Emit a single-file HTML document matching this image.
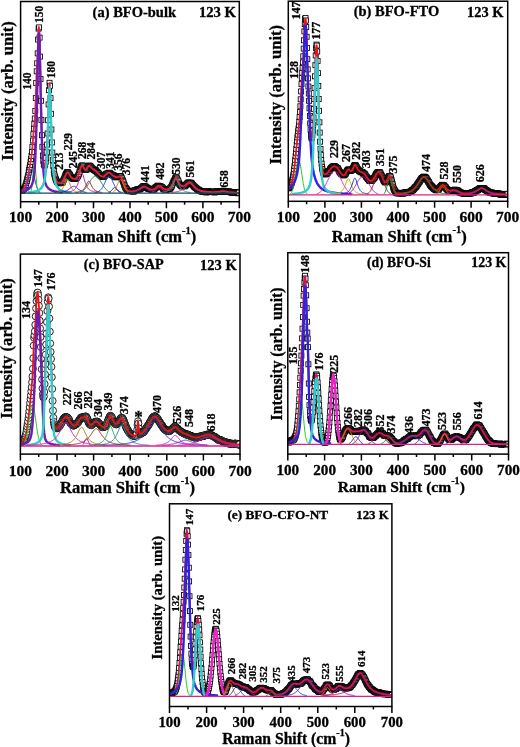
<!DOCTYPE html>
<html><head><meta charset="utf-8"><title>Raman spectra</title>
<style>html,body{margin:0;padding:0;background:#fff;overflow:hidden}svg{display:block}text{font-family:"Liberation Serif", "Times New Roman", serif;font-weight:bold;fill:#000;stroke:#000;stroke-width:0.3}path{fill:none}</style>
</head><body>
<svg width="520" height="747" viewBox="0 0 520 747">
<defs>
<marker id="ma" markerUnits="userSpaceOnUse" markerWidth="7" markerHeight="7" refX="3.5" refY="3.5" overflow="visible"><rect x="1" y="1" width="5" height="5" fill="#fff" stroke="#000" stroke-width="0.85"/></marker>
<marker id="mb" markerUnits="userSpaceOnUse" markerWidth="7" markerHeight="7" refX="3.5" refY="3.5" overflow="visible"><rect x="1" y="1" width="5" height="5" fill="#fff" stroke="#000" stroke-width="0.85"/></marker>
<marker id="mc" markerUnits="userSpaceOnUse" markerWidth="9.0" markerHeight="9.0" refX="4.5" refY="4.5" overflow="visible"><circle cx="4.5" cy="4.5" r="3.5" fill="#fff" stroke="#000" stroke-width="0.85"/></marker>
<marker id="md" markerUnits="userSpaceOnUse" markerWidth="7" markerHeight="7" refX="3.5" refY="3.5" overflow="visible"><rect x="1" y="1" width="5" height="5" fill="#fff" stroke="#000" stroke-width="0.85"/></marker>
<marker id="me" markerUnits="userSpaceOnUse" markerWidth="7" markerHeight="7" refX="3.5" refY="3.5" overflow="visible"><rect x="1" y="1" width="5" height="5" fill="#fff" stroke="#000" stroke-width="0.85"/></marker>
</defs>
<clipPath id="ca"><rect x="20.6" y="1.5" width="218.7" height="200.2"/></clipPath>
<g clip-path="url(#ca)">
<polyline points="20.6,190.5 21.1,190.3 21.5,190.8 22,190.7 22.5,190.5 23,189.9 23.4,189.5 23.9,188.9 24.4,188.3 24.9,187.6 25.3,186.3 25.8,184.8 26.3,182.8 26.8,181.1 27.2,179.3 27.7,177.4 28.2,175.3 28.7,172.5 29.1,170 29.6,167.4 30.1,165.1 30.6,162.1 31,159.1 31.5,155.9 32,152.1 32.4,146.8 32.9,140.5 33.4,134.2 33.9,128.6 34.3,123.7 34.8,118.5 35.3,110.9 35.8,98.1 36.2,83 36.7,71.3 37.2,63.3 37.7,53.4 38.1,39.6 38.6,28.6 39.1,27.4 39.6,37.6 40,56.6 40.5,78.9 41,100.8 41.4,119.9 41.9,135.2 42.4,146.8 42.9,155.5 43.3,161 43.8,164.2 44.3,165.4 44.8,165.3 45.2,164.3 45.7,161.7 46.2,158.1 46.7,152.3 47.1,144.6 47.6,133.5 48.1,120.2 48.6,104.4 49,90.2 49.5,82.8 50,85.8 50.5,98.1 50.9,113.8 51.4,129.5 51.9,142.4 52.3,152.6 52.8,160.1 53.3,165.9 53.8,170.2 54.2,173.7 54.7,175.6 55.2,177.5 55.7,178.8 56.1,180 56.6,180.9 57.1,181.9 57.6,182.3 58,182.9 58.5,182.9 59,183.2 59.5,183.2 59.9,183.2 60.4,183 60.9,182.7 61.4,182.6 61.8,182.9 62.3,182.6 62.8,181.9 63.2,180.7 63.7,179.8 64.2,178.6 64.7,177.5 65.1,176.2 65.6,175 66.1,174 66.6,173.2 67,172.4 67.5,171.9 68,172.2 68.5,173.1 68.9,173.8 69.4,174.2 69.9,175 70.4,175.9 70.8,177 71.3,177.5 71.8,177.8 72.2,178.1 72.7,178.5 73.2,178.8 73.7,178.7 74.1,178.9 74.6,178.8 75.1,178.7 75.6,178.3 76,178.3 76.5,177.9 77,177.5 77.5,176.6 77.9,176.1 78.4,175.1 78.9,173.9 79.4,172.2 79.8,170.3 80.3,168.7 80.8,167.4 81.3,166.5 81.7,165.9 82.2,165.4 82.7,165.6 83.1,166.4 83.6,167.5 84.1,168.6 84.6,169.3 85,169.7 85.5,169.8 86,169.8 86.5,169.7 86.9,168.9 87.4,167.8 87.9,166.7 88.4,166.2 88.8,165.7 89.3,165.7 89.8,165.8 90.3,166.2 90.7,166.7 91.2,167.3 91.7,167.8 92.2,168.5 92.6,168.8 93.1,169.3 93.6,169.3 94,169.8 94.5,170.1 95,170.5 95.5,170.5 95.9,171 96.4,171.4 96.9,172 97.4,172.6 97.8,172.7 98.3,173.1 98.8,173.7 99.3,174.4 99.7,175.1 100.2,175.2 100.7,175.7 101.2,176 101.6,176.4 102.1,176.8 102.6,176.8 103,177 103.5,177 104,176.8 104.5,176.1 104.9,175.4 105.4,174.6 105.9,174.2 106.4,173.9 106.8,173.7 107.3,173.7 107.8,173.5 108.3,173.4 108.7,172.9 109.2,172.7 109.7,172.9 110.2,173.3 110.6,174.1 111.1,174.4 111.6,174.7 112.1,174.8 112.5,175.3 113,175.3 113.5,175.4 113.9,175.6 114.4,176.2 114.9,176.8 115.4,177 115.8,177.2 116.3,177.2 116.8,177.2 117.3,176.9 117.7,176.6 118.2,176.5 118.7,176.4 119.2,176.5 119.6,176.5 120.1,176.3 120.6,176.6 121.1,176.6 121.5,177.7 122,178.5 122.5,179.8 123,180.9 123.4,182.2 123.9,183.7 124.4,185.1 124.8,186.3 125.3,187.5 125.8,188 126.3,188.8 126.7,189.1 127.2,190.3 127.7,190.7 128.2,191.2 128.6,191 129.1,191 129.6,191.1 130.1,191.1 130.5,191.3 131,190.9 131.5,190.8 132,190.8 132.4,191.3 132.9,191.3 133.4,191.5 133.9,191.4 134.3,190.9 134.8,190.4 135.3,190.1 135.7,190.3 136.2,190 136.7,189.8 137.2,189.5 137.6,189.4 138.1,189.3 138.6,189.1 139.1,189.4 139.5,189.3 140,189.2 140.5,188.7 141,188.3 141.4,188.1 141.9,187.8 142.4,187 142.9,186.5 143.3,186.3 143.8,186.4 144.3,186.5 144.7,186.4 145.2,186.7 145.7,186.6 146.2,187.2 146.6,187.4 147.1,187.9 147.6,188.2 148.1,188.4 148.5,188.9 149,188.6 149.5,189 150,188.9 150.4,189.3 150.9,189.3 151.4,189.8 151.9,189.9 152.3,190.1 152.8,189.7 153.3,189.6 153.8,189.2 154.2,189.1 154.7,188.5 155.2,187.9 155.6,187.4 156.1,187.3 156.6,187.2 157.1,186.5 157.5,185.8 158,185.8 158.5,185.8 159,186.2 159.4,186.2 159.9,186.5 160.4,186.5 160.9,186.8 161.3,186.7 161.8,187 162.3,187.4 162.8,188.2 163.2,188.8 163.7,188.8 164.2,189 164.7,189.4 165.1,189.8 165.6,189.7 166.1,189.6 166.5,189.4 167,189.3 167.5,189.1 168,189.3 168.4,189.2 168.9,189 169.4,188.9 169.9,188.5 170.3,188.3 170.8,187.4 171.3,187.1 171.8,185.7 172.2,184.8 172.7,183.4 173.2,182.5 173.7,181.5 174.1,180.8 174.6,179.9 175.1,178.6 175.5,177.6 176,177.3 176.5,177.6 177,178.5 177.4,179.5 177.9,180.4 178.4,181.3 178.9,182.7 179.3,184 179.8,184.7 180.3,184.9 180.8,185.5 181.2,185.7 181.7,186.4 182.2,186.3 182.7,186.1 183.1,185.5 183.6,185.9 184.1,185.9 184.6,186.4 185,185.8 185.5,185.6 186,184.9 186.4,184.4 186.9,184 187.4,183.2 187.9,182.9 188.3,182.5 188.8,182.7 189.3,182.8 189.8,182.9 190.2,182.7 190.7,182.8 191.2,182.9 191.7,183.5 192.1,184.1 192.6,184.9 193.1,185.3 193.6,185.8 194,186.5 194.5,186.7 195,187.3 195.5,187.5 195.9,188.1 196.4,188.2 196.9,189 197.3,189.2 197.8,189.8 198.3,189.7 198.8,189.8 199.2,190.2 199.7,190.6 200.2,191.1 200.7,191.1 201.1,191.3 201.6,191.2 202.1,191.6 202.6,191.6 203,191.8 203.5,191.6 204,191.6 204.5,191.7 204.9,191.8 205.4,191.8 205.9,192.2 206.3,192.3 206.8,192.3 207.3,191.7 207.8,191.4 208.2,191.3 208.7,191.5 209.2,192 209.7,192.1 210.1,192 210.6,191.7 211.1,191.9 211.6,192 212,192 212.5,191.6 213,191.6 213.5,191.8 213.9,192.2 214.4,192.3 214.9,192.3 215.4,192.1 215.8,191.8 216.3,191.5 216.8,191.4 217.2,191.6 217.7,191.7 218.2,191.9 218.7,191.7 219.1,191.5 219.6,191.4 220.1,191.6 220.6,191.8 221,191.8 221.5,191.7 222,191.7 222.5,191.4 222.9,190.9 223.4,190.8 223.9,190.8 224.4,191 224.8,191.1 225.3,191.4 225.8,191.7 226.3,191.6 226.7,191.9 227.2,192.1 227.7,192 228.1,191.6 228.6,191.3 229.1,191.7 229.6,191.6 230,191.9 230.5,192.1 231,192.3 231.5,192.6 231.9,192.3 232.4,192.5 232.9,192.2 233.4,192.3 233.8,192.4 234.3,192.4 234.8,192.5 235.3,192.5 235.7,192.5 236.2,192.6 236.7,192.7 237.1,193 237.6,193.2 238.1,193.2 238.6,192.8 239,192.6" fill="none" marker-start="url(#ma)" marker-mid="url(#ma)" marker-end="url(#ma)"/>
<path d="M20.6,190.9l.4,-.1 .3,-.2 .4,-.1 .4,-.2 .3,-.2 .4,-.2 .4,-.3 .3,-.3 .4,-.5 .3,-.5 .4,-.6 .4,-.7 .3,-.8 .4,-1 .4,-1.1 .3,-1.3 .4,-1.4 .4,-1.6 .3,-1.6 .4,-1.9 .4,-1.8 .3,-2 .4,-2 .3,-1.9 .4,-2 .4,-1.9 .3,-1.9 .4,-2.1 .4,-2.3 .3,-2.6 .4,-3.3 .4,-3.8 .3,-4.4 .4,-4.8 .4,-4.9 .3,-4.6 .4,-3.9 .4,-3.4 .3,-3.7 .4,-5.5 .3,-8.6 .4,-11.6 .4,-11.9 .3,-9.3 .4,-6.6 .4,-6.2 .3,-8.4 .4,-10.4 .4,-9.3 .3,-4.8 .4,2.1 .4,8.9 .3,14.1 .4,16.7 .3,17.3 .4,16.5 .4,14.7 .3,12.7 .4,10.4 .4,8.3 .3,6.4 .4,4.6 .4,3.3 .3,2.1 .4,1.1 .4,.3 .3,-.5 .4,-1.2 .4,-2.1 .3,-3 .4,-4.1 .3,-5.4 .4,-6.9 .4,-8.5 .3,-10.2 .4,-11.5 .4,-11.9 .3,-10.4 .4,-6.4 .4,-.4 .3,5.7 .4,10.3 .4,12.2 .3,12.1 .4,11 .3,9.4 .4,7.8 .4,6.3 .3,5 .4,4.1 .4,3.2 .3,2.5 .4,2 .4,1.7 .3,1.3 .4,1.1 .4,.8 .3,.8 .4,.6 .3,.5 .4,.4 .4,.3 .3,.2 .4,.2 .4,.2 .3,.1 .4,0 .4,0 .3,-.1 .4,-.1 .4,-.2 .3,-.2 .4,-.3 .4,-.4 .3,-.4 .4,-.5 .3,-.6 .4,-.7 .4,-.8 .3,-.8 .4,-.8 .4,-.9 .3,-.9 .4,-.9 .4,-.8 .3,-.6 .4,-.5 .4,-.3 .3,0 .4,.1 .3,.4 .4,.4 .4,.6 .3,.7 .4,.6 .4,.6 .3,.6 .4,.5 .4,.4 .3,.4 .4,.3 .4,.2 .3,.2 .4,.2 .4,.1 .3,.1 .4,0 .3,0 .4,0 .4,-.1 .3,-.1 .4,-.2 .4,-.2 .3,-.4 .4,-.4 .4,-.6 .3,-.7 .4,-.8 .4,-.9 .3,-1 .4,-1.2 .3,-1.2 .4,-1.2 .4,-1.2 .3,-1.1 .4,-.9 .4,-.7 .3,-.3 .4,0 .4,.3 .3,.5 .4,.6 .4,.7 .3,.7 .4,.6 .4,.4 .3,.3 .4,.1 .3,-.1 .4,-.3 .4,-.4 .3,-.5 .4,-.6 .4,-.6 .3,-.6 .4,-.5 .4,-.3 .3,-.1 .4,.1 .4,.2 .3,.3 .4,.3 .3,.4 .4,.4 .4,.4 .3,.4 .4,.3 .4,.3 .3,.2 .4,.3 .4,.2 .3,.2 .4,.3 .4,.2 .3,.3 .4,.2 .4,.3 .3,.3 .4,.4 .3,.3 .4,.4 .4,.4 .3,.4 .4,.4 .4,.4 .3,.4 .4,.4 .4,.3 .3,.4 .4,.3 .4,.2 .3,.2 .4,.2 .3,.1 .4,.1 .4,-0 .3,-.1 .4,-.1 .4,-.2 .3,-.3 .4,-.3 .4,-.3 .3,-.3 .4,-.4 .4,-.4 .3,-.4 .4,-.3 .4,-.3 .3,-.3 .4,-.2 .3,-.1 .4,0 .4,0 .3,.1 .4,.2 .4,.3 .3,.3 .4,.3 .4,.4 .3,.3 .4,.3 .4,.3 .3,.2 .4,.3 .3,.2 .4,.2 .4,.2 .3,.2 .4,.2 .4,.2 .3,.2 .4,.1 .4,.1 .3,.1 .4,-.1 .4,-.1 .3,-.1 .4,-.2 .4,-.2 .3,-.2 .4,-.1 .3,0 .4,0 .4,.2 .3,.3 .4,.5 .4,.6 .3,.7 .4,.8 .4,.9 .3,1 .4,1 .4,1 .3,.9 .4,1 .3,.9 .4,.8 .4,.8 .3,.6 .4,.6 .4,.5 .3,.4 .4,.4 .4,.3 .3,.2 .4,.2 .4,.1 .3,.1 .4,.1 .4,.1 .3,0 .4,0 .3,0 .4,0 .4,0 .3,0 .4,-.1 .4,0 .3,-.1 .4,-0 .4,-.1 .3,-0 .4,-.1 .4,-.1 .3,-.1 .4,-.1 .3,-.1 .4,-.1 .4,-.1 .3,-.2 .4,-.1 .4,-.2 .3,-.2 .4,-.2 .4,-.2 .3,-.2 .4,-.2 .4,-.2 .3,-.3 .4,-.2 .3,-.3 .4,-.2 .4,-.2 .3,-.3 .4,-.1 .4,-.2 .3,-.1 .4,-.1 .4,-0 .3,-0 .4,-0 .4,.2 .3,.1 .4,.2 .4,.2 .3,.2 .4,.2 .3,.2 .4,.3 .4,.2 .3,.2 .4,.2 .4,.2 .3,.1 .4,.2 .4,.1 .3,.1 .4,.1 .4,-0 .3,-0 .4,-0 .3,-0 .4,-.1 .4,-.1 .3,-.1 .4,-.2 .4,-.2 .3,-.3 .4,-.2 .4,-.3 .3,-.3 .4,-.3 .4,-.4 .3,-.3 .4,-.3 .4,-.3 .3,-.2 .4,-.2 .3,-.1 .4,-.1 .4,-0 .3,.1 .4,.2 .4,.2 .3,.3 .4,.2 .4,.4 .3,.3 .4,.3 .4,.3 .3,.3 .4,.3 .3,.2 .4,.2 .4,.2 .3,.1 .4,.2 .4,-0 .3,.1 .4,-0 .4,-0 .3,-.1 .4,-0 .4,-.2 .3,-.1 .4,-.2 .4,-.2 .3,-.2 .4,-.3 .3,-.3 .4,-.4 .4,-.4 .3,-.5 .4,-.5 .4,-.6 .3,-.7 .4,-.7 .4,-.9 .3,-.9 .4,-.9 .4,-.9 .3,-.9 .4,-.8 .3,-.7 .4,-.5 .4,-.1 .3,-0 .4,.4 .4,.5 .3,.8 .4,.8 .4,.8 .3,.8 .4,.8 .4,.7 .3,.6 .4,.5 .4,.5 .3,.4 .4,.3 .3,.2 .4,.2 .4,.2 .3,.1 .4,-0 .4,-0 .3,-.1 .4,-.1 .4,-.1 .3,-.2 .4,-.2 .4,-.3 .3,-.3 .4,-.3 .3,-.3 .4,-.3 .4,-.3 .3,-.4 .4,-.3 .4,-.2 .3,-.2 .4,-.2 .4,-.1 .3,-0 .4,.1 .4,.2 .3,.2 .4,.3 .4,.4 .3,.4 .4,.4 .3,.5 .4,.4 .4,.5 .3,.4 .4,.4 .4,.4 .3,.4 .4,.3 .4,.4 .3,.3 .4,.3 .4,.2 .3,.3 .4,.2 .3,.2 .4,.2 .4,.2 .3,.1 .4,.2 .4,.1 .3,.2 .4,.1 .4,.1 .3,.1 .4,.1 .4,.1 .3,.1 .4,.1 .4,.1 .3,0 .4,.1 .3,.1 .4,0 .4,.1 .3,0 .4,.1 .4,0 .3,0 .4,.1 .4,0 .3,0 .4,.1 .4,0 .3,0 .4,.1 .3,0 .4,0 .4,0 .3,0 .4,0 .4,.1 .3,0 .4,0 .4,0 .3,0 .4,0 .4,0 .3,0 .4,0 .3,0 .4,0 .4,-.1 .3,0 .4,0 .4,0 .3,0 .4,-.1 .4,0 .3,0 .4,-.1 .4,0 .3,-.1 .4,0 .4,-.1 .3,0 .4,-.1 .3,0 .4,-.1 .4,-.1 .3,0 .4,-.1 .4,-0 .3,-0 .4,-0 .4,-0 .3,-0 .4,-0 .4,-0 .3,.1 .4,.1 .3,0 .4,.1 .4,.1 .3,0 .4,.1 .4,.1 .3,.1 .4,0 .4,.1 .3,.1 .4,0 .4,.1 .3,0 .4,.1 .4,0 .3,0 .4,.1 .3,0 .4,0 .4,.1 .3,0 .4,0 .4,.1 .3,0 .4,0 .4,0 .3,0 .4,.1 .4,0 .3,0 .4,0 .3,0 .4,0 .4,0 .3,.1 .4,0 .4,0 .3,0 .4,0" stroke="#e8203c" stroke-width="1.8"/>
<path d="M22.8,192.4l.4,-.2 .3,-.2 .4,-.3 .3,-.4 .4,-.5 .4,-.6 .3,-.6 .4,-.9 .4,-.9 .3,-1.1 .4,-1.2 .4,-1.4 .3,-1.4 .4,-1.6 .4,-1.6 .3,-1.6 .4,-1.7 .3,-1.5 .4,-1.4 .4,-1.3 .3,-1.1 .4,-.7 .4,-.5 .3,-.2 .4,.2 .4,.5 .3,.7 .4,1.1 .4,1.3 .3,1.4 .4,1.5 .4,1.7 .3,1.6 .4,1.6 .3,1.6 .4,1.4 .4,1.4 .3,1.2 .4,1.1 .4,.9 .3,.9 .4,.6 .4,.6 .3,.5 .4,.4 .4,.3 .3,.2 .4,.2" stroke="#2233ee" stroke-width="1"/>
<path d="M30.1,192.8l.3,-.4 .4,-.7 .4,-1.2 .3,-1.7 .4,-2.6 .4,-3.3 .3,-4.1 .4,-4.4 .4,-4.5 .3,-3.7 .4,-2.6 .4,-.9 .3,.9 .4,2.6 .3,3.7 .4,4.5 .4,4.4 .3,4.1 .4,3.3 .4,2.6 .3,1.7 .4,1.2 .4,.7 .3,.4" stroke="#22cc22" stroke-width="1"/>
<path d="M20.6,191.8l.4,0 .3,-.1 .4,-0 .4,-.1 .3,-.1 .4,-0 .4,-.1 .3,-.1 .4,-.1 .3,-.1 .4,-.1 .4,-.1 .3,-.1 .4,-.2 .4,-.1 .3,-.2 .4,-.1 .4,-.2 .3,-.2 .4,-.2 .4,-.3 .3,-.3 .4,-.3 .3,-.3 .4,-.3 .4,-.5 .3,-.4 .4,-.5 .4,-.6 .3,-.7 .4,-.8 .4,-.9 .3,-1.1 .4,-1.3 .4,-1.7 .3,-2.1 .4,-2.8 .4,-3.6 .3,-4.7 .4,-6 .3,-7.8 .4,-9.6 .4,-11.8 .3,-13.9 .4,-15.9 .4,-17.1 .3,-17.5 .4,-16 .4,-12.2 .3,-6 .4,1.5 .4,8.8 .3,14 .4,16.8 .3,17.5 .4,16.8 .4,15.1 .3,13 .4,11 .4,8.8 .3,7.1 .4,5.5 .4,4.2 .3,3.2 .4,2.5 .4,1.9 .3,1.6 .4,1.2 .4,1 .3,.9 .4,.7 .3,.6 .4,.6 .4,.5 .3,.4 .4,.4 .4,.4 .3,.3 .4,.3 .4,.2 .3,.2 .4,.3 .4,.2 .3,.1 .4,.2 .3,.1 .4,.2 .4,.1 .3,.1 .4,.1 .4,.1 .3,.1 .4,.1 .4,.1 .3,.1 .4,.1 .4,0 .3,.1 .4,.1 .3,0 .4,.1 .4,0 .3,.1 .4,0 .4,.1 .3,0 .4,0 .4,.1 .3,0 .4,0 .4,.1 .3,0 .4,0 .4,.1 .3,0 .4,0" stroke="#6a1fb0" stroke-width="2.4"/>
<path d="M27.5,192.4l.4,0 .4,0 .3,-.1 .4,0 .3,0 .4,-.1 .4,-0 .3,-0 .4,-.1 .4,-0 .3,-.1 .4,-0 .4,-.1 .3,-0 .4,-.1 .4,-0 .3,-.1 .4,-.1 .4,-0 .3,-.1 .4,-.1 .3,-.1 .4,-.1 .4,-.1 .3,-.1 .4,-.2 .4,-.1 .3,-.1 .4,-.2 .4,-.2 .3,-.2 .4,-.2 .4,-.2 .3,-.3 .4,-.3 .3,-.3 .4,-.4 .4,-.4 .3,-.5 .4,-.5 .4,-.7 .3,-.7 .4,-.8 .4,-1 .3,-1.1 .4,-1.3 .4,-1.7 .3,-2 .4,-2.4 .4,-3.1 .3,-3.9 .4,-4.8 .3,-6 .4,-7.4 .4,-9 .3,-10.6 .4,-11.9 .4,-12.2 .3,-10.7 .4,-6.6 .4,-.7 .3,5.6 .4,10.1 .4,12.1 .3,12 .4,10.9 .3,9.3 .4,7.7 .4,6.3 .3,5.1 .4,4 .4,3.2 .3,2.6 .4,2.1 .4,1.7 .3,1.4 .4,1.1 .4,1 .3,.9 .4,.7 .3,.6 .4,.6 .4,.5 .3,.4 .4,.4 .4,.3 .3,.3 .4,.3 .4,.2 .3,.3 .4,.2 .4,.2 .3,.1 .4,.2 .4,.1 .3,.1 .4,.2 .3,.1 .4,.1 .4,.1 .3,.1 .4,0 .4,.1 .3,.1 .4,.1 .4,0 .3,.1 .4,0 .4,.1 .3,0 .4,.1 .3,0 .4,.1 .4,0 .3,0 .4,.1 .4,0 .3,0 .4,.1 .4,0 .3,0" stroke="#33cccc" stroke-width="2.4"/>
<path d="M54.1,192.4l.4,0 .4,-.1 .3,-.1 .4,-.2 .4,-.1 .3,-.1 .4,-.1 .3,-.1 .4,-.1 .4,-.1 .3,-.1 .4,-.1 .4,-.1 .3,-0 .4,-.1 .4,-0 .3,-.1 .4,-0 .4,-0 .3,-0 .4,-0 .4,.1 .3,-0 .4,.1 .3,-0 .4,.1 .4,.1 .3,.1 .4,.1 .4,.1 .3,.1 .4,.1 .4,.1 .3,.1 .4,.2 .4,.1 .3,.1 .4,0" stroke="#1122cc" stroke-width="1"/>
<path d="M56.7,192.4l.3,-.1 .4,0 .4,-.1 .3,-.1 .4,-.1 .4,-.1 .3,-.1 .4,-.2 .4,-.2 .3,-.2 .4,-.3 .4,-.3 .3,-.3 .4,-.5 .4,-.5 .3,-.5 .4,-.6 .3,-.7 .4,-.8 .4,-.8 .3,-.9 .4,-.9 .4,-.9 .3,-.9 .4,-.9 .4,-.7 .3,-.6 .4,-.4 .4,-.2 .3,.1 .4,.3 .3,.5 .4,.7 .4,.8 .3,.9 .4,.9 .4,1 .3,.8 .4,.9 .4,.8 .3,.7 .4,.6 .4,.6 .3,.5 .4,.5 .4,.4 .3,.3 .4,.3 .3,.2 .4,.2 .4,.2 .3,.2 .4,.1 .4,.1 .3,.1 .4,.1 .4,0 .3,.1 .4,0" stroke="#e08a00" stroke-width="1"/>
<path d="M60.7,192.4l.4,0 .3,-.1 .4,0 .4,-.1 .3,-0 .4,-.1 .3,-.1 .4,-.1 .4,-.1 .3,-.1 .4,-.1 .4,-.1 .3,-.2 .4,-.1 .4,-.2 .3,-.2 .4,-.2 .4,-.2 .3,-.2 .4,-.3 .3,-.2 .4,-.3 .4,-.3 .3,-.3 .4,-.3 .4,-.3 .3,-.3 .4,-.2 .4,-.3 .3,-.3 .4,-.2 .4,-.2 .3,-.2 .4,-.1 .4,-.1 .3,-0 .4,-0 .3,.1 .4,.2 .4,.2 .3,.2 .4,.3 .4,.2 .3,.3 .4,.3 .4,.3 .3,.3 .4,.3 .4,.3 .3,.3 .4,.2 .3,.3 .4,.2 .4,.2 .3,.2 .4,.2 .4,.2 .3,.1 .4,.2 .4,.1 .3,.2 .4,.1 .4,.1 .3,.1 .4,-0 .4,.1 .3,.1 .4,.1 .3,0 .4,.1 .4,0" stroke="#2222dd" stroke-width="1"/>
<path d="M65.1,192.4l.3,0 .4,-.1 .4,0 .3,-.1 .4,-0 .4,-0 .3,-.1 .4,-0 .3,-.1 .4,-.1 .4,-0 .3,-.1 .4,-.1 .4,-.1 .3,-.1 .4,-.1 .4,-.1 .3,-.1 .4,-.2 .4,-.1 .3,-.2 .4,-.2 .4,-.2 .3,-.3 .4,-.2 .3,-.3 .4,-.4 .4,-.4 .3,-.5 .4,-.5 .4,-.6 .3,-.7 .4,-.7 .4,-.8 .3,-1 .4,-1 .4,-1.1 .3,-1.2 .4,-1.3 .3,-1.3 .4,-1.3 .4,-1.2 .3,-1.1 .4,-.8 .4,-.5 .3,-.1 .4,.3 .4,.6 .3,.9 .4,1.1 .4,1.3 .3,1.3 .4,1.3 .4,1.2 .3,1.2 .4,1.1 .3,1 .4,.9 .4,.8 .3,.7 .4,.7 .4,.5 .3,.5 .4,.5 .4,.3 .3,.4 .4,.3 .4,.2 .3,.3 .4,.2 .3,.2 .4,.1 .4,.2 .3,.1 .4,.1 .4,.2 .3,.1 .4,.1 .4,-0 .3,.1 .4,.1 .4,.1 .3,-0 .4,.1 .4,-0 .3,.1 .4,-0 .3,.1 .4,-0 .4,-0 .3,.1 .4,-0" stroke="#cc2299" stroke-width="1"/>
<path d="M75.3,192.4l.3,0 .4,0 .4,-.1 .3,0 .4,-.1 .4,-.1 .3,-0 .4,-.1 .4,-.1 .3,-.1 .4,-0 .3,-.2 .4,-.1 .4,-.1 .3,-.1 .4,-.2 .4,-.2 .3,-.2 .4,-.2 .4,-.3 .3,-.3 .4,-.3 .4,-.4 .3,-.4 .4,-.4 .4,-.6 .3,-.6 .4,-.6 .3,-.7 .4,-.7 .4,-.8 .3,-.7 .4,-.8 .4,-.6 .3,-.6 .4,-.3 .4,-.1 .3,.1 .4,.3 .4,.6 .3,.6 .4,.8 .3,.7 .4,.8 .4,.7 .3,.7 .4,.6 .4,.6 .3,.6 .4,.4 .4,.4 .3,.4 .4,.3 .4,.3 .3,.3 .4,.2 .4,.2 .3,.2 .4,.2 .3,.1 .4,.1 .4,.1 .3,.2 .4,-0 .4,.1 .3,.1 .4,.1 .4,-0 .3,.1 .4,.1 .4,0 .3,.1 .4,0 .3,0" stroke="#aa1122" stroke-width="1"/>
<path d="M80,192.4l.4,-.1 .3,-.2 .4,-.1 .4,-.2 .3,-.2 .4,-.2 .4,-.2 .3,-.3 .4,-.3 .4,-.3 .3,-.3 .4,-.4 .4,-.4 .3,-.4 .4,-.4 .3,-.5 .4,-.5 .4,-.5 .3,-.5 .4,-.5 .4,-.6 .3,-.6 .4,-.6 .4,-.6 .3,-.6 .4,-.6 .4,-.6 .3,-.6 .4,-.6 .3,-.5 .4,-.6 .4,-.5 .3,-.5 .4,-.4 .4,-.4 .3,-.4 .4,-.3 .4,-.2 .3,-.2 .4,-.2 .4,-.1 .3,-0 .4,-0 .4,.1 .3,.2 .4,.2 .3,.2 .4,.3 .4,.4 .3,.4 .4,.4 .4,.5 .3,.5 .4,.6 .4,.5 .3,.6 .4,.6 .4,.6 .3,.6 .4,.6 .3,.6 .4,.6 .4,.6 .3,.6 .4,.5 .4,.5 .3,.5 .4,.5 .4,.5 .3,.4 .4,.4 .4,.4 .3,.4 .4,.3 .4,.3 .3,.3 .4,.3 .3,.2 .4,.2 .4,.2 .3,.2 .4,.1 .4,.2 .3,.1" stroke="#1a8a2a" stroke-width="1"/>
<path d="M95.3,192.4l.4,-.1 .4,0 .3,-.1 .4,-.1 .3,-.1 .4,-.1 .4,-.1 .3,-.2 .4,-.2 .4,-.2 .3,-.2 .4,-.3 .4,-.3 .3,-.3 .4,-.4 .4,-.4 .3,-.4 .4,-.6 .3,-.5 .4,-.6 .4,-.6 .3,-.7 .4,-.7 .4,-.8 .3,-.8 .4,-.8 .4,-.8 .3,-.8 .4,-.8 .4,-.8 .3,-.7 .4,-.7 .4,-.6 .3,-.5 .4,-.4 .3,-.3 .4,-.2 .4,-0 .3,.1 .4,.3 .4,.4 .3,.5 .4,.6 .4,.6 .3,.7 .4,.8 .4,.8 .3,.8 .4,.8 .3,.9 .4,.7 .4,.8 .3,.7 .4,.7 .4,.7 .3,.6 .4,.5 .4,.6 .3,.4 .4,.5 .4,.3 .3,.4 .4,.3 .4,.3 .3,.2 .4,.2 .3,.2 .4,.1 .4,.2 .3,.1 .4,.1 .4,.1 .3,.1 .4,0 .4,.1 .3,0" stroke="#2244dd" stroke-width="1"/>
<path d="M108.8,192.5l.4,-.1 .3,-.2 .4,-.2 .4,-.3 .3,-.3 .4,-.3 .4,-.4 .3,-.4 .4,-.4 .4,-.5 .3,-.5 .4,-.4 .3,-.4 .4,-.2 .4,-.2 .3,-.1 .4,.1 .4,.2 .3,.2 .4,.4 .4,.4 .3,.5 .4,.5 .4,.4 .3,.4 .4,.4 .4,.3 .3,.3 .4,.3 .3,.2 .4,.2 .4,.1" stroke="#111188" stroke-width="1"/>
<path d="M112.8,192.5l.4,-.3 .3,-.3 .4,-.3 .4,-.4 .3,-.5 .4,-.6 .4,-.6 .3,-.8 .4,-.8 .4,-.8 .3,-.9 .4,-1 .4,-.9 .3,-.9 .4,-.9 .4,-.8 .3,-.7 .4,-.6 .3,-.4 .4,-.3 .4,-.1 .3,.1 .4,.3 .4,.4 .3,.6 .4,.7 .4,.8 .3,.9 .4,.9 .4,.9 .3,1 .4,.9 .3,.8 .4,.8 .4,.8 .3,.6 .4,.6 .4,.5 .3,.4 .4,.3 .4,.3 .3,.3" stroke="#ee7700" stroke-width="1"/>
<path d="M131,192.4l.4,0 .4,-.1 .3,0 .4,-.1 .4,-0 .3,-.1 .4,-0 .4,-.1 .3,-.1 .4,-.1 .4,-.1 .3,-.1 .4,-.1 .3,-.1 .4,-.1 .4,-.1 .3,-.2 .4,-.1 .4,-.2 .3,-.2 .4,-.1 .4,-.3 .3,-.2 .4,-.2 .4,-.2 .3,-.3 .4,-.2 .3,-.3 .4,-.2 .4,-.2 .3,-.2 .4,-.2 .4,-.2 .3,-.1 .4,-.1 .4,-0 .3,-0 .4,.1 .4,.1 .3,.2 .4,.2 .4,.2 .3,.2 .4,.2 .3,.3 .4,.2 .4,.3 .3,.2 .4,.2 .4,.2 .3,.3 .4,.1 .4,.2 .3,.2 .4,.1 .4,.2 .3,.1 .4,.1 .3,.1 .4,.1 .4,.1 .3,.1 .4,.1 .4,.1 .3,.1 .4,-0 .4,.1 .3,-0 .4,.1 .4,0 .3,.1 .4,0" stroke="#7722aa" stroke-width="1"/>
<path d="M151.8,192.4l.4,-.1 .3,-.1 .4,-.2 .4,-.2 .3,-.2 .4,-.3 .4,-.2 .3,-.3 .4,-.3 .4,-.4 .3,-.3 .4,-.3 .4,-.4 .3,-.3 .4,-.4 .4,-.3 .3,-.2 .4,-.2 .3,-.1 .4,-.1 .4,0 .3,.1 .4,.2 .4,.2 .3,.3 .4,.3 .4,.4 .3,.3 .4,.4 .4,.3 .3,.4 .4,.3 .3,.3 .4,.2 .4,.3 .3,.2 .4,.2 .4,.2 .3,.1 .4,.2 .4,.1" stroke="#dd2277" stroke-width="1"/>
<path d="M160.9,192.4l.4,0 .4,0 .3,-.1 .4,0 .4,-.1 .3,-0 .4,-.1 .3,-0 .4,-.1 .4,-.1 .3,-.1 .4,-.1 .4,-0 .3,-.1 .4,-.2 .4,-.1 .3,-.1 .4,-.2 .4,-.1 .3,-.2 .4,-.2 .4,-.3 .3,-.2 .4,-.3 .3,-.3 .4,-.4 .4,-.4 .3,-.5 .4,-.5 .4,-.6 .3,-.7 .4,-.7 .4,-.8 .3,-.9 .4,-.9 .4,-.9 .3,-.8 .4,-.8 .3,-.7 .4,-.4 .4,-.1 .3,.1 .4,.4 .4,.7 .3,.8 .4,.8 .4,.9 .3,.9 .4,.9 .4,.8 .3,.7 .4,.7 .4,.6 .3,.5 .4,.5 .3,.4 .4,.4 .4,.3 .3,.3 .4,.2 .4,.3 .3,.2 .4,.2 .4,.1 .3,.2 .4,.1 .4,.1 .3,.2 .4,.1 .3,-0 .4,.1 .4,.1 .3,.1 .4,.1 .4,-0 .3,.1 .4,-0 .4,.1 .3,0 .4,.1 .4,0 .3,0" stroke="#2aa0a0" stroke-width="1"/>
<path d="M171.1,192.4l.4,0 .4,0 .3,-.1 .4,0 .4,0 .3,-.1 .4,-0 .4,-.1 .3,-0 .4,-0 .3,-.1 .4,-0 .4,-.1 .3,-.1 .4,-0 .4,-.1 .3,-.1 .4,-.1 .4,-0 .3,-.1 .4,-.1 .4,-.1 .3,-.2 .4,-.1 .4,-.1 .3,-.2 .4,-.1 .3,-.2 .4,-.2 .4,-.2 .3,-.2 .4,-.2 .4,-.3 .3,-.2 .4,-.3 .4,-.3 .3,-.4 .4,-.3 .4,-.4 .3,-.4 .4,-.4 .3,-.4 .4,-.5 .4,-.4 .3,-.4 .4,-.3 .4,-.4 .3,-.2 .4,-.2 .4,-.2 .3,-0 .4,-0 .4,.2 .3,.2 .4,.2 .4,.4 .3,.3 .4,.4 .3,.4 .4,.5 .4,.4 .3,.4 .4,.4 .4,.4 .3,.3 .4,.4 .4,.3 .3,.3 .4,.2 .4,.3 .3,.2 .4,.2 .3,.2 .4,.2 .4,.2 .3,.1 .4,.2 .4,.1 .3,.1 .4,.2 .4,.1 .3,.1 .4,.1 .4,-0 .3,.1 .4,.1 .4,.1 .3,-0 .4,.1 .3,.1 .4,-0 .4,.1 .3,-0 .4,-0 .4,.1 .3,-0 .4,.1 .4,0 .3,0 .4,.1 .4,0 .3,0" stroke="#dd2277" stroke-width="1"/>
<path d="M217.8,192.4l.4,-.1 .3,0 .4,-.1 .4,-0 .3,-.1 .4,-.1 .3,-0 .4,-.1 .4,-.1 .3,-0 .4,-.1 .4,-0 .3,-.1 .4,-0 .4,-0 .3,-0 .4,-0 .4,.1 .3,-0 .4,.1 .3,-0 .4,.1 .4,.1 .3,-0 .4,.1 .4,.1 .3,-0 .4,.1 .4,0 .3,.1" stroke="#884488" stroke-width="1"/>
<path d="M20.6,193.2H239.3" stroke="#0b4f5a" stroke-width="1.3"/>
</g>
<rect x="20.6" y="1.5" width="218.7" height="200.2" fill="none" stroke="#000" stroke-width="1.5"/>
<path d="M20.6,201.7v6.5M38.8,201.7v3M57.1,201.7v6.5M75.3,201.7v3M93.5,201.7v6.5M111.7,201.7v3M130,201.7v6.5M148.2,201.7v3M166.4,201.7v6.5M184.6,201.7v3M202.9,201.7v6.5M221.1,201.7v3M239.3,201.7v6.5" stroke="#000" stroke-width="1.5"/>
<text x="20.6" y="221.7" font-size="15.5" text-anchor="middle">100</text>
<text x="57.1" y="221.7" font-size="15.5" text-anchor="middle">200</text>
<text x="93.5" y="221.7" font-size="15.5" text-anchor="middle">300</text>
<text x="130" y="221.7" font-size="15.5" text-anchor="middle">400</text>
<text x="166.4" y="221.7" font-size="15.5" text-anchor="middle">500</text>
<text x="202.9" y="221.7" font-size="15.5" text-anchor="middle">600</text>
<text x="239.3" y="221.7" font-size="15.5" text-anchor="middle">700</text>
<text x="61.9" y="241.8" font-size="16.5">Raman Shift (cm<tspan font-size="10.6" dy="-8.2">-1</tspan><tspan dy="8.2">)</tspan></text>
<text transform="translate(12.8,160.8) rotate(-90)" font-size="16.6">Intensity (arb. unit)</text>
<text x="92.6" y="17" font-size="14.5">(a) BFO-bulk</text>
<text x="198.9" y="17" font-size="14.7">123 K</text>
<text transform="translate(31,81) rotate(-90)" font-size="11.5" text-anchor="middle">140</text>
<text transform="translate(42.7,14.4) rotate(-90)" font-size="11.5" text-anchor="middle">150</text>
<text transform="translate(54.6,69.6) rotate(-90)" font-size="11.5" text-anchor="middle">180</text>
<text transform="translate(63,161.2) rotate(-90)" font-size="11.5" text-anchor="middle">213</text>
<text transform="translate(72.3,141.6) rotate(-90)" font-size="11.5" text-anchor="middle">229</text>
<text transform="translate(76.8,159.7) rotate(-90)" font-size="11.5" text-anchor="middle">245</text>
<text transform="translate(86.1,150.4) rotate(-90)" font-size="11.5" text-anchor="middle">268</text>
<text transform="translate(95.3,150.8) rotate(-90)" font-size="11.5" text-anchor="middle">284</text>
<text transform="translate(105.3,160.4) rotate(-90)" font-size="11.5" text-anchor="middle">307</text>
<text transform="translate(113.8,160) rotate(-90)" font-size="11.5" text-anchor="middle">341</text>
<text transform="translate(121.5,162.2) rotate(-90)" font-size="11.5" text-anchor="middle">356</text>
<text transform="translate(130,166.5) rotate(-90)" font-size="11.5" text-anchor="middle">376</text>
<text transform="translate(149.2,173.9) rotate(-90)" font-size="11.5" text-anchor="middle">441</text>
<text transform="translate(164.2,171) rotate(-90)" font-size="11.5" text-anchor="middle">482</text>
<text transform="translate(180.3,166) rotate(-90)" font-size="11.5" text-anchor="middle">530</text>
<text transform="translate(194.2,168.9) rotate(-90)" font-size="11.5" text-anchor="middle">561</text>
<text transform="translate(227.7,178.8) rotate(-90)" font-size="11.5" text-anchor="middle">658</text>
<clipPath id="cb"><rect x="288.3" y="1.2" width="219.4" height="200.1"/></clipPath>
<g clip-path="url(#cb)">
<polyline points="288.3,188.3 288.7,188.2 289,187.7 289.4,187.4 289.8,187.1 290.1,186.8 290.5,186 290.9,184.9 291.2,184.1 291.6,183 292,181.9 292.3,180.2 292.7,178.6 293.1,176.8 293.4,174.7 293.8,172.4 294.2,169.2 294.5,166.1 294.9,162.8 295.2,159.8 295.6,156.3 296,152.7 296.3,149 296.7,144.9 297.1,141.3 297.4,137.4 297.8,134.6 298.2,131.2 298.5,128.5 298.9,125.2 299.3,121.6 299.6,117.1 300,112.1 300.4,106.3 300.7,99.3 301.1,91.4 301.5,84.1 301.8,78 302.2,72.7 302.6,67.9 302.9,62.3 303.3,56.3 303.7,48.6 304,40.3 304.4,31.4 304.8,24.1 305.1,19 305.5,17.9 305.9,20.5 306.2,27.1 306.6,36.8 306.9,47.9 307.3,59.2 307.7,69.4 308,78.4 308.4,86.5 308.8,93.5 309.1,100.8 309.5,108.3 309.9,115.9 310.2,123.4 310.6,129.6 311,134.7 311.3,137.3 311.7,138.3 312.1,137.2 312.4,134.9 312.8,130.8 313.2,125.1 313.5,117.6 313.9,108.9 314.3,99 314.6,88.1 315,76.3 315.4,65.2 315.7,55.4 316.1,48.2 316.5,44.6 316.8,45.6 317.2,51.5 317.6,61 317.9,73.1 318.3,85.9 318.7,99 319,110.8 319.4,122.3 319.7,132.6 320.1,141.7 320.5,149 320.8,154.9 321.2,159.9 321.6,163.7 321.9,166.8 322.3,169 322.7,170.6 323,171.9 323.4,173 323.8,173.9 324.1,174.2 324.5,174.3 324.9,174.2 325.2,174.1 325.6,174.2 326,173.8 326.3,173.7 326.7,173.4 327.1,173.4 327.4,173 327.8,172.6 328.2,171.7 328.5,171.2 328.9,171 329.3,170.9 329.6,170.7 330,169.8 330.4,169 330.7,168.4 331.1,168.1 331.4,167.9 331.8,167.4 332.2,166.9 332.5,166.7 332.9,166.7 333.3,166.7 333.6,166.4 334,166 334.4,166 334.7,166.2 335.1,166.7 335.5,166.9 335.8,167 336.2,167.2 336.6,167.8 336.9,167.9 337.3,168.1 337.7,168.3 338,168.8 338.4,169.5 338.8,170.2 339.1,171 339.5,171.7 339.9,172.1 340.2,172.6 340.6,173 341,173.5 341.3,173.8 341.7,174.2 342.1,174.2 342.4,174.3 342.8,174.6 343.1,175 343.5,175.4 343.9,175.2 344.2,174.8 344.6,174.6 345,174.3 345.3,174.1 345.7,173.4 346.1,172.8 346.4,172.1 346.8,171.2 347.2,170.8 347.5,170.2 347.9,169.9 348.3,169.6 348.6,169.4 349,169.8 349.4,169.9 349.7,170.6 350.1,170.8 350.5,171 350.8,170.6 351.2,170.4 351.6,170.1 351.9,170.1 352.3,169.4 352.7,169 353,168.2 353.4,167.8 353.8,166.9 354.1,165.9 354.5,165.2 354.9,165 355.2,165.2 355.6,165.4 355.9,166 356.3,166.8 356.7,167.2 357,168.1 357.4,168.8 357.8,169.6 358.1,169.6 358.5,170 358.9,170.5 359.2,171 359.6,171.2 360,171.3 360.3,171.5 360.7,171.8 361.1,172.2 361.4,172.3 361.8,172 362.2,171.9 362.5,172.2 362.9,172.9 363.3,173.6 363.6,173.5 364,173.7 364.4,173.7 364.7,174.2 365.1,174.6 365.5,175.2 365.8,176.1 366.2,176.7 366.6,177 366.9,177.3 367.3,177.9 367.6,178.4 368,179 368.4,179.1 368.7,179.7 369.1,180.2 369.5,180.6 369.8,181 370.2,180.7 370.6,180.4 370.9,180.2 371.3,180.7 371.7,180.7 372,180.6 372.4,179.8 372.8,179.3 373.1,178.5 373.5,178.4 373.9,178.3 374.2,178.1 374.6,177.4 375,176.8 375.3,175.8 375.7,175 376.1,174.3 376.4,173.9 376.8,173.4 377.2,172.7 377.5,172.6 377.9,172.4 378.3,172.5 378.6,172.2 379,172.4 379.4,172.5 379.7,172.3 380.1,172.6 380.4,173.2 380.8,174.3 381.2,174.9 381.5,175.7 381.9,176.3 382.3,177.2 382.6,177.9 383,178.8 383.4,179.8 383.7,180.4 384.1,181.1 384.5,181.5 384.8,182 385.2,182.3 385.6,182.3 385.9,182.2 386.3,181.6 386.7,181 387,180.5 387.4,179.9 387.8,178.9 388.1,177.7 388.5,177 388.9,176.4 389.2,176.1 389.6,175.9 390,176.1 390.3,176.3 390.7,177.3 391.1,178.7 391.4,179.9 391.8,181.3 392.1,182.6 392.5,184 392.9,185.5 393.2,187.2 393.6,188.4 394,189.3 394.3,189.8 394.7,190.6 395.1,191.4 395.4,191.7 395.8,192.5 396.2,192.8 396.5,193.2 396.9,193.1 397.3,193 397.6,192.9 398,193.2 398.4,193.4 398.7,193.3 399.1,193.1 399.5,193.1 399.8,193.2 400.2,193 400.6,192.8 400.9,193.1 401.3,193.4 401.7,193.4 402,193.1 402.4,193.2 402.8,193.4 403.1,193.6 403.5,193.2 403.9,193.2 404.2,192.7 404.6,192.8 404.9,192.5 405.3,192.5 405.7,192.3 406,192.3 406.4,192.6 406.8,192.5 407.1,192.8 407.5,192.6 407.9,192.6 408.2,192.5 408.6,192.2 409,192 409.3,192 409.7,191.9 410.1,192 410.4,191.4 410.8,191.5 411.2,191.2 411.5,191 411.9,190.3 412.3,190.2 412.6,190.1 413,190.2 413.4,189.4 413.7,189.1 414.1,188.6 414.5,188.2 414.8,187.6 415.2,187.3 415.6,187.2 415.9,186.9 416.3,186.3 416.6,185.9 417,185.3 417.4,184.7 417.7,184.1 418.1,183.6 418.5,183.1 418.8,182.3 419.2,181.9 419.6,181.6 419.9,180.9 420.3,180.1 420.7,179.6 421,179.3 421.4,178.6 421.8,178.1 422.1,177.9 422.5,177.9 422.9,177.3 423.2,177 423.6,176.8 424,176.9 424.3,176.7 424.7,176.9 425.1,177.2 425.4,177.5 425.8,177.7 426.2,178.1 426.5,178.5 426.9,179.4 427.3,179.8 427.6,180.4 428,181 428.4,181.7 428.7,182.2 429.1,182.5 429.4,183.4 429.8,184.2 430.2,184.9 430.5,185.1 430.9,185.8 431.3,186.2 431.6,186.5 432,186.5 432.4,187 432.7,187.6 433.1,187.9 433.5,188.2 433.8,188.6 434.2,189 434.6,189.3 434.9,189.2 435.3,189.4 435.7,189.8 436,190.2 436.4,190.3 436.8,190.1 437.1,189.8 437.5,190 437.9,190 438.2,190.1 438.6,189.3 439,188.7 439.3,188 439.7,187.6 440.1,187.3 440.4,186.8 440.8,186.5 441.1,185.9 441.5,185.7 441.9,185.2 442.2,184.8 442.6,184.9 443,185.1 443.3,185.4 443.7,185.2 444.1,185.7 444.4,186.2 444.8,186.8 445.2,186.7 445.5,187.2 445.9,187.7 446.3,188.5 446.6,188.9 447,189.2 447.4,189.6 447.7,189.9 448.1,190.1 448.5,190.3 448.8,190.3 449.2,190.4 449.6,190.7 449.9,190.7 450.3,190.8 450.7,190.4 451,190.2 451.4,189.9 451.8,190.1 452.1,190.2 452.5,190.3 452.9,190.3 453.2,190.3 453.6,190.3 453.9,190.3 454.3,189.9 454.7,189.9 455,189.6 455.4,190.2 455.8,190.3 456.1,190.8 456.5,190.7 456.9,190.6 457.2,190.3 457.6,190.4 458,190.8 458.3,191.3 458.7,191.5 459.1,191.6 459.4,192 459.8,192.3 460.2,192.8 460.5,192.5 460.9,192.8 461.3,192.7 461.6,193.1 462,193.2 462.4,193.2 462.7,192.9 463.1,193 463.5,193.6 463.8,194 464.2,193.8 464.6,193.5 464.9,193.5 465.3,193.6 465.6,193.3 466,193.4 466.4,193.5 466.7,193.8 467.1,193.5 467.5,193.4 467.8,193.4 468.2,193.8 468.6,193.6 468.9,193.5 469.3,193.2 469.7,193.3 470,193.1 470.4,193.4 470.8,193.4 471.1,193.3 471.5,192.7 471.9,192.4 472.2,192.4 472.6,192.7 473,192.7 473.3,192.6 473.7,192.5 474.1,192.3 474.4,192.1 474.8,191.4 475.2,191.3 475.5,190.9 475.9,191.1 476.3,190.8 476.6,190.3 477,190.1 477.3,190.2 477.7,190.2 478.1,189.8 478.4,189.4 478.8,189.3 479.2,189 479.5,188.5 479.9,188.3 480.3,188.3 480.6,188.5 481,188.8 481.4,188.8 481.7,188.4 482.1,188.4 482.5,188.3 482.8,188.4 483.2,188.2 483.6,188.1 483.9,188.4 484.3,188.5 484.7,189.1 485,189.6 485.4,189.8 485.8,189.9 486.1,190 486.5,190.7 486.9,190.7 487.2,190.8 487.6,190.9 488,191.5 488.3,191.7 488.7,192 489.1,192.1 489.4,192.2 489.8,192.4 490.1,192.7 490.5,192.7 490.9,192.9 491.2,192.7 491.6,192.6 492,192.8 492.3,192.8 492.7,193.3 493.1,192.9 493.4,193.4 493.8,193.2 494.2,193.6 494.5,193.5 494.9,193.6 495.3,193.3 495.6,193.3 496,193.5 496.4,193.7 496.7,194 497.1,193.9 497.5,193.7 497.8,193.4 498.2,193.4 498.6,193.8 498.9,194.1 499.3,193.8 499.7,193.7 500,194 500.4,194.6 500.8,194.8 501.1,194.4 501.5,194.2 501.8,194.1 502.2,194.3 502.6,194.1 502.9,194 503.3,194.2 503.7,194.3 504,194.2 504.4,194.4 504.8,194.6 505.1,194.5 505.5,194.1 505.9,193.8 506.2,194.4 506.6,194.7 507,194.8 507.3,194.3 507.7,194.2" fill="none" marker-start="url(#mb)" marker-mid="url(#mb)" marker-end="url(#mb)"/>
<path d="M288.3,188.4l.4,-.3 .3,-.4 .4,-.4 .4,-.4 .3,-.6 .4,-.6 .4,-.8 .3,-.8 .4,-1.1 .4,-1.2 .3,-1.4 .4,-1.7 .4,-1.9 .3,-2.2 .4,-2.5 .4,-2.7 .3,-3 .4,-3.2 .3,-3.4 .4,-3.6 .4,-3.7 .3,-3.7 .4,-3.7 .4,-3.5 .3,-3.5 .4,-3.3 .4,-3.2 .3,-3.2 .4,-3.3 .4,-3.7 .3,-4.3 .4,-5.3 .4,-6.1 .3,-6.9 .4,-7.1 .4,-6.9 .3,-6.3 .4,-5.6 .4,-5.1 .3,-5.5 .4,-6.3 .4,-7.5 .3,-8.4 .4,-8.5 .4,-7.4 .3,-4.9 .4,-1.3 .4,2.8 .3,6.6 .4,9.4 .3,11 .4,11.2 .4,10.3 .3,9 .4,7.9 .4,7.2 .3,7.4 .4,7.7 .4,8 .3,7.4 .4,6.2 .4,4.5 .3,2.7 .4,.8 .4,-.8 .3,-2.4 .4,-4 .4,-5.5 .3,-7.2 .4,-8.7 .4,-10.1 .3,-11.1 .4,-11.6 .4,-11.3 .3,-10 .4,-7.3 .4,-3.4 .3,1.1 .4,5.6 .4,9.3 .3,11.7 .4,12.9 .4,13.1 .3,12.5 .4,11.5 .3,10.2 .4,8.8 .4,7.5 .3,6.1 .4,4.9 .4,3.9 .3,3 .4,2.3 .4,1.7 .3,1.3 .4,.9 .4,.7 .3,.4 .4,.2 .4,.1 .3,-0 .4,-0 .4,-.2 .3,-.3 .4,-.3 .4,-.3 .3,-.4 .4,-.4 .4,-.5 .3,-.4 .4,-.5 .4,-.5 .3,-.5 .4,-.4 .4,-.5 .3,-.5 .4,-.4 .3,-.4 .4,-.3 .4,-.3 .3,-.3 .4,-.3 .4,-.1 .3,-.2 .4,-0 .4,-.1 .3,.1 .4,.1 .4,.1 .3,.2 .4,.3 .4,.3 .3,.3 .4,.4 .4,.5 .3,.4 .4,.5 .4,.6 .3,.5 .4,.5 .4,.6 .3,.5 .4,.6 .4,.5 .3,.4 .4,.5 .4,.4 .3,.3 .4,.2 .4,.2 .3,.1 .4,-.1 .3,-.1 .4,-.3 .4,-.3 .3,-.5 .4,-.6 .4,-.7 .3,-.7 .4,-.8 .4,-.7 .3,-.6 .4,-.5 .4,-.2 .3,-0 .4,.1 .4,.3 .3,.4 .4,.4 .4,.3 .3,.2 .4,.1 .4,-.2 .3,-.3 .4,-.6 .4,-.7 .3,-.9 .4,-.9 .4,-.9 .3,-.7 .4,-.6 .4,-.3 .3,-0 .4,.2 .3,.5 .4,.7 .4,.7 .3,.7 .4,.7 .4,.6 .3,.6 .4,.5 .4,.4 .3,.3 .4,.2 .4,.3 .3,.2 .4,.1 .4,.2 .3,.1 .4,.2 .4,.2 .3,.2 .4,.2 .4,.3 .3,.3 .4,.3 .4,.4 .3,.4 .4,.4 .4,.5 .3,.5 .4,.5 .4,.5 .3,.5 .4,.5 .3,.5 .4,.5 .4,.4 .3,.4 .4,.4 .4,.3 .3,.2 .4,.2 .4,.1 .3,0 .4,0 .4,-.2 .3,-.2 .4,-.3 .4,-.3 .3,-.5 .4,-.5 .4,-.5 .3,-.6 .4,-.7 .4,-.6 .3,-.7 .4,-.6 .4,-.6 .3,-.6 .4,-.5 .4,-.5 .3,-.4 .4,-.3 .4,-.1 .3,-.1 .4,-0 .4,.2 .3,.3 .4,.4 .3,.5 .4,.5 .4,.7 .3,.8 .4,.8 .4,.9 .3,.8 .4,.9 .4,.8 .3,.8 .4,.7 .4,.5 .3,.4 .4,.3 .4,-0 .3,-.2 .4,-.4 .4,-.6 .3,-.7 .4,-.9 .4,-.9 .3,-.9 .4,-.8 .4,-.6 .3,-.4 .4,-.1 .4,.2 .3,.5 .4,.8 .4,1.1 .3,1.3 .4,1.4 .3,1.5 .4,1.6 .4,1.5 .3,1.4 .4,1.2 .4,1.2 .3,.9 .4,.8 .4,.6 .3,.5 .4,.3 .4,.3 .3,.2 .4,.1 .4,.1 .3,.1 .4,-0 .4,-0 .3,-0 .4,-0 .4,-0 .3,-0 .4,-0 .4,-0 .3,-.1 .4,-0 .4,-0 .3,-0 .4,-.1 .4,-0 .3,-0 .4,-.1 .4,-0 .3,-.1 .4,-0 .3,-.1 .4,-0 .4,-.1 .3,-0 .4,-.1 .4,-.1 .3,-.1 .4,-.1 .4,-.1 .3,-.1 .4,-.1 .4,-.1 .3,-.1 .4,-.2 .4,-.2 .3,-.1 .4,-.2 .4,-.2 .3,-.2 .4,-.3 .4,-.2 .3,-.3 .4,-.3 .4,-.3 .3,-.3 .4,-.4 .4,-.4 .3,-.4 .4,-.4 .4,-.4 .3,-.5 .4,-.5 .3,-.5 .4,-.5 .4,-.5 .3,-.6 .4,-.5 .4,-.6 .3,-.6 .4,-.5 .4,-.6 .3,-.6 .4,-.5 .4,-.5 .3,-.5 .4,-.5 .4,-.4 .3,-.4 .4,-.3 .4,-.3 .3,-.1 .4,-.2 .4,-0 .3,-0 .4,.2 .4,.1 .3,.3 .4,.3 .4,.4 .3,.4 .4,.5 .4,.5 .3,.5 .4,.6 .4,.5 .3,.6 .4,.6 .3,.5 .4,.6 .4,.6 .3,.5 .4,.6 .4,.5 .3,.5 .4,.4 .4,.5 .3,.4 .4,.4 .4,.4 .3,.4 .4,.3 .4,.3 .3,.2 .4,.2 .4,.2 .3,.1 .4,.1 .4,-0 .3,-.1 .4,-.1 .4,-.2 .3,-.3 .4,-.3 .4,-.4 .3,-.4 .4,-.5 .4,-.5 .3,-.5 .4,-.4 .3,-.5 .4,-.3 .4,-.3 .3,-.3 .4,-.1 .4,-0 .3,.1 .4,.2 .4,.3 .3,.3 .4,.4 .4,.5 .3,.5 .4,.5 .4,.5 .3,.5 .4,.4 .4,.4 .3,.3 .4,.2 .4,.2 .3,.2 .4,.1 .4,-0 .3,-0 .4,-0 .4,-0 .3,-.1 .4,-.1 .4,-0 .3,-.1 .4,-.1 .3,-0 .4,-.1 .4,-0 .3,-0 .4,.1 .4,-0 .3,.1 .4,-0 .4,.1 .3,.2 .4,.1 .4,.1 .3,.2 .4,.2 .4,.1 .3,.2 .4,.2 .4,.2 .3,.1 .4,.2 .4,.1 .3,.2 .4,.1 .4,.2 .3,.1 .4,.1 .4,.1 .3,.1 .4,.1 .4,0 .3,.1 .4,0 .4,.1 .3,0 .4,0 .3,0 .4,0 .4,0 .3,0 .4,0 .4,0 .3,0 .4,-.1 .4,0 .3,0 .4,-.1 .4,0 .3,-.1 .4,-.1 .4,0 .3,-.1 .4,-.1 .4,-.1 .3,-.1 .4,-.1 .4,-.1 .3,-.1 .4,-.1 .4,-.2 .3,-.1 .4,-.2 .4,-.2 .3,-.2 .4,-.1 .4,-.3 .3,-.2 .4,-.2 .3,-.2 .4,-.3 .4,-.2 .3,-.3 .4,-.2 .4,-.3 .3,-.2 .4,-.2 .4,-.2 .3,-.2 .4,-.1 .4,-0 .3,-.1 .4,.1 .4,-0 .3,.2 .4,.1 .4,.2 .3,.2 .4,.2 .4,.3 .3,.2 .4,.3 .4,.3 .3,.2 .4,.3 .4,.2 .3,.2 .4,.2 .4,.2 .3,.2 .4,.2 .4,.2 .3,.1 .4,.2 .3,.1 .4,.1 .4,.2 .3,.1 .4,.1 .4,.1 .3,0 .4,.1 .4,.1 .3,.1 .4,0 .4,.1 .3,.1 .4,0 .4,.1 .3,0 .4,0 .4,.1 .3,0 .4,.1 .4,0 .3,0 .4,.1 .4,0 .3,0 .4,0 .4,.1 .3,0 .4,0 .4,0 .3,0 .4,.1 .3,0 .4,0 .4,0 .3,0 .4,0 .4,0 .3,.1 .4,0 .4,0 .3,0 .4,0 .4,0 .3,0 .4,0 .4,0 .3,.1 .4,0" stroke="#e8141c" stroke-width="1.8"/>
<path d="M290.1,194l.4,-.2 .4,-.4 .3,-.5 .4,-.6 .4,-.8 .3,-.9 .4,-1.2 .4,-1.3 .3,-1.6 .4,-1.7 .4,-2 .3,-2.2 .4,-2.4 .3,-2.4 .4,-2.6 .4,-2.5 .3,-2.4 .4,-2.3 .4,-2 .3,-1.7 .4,-1.3 .4,-.9 .3,-.4 .4,.1 .4,.6 .3,1.1 .4,1.4 .4,1.9 .3,2.1 .4,2.3 .4,2.5 .3,2.5 .4,2.6 .4,2.4 .3,2.3 .4,2.1 .4,1.9 .3,1.7 .4,1.5 .4,1.2 .3,1.1 .4,.8 .4,.7 .3,.6 .4,.4 .3,.4 .4,.2" stroke="#22cc22" stroke-width="1"/>
<path d="M288.3,189.2l.4,-.2 .3,-.2 .4,-.3 .4,-.3 .3,-.3 .4,-.3 .4,-.4 .3,-.4 .4,-.4 .4,-.4 .3,-.5 .4,-.5 .4,-.5 .3,-.6 .4,-.6 .4,-.8 .3,-.7 .4,-.9 .3,-.9 .4,-1 .4,-1.1 .3,-1.2 .4,-1.4 .4,-1.5 .3,-1.7 .4,-2 .4,-2.3 .3,-2.7 .4,-3.3 .4,-4.2 .3,-5.4 .4,-6.6 .4,-7.9 .3,-8.9 .4,-9.4 .4,-9.3 .3,-8.7 .4,-7.9 .4,-7.5 .3,-7.6 .4,-8.3 .4,-9.3 .3,-9.9 .4,-9.8 .4,-8.5 .3,-5.7 .4,-2 .4,2.4 .3,6.3 .4,9.3 .3,11 .4,11.3 .4,10.5 .3,9.4 .4,8.3 .4,7.8 .3,8 .4,8.6 .4,9 .3,8.8 .4,7.8 .4,6.6 .3,5.2 .4,4.2 .4,3.4 .3,2.8 .4,2.5 .4,2.1 .3,1.9 .4,1.7 .4,1.5 .3,1.4 .4,1.2 .4,1.1 .3,1 .4,.9 .4,.9 .3,.7 .4,.8 .4,.6 .3,.6 .4,.5 .4,.5 .3,.5 .4,.4 .3,.4 .4,.4 .4,.4 .3,.3 .4,.3 .4,.3 .3,.3 .4,.2 .4,.2 .3,.3 .4,.2 .4,.2 .3,.2 .4,.1 .4,.2 .3,.2 .4,.1 .4,.1 .3,.2 .4,.1 .4,.1 .3,.1 .4,.2 .4,.1 .3,.1 .4,.1 .4,0 .3,.1 .4,.1 .4,.1 .3,.1 .4,0 .3,.1 .4,.1 .4,.1 .3,0 .4,.1 .4,0 .3,.1 .4,0 .4,.1 .3,0 .4,.1 .4,0 .3,.1 .4,0 .4,.1 .3,0 .4,0 .4,.1 .3,0 .4,0 .4,.1 .3,0 .4,0 .4,.1 .3,0 .4,0 .4,.1 .3,0 .4,0 .4,0 .3,.1 .4,0 .4,0 .3,0 .4,.1 .3,0 .4,0 .4,0 .3,0 .4,.1 .4,0 .3,0 .4,0 .4,0 .3,0 .4,.1 .4,0 .3,0 .4,0 .4,0 .3,0 .4,.1 .4,0 .3,0 .4,0 .4,0" stroke="#3322dd" stroke-width="2.4"/>
<path d="M291.6,194l.4,0 .3,0 .4,0 .4,-.1 .3,0 .4,0 .4,-.1 .3,0 .4,0 .3,-.1 .4,-0 .4,-0 .3,-.1 .4,-0 .4,-.1 .3,-0 .4,-.1 .4,-0 .3,-.1 .4,-0 .4,-.1 .3,-.1 .4,-0 .4,-.1 .3,-.1 .4,-.1 .4,-.1 .3,-.1 .4,-.1 .4,-.1 .3,-.1 .4,-.2 .4,-.1 .3,-.2 .4,-.2 .4,-.1 .3,-.3 .4,-.2 .4,-.2 .3,-.3 .4,-.3 .3,-.3 .4,-.4 .4,-.4 .3,-.5 .4,-.5 .4,-.6 .3,-.8 .4,-.8 .4,-1.1 .3,-1.3 .4,-1.6 .4,-2.1 .3,-2.6 .4,-3.3 .4,-4.2 .3,-5.2 .4,-6.4 .4,-7.6 .3,-9.1 .4,-10.3 .4,-11.5 .3,-12.5 .4,-12.7 .4,-12.4 .3,-10.9 .4,-8.1 .4,-4.2 .3,.5 .4,5 .4,8.8 .3,11.3 .4,12.5 .4,12.8 .3,12.2 .4,11.4 .3,10 .4,8.8 .4,7.4 .3,6.1 .4,5 .4,4 .3,3.2 .4,2.5 .4,1.9 .3,1.6 .4,1.2 .4,1 .3,.9 .4,.7 .4,.6 .3,.5 .4,.5 .4,.4 .3,.3 .4,.4 .4,.3 .3,.2 .4,.3 .4,.2 .3,.2 .4,.2 .4,.2 .3,.1 .4,.2 .4,.1 .3,.1 .4,.1 .3,.1 .4,.1 .4,.1 .3,.1 .4,.1 .4,.1 .3,0 .4,.1 .4,.1 .3,0 .4,.1 .4,0 .3,.1 .4,0 .4,.1 .3,0 .4,.1 .4,0 .3,0 .4,.1 .4,0 .3,0 .4,.1 .4,0 .3,0 .4,.1 .4,0 .3,0" stroke="#33cccc" stroke-width="2.4"/>
<path d="M316.5,194l.3,-.1 .4,-.1 .4,-.1 .3,-.2 .4,-.2 .4,-.2 .3,-.2 .4,-.2 .3,-.3 .4,-.2 .4,-.4 .3,-.3 .4,-.3 .4,-.4 .3,-.4 .4,-.5 .4,-.5 .3,-.5 .4,-.5 .4,-.5 .3,-.6 .4,-.6 .4,-.7 .3,-.6 .4,-.7 .4,-.7 .3,-.7 .4,-.8 .4,-.7 .3,-.8 .4,-.7 .4,-.8 .3,-.7 .4,-.8 .4,-.7 .3,-.7 .4,-.7 .4,-.6 .3,-.6 .4,-.6 .3,-.5 .4,-.5 .4,-.5 .3,-.4 .4,-.3 .4,-.3 .3,-.2 .4,-.1 .4,-.1 .3,-0 .4,.1 .4,.1 .3,.2 .4,.2 .4,.3 .3,.4 .4,.4 .4,.5 .3,.5 .4,.5 .4,.6 .3,.7 .4,.6 .4,.7 .3,.7 .4,.8 .4,.7 .3,.8 .4,.7 .4,.8 .3,.7 .4,.8 .4,.7 .3,.7 .4,.7 .3,.7 .4,.6 .4,.6 .3,.6 .4,.6 .4,.5 .3,.6 .4,.4 .4,.5 .3,.4 .4,.4 .4,.4 .3,.3 .4,.3 .4,.3 .3,.3 .4,.2 .4,.3 .3,.2 .4,.1 .4,.2 .3,.1 .4,.2 .4,.1 .3,.1" stroke="#cc22cc" stroke-width="1"/>
<path d="M333.3,194l.3,0 .4,0 .4,-.1 .3,0 .4,-.1 .4,0 .3,-.1 .4,-.1 .4,-0 .3,-.1 .4,-.1 .4,-.1 .3,-.1 .4,-.1 .4,-.1 .3,-.1 .4,-.2 .4,-.1 .3,-.2 .4,-.2 .4,-.3 .3,-.3 .4,-.3 .4,-.3 .3,-.4 .4,-.5 .4,-.5 .3,-.6 .4,-.7 .3,-.7 .4,-.8 .4,-.9 .3,-1 .4,-1 .4,-1 .3,-1.1 .4,-1 .4,-.8 .3,-.7 .4,-.5 .4,-.2 .3,.1 .4,.4 .4,.7 .3,.9 .4,.9 .4,1.1 .3,1 .4,1 .4,1 .3,.9 .4,.8 .4,.8 .3,.7 .4,.6 .4,.5 .3,.5 .4,.4 .4,.4 .3,.3 .4,.3 .3,.2 .4,.2 .4,.2 .3,.2 .4,.2 .4,.1 .3,.1 .4,.1 .4,.1 .3,.1 .4,.1 .4,.1 .3,-0 .4,.1 .4,.1 .3,0 .4,.1 .4,0 .3,0 .4,.1 .4,0" stroke="#ccaa00" stroke-width="1"/>
<path d="M341,194l.3,0 .4,-.1 .4,0 .3,-.1 .4,0 .4,-.1 .3,-0 .4,-.1 .3,-.1 .4,-.1 .4,-.1 .3,-.1 .4,-.1 .4,-.1 .3,-.2 .4,-.2 .4,-.2 .3,-.2 .4,-.2 .4,-.3 .3,-.4 .4,-.4 .4,-.4 .3,-.5 .4,-.6 .4,-.7 .3,-.8 .4,-.8 .4,-.9 .3,-1.1 .4,-1.1 .4,-1.1 .3,-1.2 .4,-1.1 .4,-1 .3,-.8 .4,-.5 .4,-.1 .3,.2 .4,.6 .3,.8 .4,1 .4,1.2 .3,1.1 .4,1.2 .4,1 .3,1.1 .4,.9 .4,.8 .3,.7 .4,.7 .4,.6 .3,.5 .4,.4 .4,.4 .3,.3 .4,.3 .4,.3 .3,.2 .4,.2 .4,.1 .3,.2 .4,.1 .4,.1 .3,.1 .4,.1 .4,.1 .3,.1 .4,.1 .4,-0 .3,.1 .4,0 .3,.1 .4,0 .4,.1 .3,0" stroke="#2233cc" stroke-width="1"/>
<path d="M346.8,194.1l.4,-.1 .3,-.1 .4,-.2 .4,-.1 .3,-.2 .4,-.2 .4,-.2 .3,-.3 .4,-.2 .4,-.3 .3,-.3 .4,-.4 .4,-.3 .3,-.4 .4,-.5 .4,-.4 .3,-.5 .4,-.5 .4,-.6 .3,-.5 .4,-.6 .4,-.6 .3,-.6 .4,-.6 .3,-.7 .4,-.6 .4,-.7 .3,-.6 .4,-.6 .4,-.7 .3,-.6 .4,-.6 .4,-.5 .3,-.5 .4,-.5 .4,-.5 .3,-.4 .4,-.3 .4,-.3 .3,-.2 .4,-.2 .4,-.1 .3,-.1 .4,-0 .4,.1 .3,.1 .4,.2 .4,.3 .3,.3 .4,.3 .4,.4 .3,.5 .4,.5 .4,.5 .3,.6 .4,.6 .3,.6 .4,.6 .4,.6 .3,.7 .4,.6 .4,.7 .3,.6 .4,.6 .4,.6 .3,.6 .4,.6 .4,.6 .3,.5 .4,.5 .4,.5 .3,.4 .4,.4 .4,.4 .3,.4 .4,.3 .4,.3 .3,.3 .4,.3 .4,.2 .3,.2 .4,.2 .4,.2 .3,.2 .4,.1 .4,.1" stroke="#aa22aa" stroke-width="1"/>
<path d="M366.9,194.1l.4,-.2 .3,-.2 .4,-.2 .4,-.3 .3,-.3 .4,-.3 .4,-.4 .3,-.4 .4,-.5 .4,-.6 .3,-.6 .4,-.7 .4,-.7 .3,-.8 .4,-.8 .4,-.9 .3,-.9 .4,-.9 .4,-1 .3,-1 .4,-1 .4,-1 .3,-1 .4,-.9 .4,-.9 .3,-.8 .4,-.7 .4,-.7 .3,-.5 .4,-.4 .4,-.3 .3,-.2 .4,-.1 .4,.1 .3,.2 .4,.3 .3,.4 .4,.5 .4,.7 .3,.7 .4,.8 .4,.9 .3,.9 .4,1 .4,1 .3,1 .4,1 .4,1 .3,.9 .4,.9 .4,.9 .3,.8 .4,.8 .4,.7 .3,.7 .4,.6 .4,.6 .3,.5 .4,.4 .4,.4 .3,.3 .4,.3 .4,.3 .3,.2 .4,.2 .4,.2" stroke="#aa1133" stroke-width="1"/>
<path d="M383.7,194l.4,-.3 .4,-.4 .3,-.6 .4,-.7 .4,-.9 .3,-1 .4,-1.1 .4,-1.4 .3,-1.4 .4,-1.4 .4,-1.5 .3,-1.4 .4,-1.2 .4,-1 .3,-.8 .4,-.4 .4,-.1 .3,.3 .4,.6 .4,.9 .3,1.2 .4,1.3 .3,1.5 .4,1.5 .4,1.4 .3,1.3 .4,1.3 .4,1.1 .3,.9 .4,.7 .4,.7 .3,.4 .4,.4 .4,.3" stroke="#118833" stroke-width="1"/>
<path d="M398.7,194l.4,0 .4,0 .3,-.1 .4,0 .4,0 .3,0 .4,-.1 .4,0 .3,0 .4,-.1 .4,-0 .3,-0 .4,-.1 .4,-0 .3,-.1 .4,-0 .3,-.1 .4,-0 .4,-.1 .3,-.1 .4,-0 .4,-.1 .3,-.1 .4,-.1 .4,-.1 .3,-.1 .4,-.1 .4,-.2 .3,-.1 .4,-.1 .4,-.2 .3,-.2 .4,-.2 .4,-.2 .3,-.2 .4,-.2 .4,-.3 .3,-.3 .4,-.3 .4,-.3 .3,-.3 .4,-.4 .4,-.4 .3,-.3 .4,-.5 .4,-.4 .3,-.5 .4,-.5 .3,-.5 .4,-.5 .4,-.5 .3,-.5 .4,-.6 .4,-.6 .3,-.5 .4,-.6 .4,-.6 .3,-.6 .4,-.5 .4,-.5 .3,-.5 .4,-.5 .4,-.4 .3,-.4 .4,-.3 .4,-.3 .3,-.1 .4,-.2 .4,-0 .3,-0 .4,.2 .4,.1 .3,.3 .4,.3 .4,.4 .3,.4 .4,.5 .4,.5 .3,.5 .4,.5 .4,.6 .3,.6 .4,.6 .3,.5 .4,.6 .4,.6 .3,.5 .4,.5 .4,.5 .3,.5 .4,.5 .4,.5 .3,.4 .4,.5 .4,.3 .3,.4 .4,.4 .4,.3 .3,.3 .4,.3 .4,.3 .3,.3 .4,.2 .4,.2 .3,.2 .4,.2 .4,.2 .3,.2 .4,.1 .4,.1 .3,.2 .4,.1 .4,.1 .3,.1 .4,.1 .3,.1 .4,.1 .4,-0 .3,.1 .4,.1 .4,-0 .3,.1 .4,-0 .4,.1 .3,-0 .4,.1 .4,-0 .3,-0 .4,.1 .4,0 .3,0 .4,.1 .4,0 .3,0 .4,0 .4,.1 .3,0 .4,0" stroke="#1a7a3a" stroke-width="1"/>
<path d="M436.4,194l.4,-.2 .3,-.3 .4,-.3 .4,-.3 .3,-.5 .4,-.4 .4,-.5 .3,-.6 .4,-.6 .4,-.5 .3,-.6 .4,-.6 .3,-.5 .4,-.4 .4,-.4 .3,-.2 .4,-.2 .4,0 .3,.1 .4,.2 .4,.3 .3,.4 .4,.4 .4,.5 .3,.6 .4,.6 .4,.6 .3,.5 .4,.6 .4,.5 .3,.4 .4,.4 .4,.4 .3,.3 .4,.2 .4,.2" stroke="#ee7700" stroke-width="1"/>
<path d="M445.5,194.1l.4,-.1 .4,-.2 .3,-.1 .4,-.1 .4,-.2 .3,-.1 .4,-.2 .4,-.1 .3,-.2 .4,-.2 .4,-.2 .3,-.1 .4,-.2 .4,-.2 .3,-.1 .4,-.2 .4,-.1 .3,-.1 .4,-.1 .3,-.1 .4,-.1 .4,-0 .3,-0 .4,-0 .4,-0 .3,.1 .4,.1 .4,.1 .3,.1 .4,.1 .4,.2 .3,.1 .4,.2 .4,.2 .3,.1 .4,.2 .4,.2 .3,.2 .4,.1 .4,.2 .3,.1 .4,.2 .4,.1 .3,.1 .4,.2 .4,.1" stroke="#8822cc" stroke-width="1"/>
<path d="M466.7,194l.4,0 .4,-.1 .3,0 .4,-.1 .4,0 .3,-.1 .4,-0 .4,-.1 .3,-0 .4,-.1 .4,-.1 .3,-.1 .4,-0 .4,-.1 .3,-.1 .4,-.1 .4,-.2 .3,-.1 .4,-.1 .4,-.2 .3,-.1 .4,-.2 .4,-.2 .3,-.2 .4,-.2 .4,-.2 .3,-.2 .4,-.2 .3,-.3 .4,-.2 .4,-.3 .3,-.2 .4,-.3 .4,-.2 .3,-.2 .4,-.3 .4,-.1 .3,-.2 .4,-.1 .4,-.1 .3,-0 .4,-0 .4,.1 .3,.1 .4,.2 .4,.1 .3,.3 .4,.2 .4,.2 .3,.3 .4,.2 .4,.3 .3,.2 .4,.3 .4,.2 .3,.2 .4,.2 .4,.2 .3,.2 .4,.2 .4,.2 .3,.1 .4,.2 .3,.1 .4,.1 .4,.2 .3,.1 .4,.1 .4,.1 .3,-0 .4,.1 .4,.1 .3,.1 .4,-0 .4,.1 .3,-0 .4,.1 .4,0 .3,.1 .4,0 .4,.1 .3,0" stroke="#8822cc" stroke-width="1"/>
<path d="M288.3,194.8H507.7" stroke="#e0208a" stroke-width="1.3"/>
</g>
<rect x="288.3" y="1.2" width="219.4" height="200.1" fill="none" stroke="#000" stroke-width="1.5"/>
<path d="M288.3,201.3v6.5M306.6,201.3v3M324.9,201.3v6.5M343.1,201.3v3M361.4,201.3v6.5M379.7,201.3v3M398,201.3v6.5M416.3,201.3v3M434.6,201.3v6.5M452.9,201.3v3M471.1,201.3v6.5M489.4,201.3v3M507.7,201.3v6.5" stroke="#000" stroke-width="1.5"/>
<text x="288.3" y="221.9" font-size="15.5" text-anchor="middle">100</text>
<text x="324.9" y="221.9" font-size="15.5" text-anchor="middle">200</text>
<text x="361.4" y="221.9" font-size="15.5" text-anchor="middle">300</text>
<text x="398" y="221.9" font-size="15.5" text-anchor="middle">400</text>
<text x="434.6" y="221.9" font-size="15.5" text-anchor="middle">500</text>
<text x="471.1" y="221.9" font-size="15.5" text-anchor="middle">600</text>
<text x="507.7" y="221.9" font-size="15.5" text-anchor="middle">700</text>
<text x="331.7" y="241.6" font-size="16.6">Raman Shift (cm<tspan font-size="10.6" dy="-8.3">-1</tspan><tspan dy="8.3">)</tspan></text>
<text transform="translate(280.5,164.6) rotate(-90)" font-size="16.6">Intensity (arb. unit)</text>
<text x="353.7" y="15.6" font-size="14.5">(b) BFO-FTO</text>
<text x="467" y="16.5" font-size="14.4">123 K</text>
<text transform="translate(300.3,10.4) rotate(-90)" font-size="12" text-anchor="middle">147</text>
<text transform="translate(320.2,30.8) rotate(-90)" font-size="12" text-anchor="middle">177</text>
<text transform="translate(298.4,70) rotate(-90)" font-size="12" text-anchor="middle">128</text>
<text transform="translate(337.5,149) rotate(-90)" font-size="12" text-anchor="middle">229</text>
<text transform="translate(350.2,152.9) rotate(-90)" font-size="12" text-anchor="middle">267</text>
<text transform="translate(360.1,150.8) rotate(-90)" font-size="12" text-anchor="middle">282</text>
<text transform="translate(370.3,159.3) rotate(-90)" font-size="12" text-anchor="middle">303</text>
<text transform="translate(384,157.2) rotate(-90)" font-size="12" text-anchor="middle">351</text>
<text transform="translate(396.7,164.5) rotate(-90)" font-size="12" text-anchor="middle">375</text>
<text transform="translate(429.8,162.9) rotate(-90)" font-size="12" text-anchor="middle">474</text>
<text transform="translate(448.2,170.4) rotate(-90)" font-size="12" text-anchor="middle">528</text>
<text transform="translate(461,173.9) rotate(-90)" font-size="12" text-anchor="middle">550</text>
<text transform="translate(484,173.3) rotate(-90)" font-size="12" text-anchor="middle">626</text>
<clipPath id="cc"><rect x="20.4" y="254.1" width="219.6" height="200"/></clipPath>
<g clip-path="url(#cc)">
<polyline points="20.4,442.8 20.8,442.3 21.2,442.2 21.6,442 22,441.9 22.4,441.7 22.8,441.5 23.2,441.3 23.6,440.6 24,440.1 24.4,439.3 24.8,438.3 25.2,436.8 25.6,435.6 26,434 26.4,432 26.8,429.1 27.2,426.7 27.6,424 28,421.4 28.5,418 28.9,414.8 29.3,411 29.7,407 30.1,402.9 30.5,399 30.9,395.3 31.3,391.3 31.7,387.1 32.1,382.1 32.5,376.4 32.9,368.7 33.3,358.2 33.7,345.6 34.1,337.8 34.5,335.4 34.9,331.3 35.3,324.8 35.7,316.4 36.1,308.4 36.5,301 36.9,295.8 37.3,292.8 37.7,292.6 38.1,295.1 38.5,299.7 38.9,305.8 39.3,313 39.7,320.6 40.1,328.4 40.5,337.1 40.9,347.1 41.3,358.1 41.7,369.2 42.1,379.4 42.5,388.4 42.9,394.3 43.3,397.4 43.8,396.4 44.2,392 44.6,384 45,374.4 45.4,364.3 45.8,354.5 46.2,344.6 46.6,333.5 47,322 47.4,310.9 47.8,301.6 48.2,297.3 48.6,298.5 49,306.6 49.4,318.4 49.8,331.6 50.2,343.4 50.6,351.9 51,359 51.4,366.8 51.8,377.2 52.2,388.9 52.6,400.9 53,410.6 53.4,417.8 53.8,421.9 54.2,424.3 54.6,426 55,427.1 55.4,427.9 55.8,428.2 56.2,428.2 56.6,428.2 57,428.1 57.4,428.2 57.8,428 58.2,427.6 58.6,427.2 59,426.7 59.5,426.2 59.9,425.5 60.3,424.7 60.7,424.1 61.1,423.7 61.5,423 61.9,422.2 62.3,421 62.7,420.5 63.1,419.4 63.5,419.1 63.9,418.2 64.3,418.1 64.7,417.5 65.1,417.2 65.5,417 65.9,417.2 66.3,417.6 66.7,417.7 67.1,417.2 67.5,417.6 67.9,418.2 68.3,418.9 68.7,419.1 69.1,419.8 69.5,421 69.9,422 70.3,422.7 70.7,423.1 71.1,423.8 71.5,424.4 71.9,424.8 72.3,424.9 72.7,425.1 73.1,425.4 73.5,425.7 73.9,425.5 74.3,425.2 74.8,424.7 75.2,424.6 75.6,424.6 76,424.4 76.4,423.9 76.8,423.3 77.2,422.8 77.6,422.6 78,422.5 78.4,421.9 78.8,421.1 79.2,420.1 79.6,419.7 80,419.3 80.4,418.5 80.8,417.9 81.2,417.5 81.6,417.5 82,417.5 82.4,417.3 82.8,417 83.2,417.1 83.6,417.4 84,417.6 84.4,417.5 84.8,417 85.2,416.7 85.6,416.4 86,416.7 86.4,417 86.8,417.7 87.2,418.4 87.6,419.5 88,420.8 88.4,421.9 88.8,423 89.2,423.4 89.6,424.1 90,424.3 90.5,424.8 90.9,424.9 91.3,425.3 91.7,424.9 92.1,424.7 92.5,423.8 92.9,423.7 93.3,423.2 93.7,423 94.1,422.7 94.5,422.4 94.9,422 95.3,421.7 95.7,421.8 96.1,421.9 96.5,421.9 96.9,421.6 97.3,421.6 97.7,421.9 98.1,422.6 98.5,423 98.9,423.5 99.3,423.8 99.7,424.3 100.1,424.6 100.5,425 100.9,425.7 101.3,426.3 101.7,427 102.1,427 102.5,427.1 102.9,426.8 103.3,426.9 103.7,426.9 104.1,426.6 104.5,426.7 104.9,426.5 105.3,426.6 105.8,425.8 106.2,425 106.6,424.2 107,423.6 107.4,422.4 107.8,421.4 108.2,420.2 108.6,419.4 109,418.4 109.4,417.4 109.8,416.4 110.2,415.9 110.6,415.8 111,416.3 111.4,416.8 111.8,417.3 112.2,418.1 112.6,419 113,420.3 113.4,421.3 113.8,421.9 114.2,422.4 114.6,423 115,423.8 115.4,423.9 115.8,424.3 116.2,424.2 116.6,424.3 117,423.8 117.4,423.2 117.8,422.8 118.2,422.3 118.6,421.7 119,421.3 119.4,420.6 119.8,420 120.2,419 120.6,418.6 121,418 121.5,417.8 121.9,417.8 122.3,418 122.7,418.5 123.1,419.4 123.5,420.2 123.9,421.4 124.3,422.3 124.7,423.5 125.1,424.4 125.5,425.3 125.9,426.6 126.3,427.6 126.7,428.5 127.1,429.1 127.5,429.6 127.9,430.4 128.3,431.1 128.7,431.8 129.1,432.3 129.5,433 129.9,433.6 130.3,433.9 130.7,434.2 131.1,434.3 131.5,434.9 131.9,434.7 132.3,435.1 132.7,435.2 133.1,435.9 133.5,435.8 133.9,435.7 134.3,435.7 134.7,435.4 135.1,435.7 135.5,435.3 135.9,435.7 136.3,434.7 136.8,433.4 137.2,429.7 137.6,424.9 138,421.4 138.4,423.5 138.8,428.4 139.2,431.6 139.6,433.4 140,433.7 140.4,434 140.8,433.8 141.2,433.3 141.6,432.9 142,432.7 142.4,432.9 142.8,432.5 143.2,432 143.6,431.8 144,431.8 144.4,431.2 144.8,430.4 145.2,429.7 145.6,429.4 146,428.7 146.4,428 146.8,427.5 147.2,426.7 147.6,426.2 148,425.6 148.4,425.3 148.8,424.6 149.2,423.8 149.6,422.9 150,422.1 150.4,421.9 150.8,421.2 151.2,420.4 151.6,419.1 152.1,418.5 152.5,418.2 152.9,417.6 153.3,417.2 153.7,416.8 154.1,416.5 154.5,416.4 154.9,416.1 155.3,416.5 155.7,416.6 156.1,417.2 156.5,417.6 156.9,417.9 157.3,418.4 157.7,418.8 158.1,419.8 158.5,420.3 158.9,421 159.3,421.8 159.7,422.2 160.1,422.9 160.5,423.2 160.9,424.2 161.3,424.7 161.7,425.1 162.1,425.5 162.5,426.4 162.9,427.2 163.3,427.8 163.7,428.2 164.1,428.7 164.5,429.3 164.9,429.5 165.3,429.9 165.7,430.2 166.1,430.4 166.5,430.6 166.9,430.2 167.3,430.5 167.8,430.7 168.2,431.2 168.6,431.1 169,431.1 169.4,431.1 169.8,430.7 170.2,430.7 170.6,430 171,429.9 171.4,429.6 171.8,429.2 172.2,428.9 172.6,428.5 173,428.4 173.4,427.8 173.8,427.2 174.2,426.8 174.6,426.6 175,426.6 175.4,426.7 175.8,427.1 176.2,427.6 176.6,428 177,428.1 177.4,428.5 177.8,428.7 178.2,429.4 178.6,429.7 179,430.3 179.4,430.5 179.8,430.8 180.2,431 180.6,431.4 181,431.7 181.4,432 181.8,432.3 182.2,432.5 182.6,432.6 183.1,432.9 183.5,433.1 183.9,433.6 184.3,433.6 184.7,433.7 185.1,433.8 185.5,434.2 185.9,434.5 186.3,434.7 186.7,434.5 187.1,434.6 187.5,434.4 187.9,434.7 188.3,434.7 188.7,435.4 189.1,435.3 189.5,435.8 189.9,435.7 190.3,435.9 190.7,435.8 191.1,436.2 191.5,436.7 191.9,436.6 192.3,436.4 192.7,436.4 193.1,436.9 193.5,437.3 193.9,437.4 194.3,437.5 194.7,437.5 195.1,437.2 195.5,437.2 195.9,437 196.3,437.5 196.7,437.4 197.1,437.5 197.5,437.6 197.9,437.5 198.3,437.2 198.8,436.8 199.2,436.6 199.6,436.8 200,436.9 200.4,436.8 200.8,436.5 201.2,436.1 201.6,436.2 202,435.9 202.4,436 202.8,435.7 203.2,436.1 203.6,435.9 204,435.7 204.4,435.6 204.8,435.5 205.2,435.3 205.6,435.1 206,434.8 206.4,434.9 206.8,434.6 207.2,434.8 207.6,434.5 208,434.9 208.4,434.9 208.8,435 209.2,434.6 209.6,434.9 210,434.7 210.4,435.2 210.8,434.9 211.2,435.2 211.6,435.3 212,435.3 212.4,435.8 212.8,435.9 213.2,436.5 213.6,436.4 214.1,436.6 214.5,436.7 214.9,436.9 215.3,437.2 215.7,437.8 216.1,438.1 216.5,438.2 216.9,438.5 217.3,438.7 217.7,439.4 218.1,439.6 218.5,440.1 218.9,439.7 219.3,440.1 219.7,440.1 220.1,440.4 220.5,440.2 220.9,440.2 221.3,440.4 221.7,440.6 222.1,440.7 222.5,441.1 222.9,441.3 223.3,441.9 223.7,442 224.1,441.9 224.5,441.9 224.9,442.3 225.3,442.6 225.7,442.4 226.1,442.1 226.5,442.5 226.9,442.7 227.3,443.1 227.7,442.9 228.1,443.5 228.5,443.3 228.9,443.5 229.3,443.2 229.8,443.4 230.2,443.6 230.6,443.6 231,443.7 231.4,443.7 231.8,443.8 232.2,443.8 232.6,443.8 233,443.8 233.4,444 233.8,443.9 234.2,444 234.6,443.8 235,443.6 235.4,443.5 235.8,443.7 236.2,444 236.6,444.1 237,443.9 237.4,443.8 237.8,444 238.2,444.4 238.6,444.6 239,444.6 239.4,444.5 239.8,444.2" fill="none" marker-start="url(#mc)" marker-mid="url(#mc)" marker-end="url(#mc)"/>
<path d="M20.4,442.9l.4,-.2 .3,-.1 .4,-.2 .4,-.2 .3,-.2 .4,-.3 .4,-.4 .3,-.4 .4,-.5 .4,-.6 .3,-.8 .4,-.9 .4,-1 .3,-1.3 .4,-1.4 .4,-1.7 .3,-1.9 .4,-2.2 .4,-2.4 .3,-2.6 .4,-2.8 .4,-3 .3,-3.2 .4,-3.3 .4,-3.3 .3,-3.5 .4,-3.5 .3,-3.5 .4,-3.6 .4,-3.7 .3,-4 .4,-4.5 .4,-5.2 .3,-6.9 .4,-9.3 .4,-11.4 .3,-9.4 .4,-3.1 .4,-2.3 .3,-4.6 .4,-6.6 .4,-7.6 .3,-7.5 .4,-6.6 .4,-5.2 .3,-3 .4,-.6 .4,1.7 .3,3.7 .4,5.1 .4,5.9 .3,6.3 .4,6.8 .4,7.4 .3,8 .4,8.9 .4,9.6 .3,10 .4,9.8 .4,9 .3,7.2 .4,4.7 .4,1.7 .3,-1.8 .4,-4.9 .4,-7.4 .3,-8.8 .4,-9.2 .4,-9 .3,-8.9 .4,-9.4 .4,-10.2 .3,-10.8 .4,-10.2 .3,-7.8 .4,-3.4 .4,2.1 .3,7.3 .4,10.7 .4,11.8 .3,10.9 .4,8.8 .4,7 .3,6.5 .4,7.8 .4,9.8 .3,11.2 .4,10.9 .4,9.2 .3,6.7 .4,4.4 .4,2.6 .3,1.6 .4,1 .4,.6 .3,.4 .4,.3 .4,.2 .3,-0 .4,-0 .4,-.1 .3,-.2 .4,-.3 .4,-.3 .3,-.4 .4,-.4 .4,-.5 .3,-.5 .4,-.6 .4,-.6 .3,-.6 .4,-.7 .4,-.7 .3,-.7 .4,-.7 .4,-.7 .3,-.6 .4,-.6 .4,-.6 .3,-.4 .4,-.4 .4,-.3 .3,-.3 .4,-.1 .4,.1 .3,.1 .4,.2 .3,.3 .4,.4 .4,.4 .3,.5 .4,.6 .4,.6 .3,.5 .4,.6 .4,.6 .3,.6 .4,.5 .4,.5 .3,.4 .4,.5 .4,.3 .3,.3 .4,.3 .4,.1 .3,.2 .4,-0 .4,-0 .3,-.1 .4,-.1 .4,-.2 .3,-.3 .4,-.3 .4,-.4 .3,-.5 .4,-.5 .4,-.6 .3,-.6 .4,-.7 .4,-.6 .3,-.7 .4,-.6 .4,-.5 .3,-.5 .4,-.3 .4,-.3 .3,-.2 .4,0 .4,0 .3,0 .4,.1 .4,0 .3,-.1 .4,-.1 .3,-.2 .4,-.2 .4,-.3 .3,-.1 .4,0 .4,.3 .3,.4 .4,.7 .4,.8 .3,1 .4,1 .4,1.1 .3,.9 .4,.8 .4,.6 .3,.4 .4,.3 .4,.1 .3,0 .4,-.2 .4,-.2 .3,-.3 .4,-.3 .4,-.4 .3,-.3 .4,-.4 .4,-.3 .3,-.3 .4,-.3 .4,-.2 .3,-.1 .4,-.1 .4,0 .3,0 .4,.2 .4,.2 .3,.2 .4,.3 .4,.4 .3,.4 .4,.4 .4,.4 .3,.4 .4,.4 .4,.4 .3,.4 .4,.4 .4,.3 .3,.2 .4,.2 .4,.2 .3,.1 .4,0 .3,0 .4,-.2 .4,-.1 .3,-.3 .4,-.4 .4,-.4 .3,-.6 .4,-.6 .4,-.8 .3,-.8 .4,-.9 .4,-1 .3,-1 .4,-1 .4,-.9 .3,-.9 .4,-.6 .4,-.5 .3,-.2 .4,.1 .4,.4 .3,.5 .4,.7 .4,.8 .3,.9 .4,.9 .4,.8 .3,.7 .4,.7 .4,.5 .3,.4 .4,.4 .4,.1 .3,.1 .4,0 .4,-.2 .3,-.2 .4,-.3 .4,-.5 .3,-.5 .4,-.5 .4,-.6 .3,-.6 .4,-.6 .4,-.6 .3,-.4 .4,-.4 .3,-.3 .4,-.1 .4,0 .3,.3 .4,.4 .4,.5 .3,.7 .4,.8 .4,.9 .3,.9 .4,.9 .4,1 .3,1 .4,.9 .4,.9 .3,.8 .4,.8 .4,.7 .3,.7 .4,.6 .4,.6 .3,.5 .4,.5 .4,.4 .3,.4 .4,.4 .4,.3 .3,.3 .4,.3 .4,.2 .3,.2 .4,.1 .4,.2 .3,.1 .4,.1 .4,0 .3,.1 .4,0 .4,-.1 .3,-.1 .4,-.1 .4,-.3 .3,-.7 .4,-1.6 .4,-3.1 .3,-4.7 .4,-3.9 .4,1.1 .3,4.5 .4,3.9 .4,2.3 .3,.9 .4,.2 .3,.1 .4,-.1 .4,-.2 .3,-.1 .4,-.3 .4,-.2 .3,-.3 .4,-.3 .4,-.3 .3,-.4 .4,-.4 .4,-.4 .3,-.4 .4,-.5 .4,-.5 .3,-.5 .4,-.5 .4,-.6 .3,-.6 .4,-.6 .4,-.6 .3,-.6 .4,-.7 .4,-.7 .3,-.6 .4,-.7 .4,-.7 .3,-.7 .4,-.6 .4,-.7 .3,-.6 .4,-.6 .4,-.5 .3,-.5 .4,-.4 .4,-.4 .3,-.3 .4,-.2 .4,-.2 .3,0 .4,0 .4,.1 .3,.2 .4,.3 .4,.3 .3,.4 .4,.5 .3,.5 .4,.5 .4,.6 .3,.6 .4,.6 .4,.7 .3,.6 .4,.6 .4,.7 .3,.6 .4,.6 .4,.6 .3,.5 .4,.5 .4,.6 .3,.4 .4,.5 .4,.4 .3,.4 .4,.4 .4,.3 .3,.3 .4,.3 .4,.2 .3,.2 .4,.2 .4,.1 .3,.1 .4,.1 .4,0 .3,0 .4,-.1 .4,-.1 .3,-.1 .4,-.2 .4,-.2 .3,-.2 .4,-.3 .4,-.3 .3,-.3 .4,-.3 .4,-.4 .3,-.3 .4,-.3 .4,-.3 .3,-.3 .4,-.1 .4,-.1 .3,0 .4,0 .4,.2 .3,.2 .4,.3 .3,.3 .4,.4 .4,.4 .3,.4 .4,.4 .4,.4 .3,.3 .4,.4 .4,.3 .3,.3 .4,.3 .4,.2 .3,.2 .4,.3 .4,.1 .3,.2 .4,.2 .4,.1 .3,.1 .4,.2 .4,.1 .3,.1 .4,.2 .4,.1 .3,.2 .4,.1 .4,.2 .3,.1 .4,.2 .4,.2 .3,.1 .4,.2 .4,.2 .3,.2 .4,.1 .4,.2 .3,.2 .4,.1 .4,.2 .3,.1 .4,.2 .4,.1 .3,.1 .4,.1 .4,.1 .3,.1 .4,.1 .3,0 .4,.1 .4,0 .3,0 .4,.1 .4,0 .3,0 .4,-.1 .4,0 .3,0 .4,-.1 .4,0 .3,-.1 .4,-.1 .4,0 .3,-.1 .4,-.1 .4,-.1 .3,-.1 .4,-.2 .4,-.1 .3,-.1 .4,-.1 .4,-.1 .3,-.2 .4,-.1 .4,-.1 .3,-.2 .4,-.1 .4,-.1 .3,-.1 .4,-.1 .4,-.1 .3,-.1 .4,0 .4,-.1 .3,0 .4,0 .4,0 .3,0 .4,0 .4,0 .3,.1 .4,.1 .4,.1 .3,.1 .4,.1 .4,.2 .3,.1 .4,.2 .4,.2 .3,.2 .4,.2 .3,.2 .4,.2 .4,.2 .3,.2 .4,.2 .4,.3 .3,.2 .4,.2 .4,.2 .3,.3 .4,.2 .4,.2 .3,.2 .4,.2 .4,.2 .3,.2 .4,.2 .4,.2 .3,.2 .4,.1 .4,.2 .3,.2 .4,.1 .4,.2 .3,.2 .4,.1 .4,.1 .3,.2 .4,.1 .4,.1 .3,.2 .4,.1 .4,.1 .3,.1 .4,.1 .4,.1 .3,.1 .4,.1 .4,.1 .3,.1 .4,.1 .4,0 .3,.1 .4,.1 .4,.1 .3,0 .4,.1 .3,0 .4,.1 .4,.1 .3,0 .4,.1 .4,0 .3,.1 .4,0 .4,.1 .3,0 .4,0 .4,.1 .3,0 .4,0 .4,.1 .3,0 .4,0 .4,.1 .3,0 .4,0 .4,.1 .3,0 .4,0 .4,0 .3,.1 .4,0" stroke="#e8141c" stroke-width="1.8"/>
<path d="M22.6,445.4l.4,-.3 .3,-.3 .4,-.3 .4,-.5 .3,-.6 .4,-.7 .4,-.9 .3,-1.1 .4,-1.2 .4,-1.5 .3,-1.6 .4,-1.9 .4,-2.1 .3,-2.3 .4,-2.4 .4,-2.6 .3,-2.6 .4,-2.8 .4,-2.6 .3,-2.6 .4,-2.4 .3,-2.2 .4,-1.9 .4,-1.5 .3,-1.1 .4,-.7 .4,-.2 .3,.3 .4,.7 .4,1.2 .3,1.6 .4,2 .4,2.2 .3,2.5 .4,2.6 .4,2.7 .3,2.7 .4,2.6 .4,2.6 .3,2.4 .4,2.3 .4,2 .3,1.8 .4,1.6 .4,1.5 .3,1.2 .4,1 .4,.8 .3,.7 .4,.6 .4,.5 .3,.3 .4,.3 .4,.2" stroke="#22cc22" stroke-width="1"/>
<path d="M20.4,444.7l.4,-.1 .3,0 .4,-.1 .4,-.1 .3,0 .4,-.1 .4,-.1 .3,-.1 .4,-.1 .4,-.1 .3,-.1 .4,-.1 .4,-.2 .3,-.1 .4,-.2 .4,-.1 .3,-.2 .4,-.2 .4,-.3 .3,-.2 .4,-.3 .4,-.4 .3,-.4 .4,-.4 .4,-.6 .3,-.7 .4,-.9 .3,-1.2 .4,-1.4 .4,-1.9 .3,-2.5 .4,-3 .4,-3.9 .3,-4.7 .4,-5.7 .4,-6.9 .3,-7.9 .4,-9 .4,-9.9 .3,-10.6 .4,-11.1 .4,-11.1 .3,-10.6 .4,-9.4 .4,-7.7 .3,-5.3 .4,-2.7 .4,-.2 .3,2.1 .4,3.7 .4,4.9 .3,5.5 .4,6.2 .4,7 .3,7.9 .4,9 .4,9.9 .3,10.6 .4,10.8 .4,10.4 .3,9.4 .4,8.2 .4,6.6 .3,5.2 .4,3.8 .4,2.8 .3,1.9 .4,1.4 .4,1 .3,.6 .4,.6 .4,.4 .3,.3 .4,.3 .3,.2 .4,.3 .4,.2 .3,.1 .4,.2 .4,.2 .3,.1 .4,.1 .4,.1 .3,.2 .4,.1 .4,0 .3,.1 .4,.1 .4,.1 .3,.1 .4,-0 .4,.1 .3,.1 .4,-0 .4,.1 .3,-0 .4,.1 .4,-0 .3,-0 .4,.1 .4,-0 .3,-0 .4,.1 .4,-0 .3,-0 .4,.1 .4,-0 .3,-0" stroke="#6a1fb0" stroke-width="2.4"/>
<path d="M25.5,445.2l.4,0 .4,0 .3,-.1 .4,0 .4,0 .3,-.1 .4,0 .4,0 .3,-.1 .4,0 .4,-.1 .3,0 .4,-.1 .3,0 .4,-.1 .4,0 .3,-.1 .4,0 .4,-.1 .3,-.1 .4,-.1 .4,-.1 .3,-.1 .4,-.1 .4,-.1 .3,-.1 .4,-.1 .4,-.1 .3,-.2 .4,-.2 .4,-.1 .3,-.2 .4,-.3 .4,-.2 .3,-.3 .4,-.2 .4,-.4 .3,-.3 .4,-.4 .4,-.5 .3,-.5 .4,-.6 .4,-.8 .3,-.9 .4,-1.1 .4,-1.6 .3,-2.4 .4,-3.4 .4,-5 .3,-6.9 .4,-8.7 .4,-10.1 .3,-10.7 .4,-10.5 .4,-9.9 .3,-9.5 .4,-9.8 .4,-10.5 .3,-11 .4,-10.4 .3,-7.9 .4,-3.5 .4,2.1 .3,7.2 .4,10.7 .4,11.9 .3,10.9 .4,8.8 .4,7.1 .3,6.7 .4,7.9 .4,9.9 .3,11.3 .4,11.1 .4,9.4 .3,6.9 .4,4.6 .4,2.9 .3,1.9 .4,1.3 .4,.9 .3,.8 .4,.6 .4,.6 .3,.5 .4,.4 .4,.4 .3,.3 .4,.3 .4,.3 .3,.3 .4,.2 .4,.2 .3,.2 .4,.1 .4,.2 .3,.1 .4,.2 .4,.1 .3,.1 .4,.1 .4,.1 .3,.1 .4,.1 .4,.1 .3,0 .4,.1 .4,.1 .3,0 .4,.1 .4,0 .3,.1 .4,0 .3,.1 .4,0 .4,0 .3,.1 .4,0 .4,.1 .3,0 .4,0 .4,0 .3,.1 .4,0" stroke="#33cccc" stroke-width="2.4"/>
<path d="M26.6,445.2l.4,0 .4,0 .3,0 .4,-.1 .4,0 .3,0 .4,0 .4,0 .3,0 .4,-.1 .3,0 .4,0 .4,0 .3,0 .4,-.1 .4,0 .3,0 .4,0 .4,-.1 .3,0 .4,0 .4,0 .3,-.1 .4,0 .4,0 .3,-.1 .4,0 .4,0 .3,0 .4,-.1 .4,0 .3,-.1 .4,0 .4,0 .3,-.1 .4,0 .4,-.1 .3,0 .4,-.1 .4,0 .3,-.1 .4,0 .4,-.1 .3,-.1 .4,0 .4,-.1 .3,-.1 .4,0 .4,-.1 .3,-.1 .4,-.1 .4,0 .3,-.1 .4,-.1 .4,-.1 .3,-.1 .4,-.1 .3,-.2 .4,-.1 .4,-.1 .3,-.1 .4,-.2 .4,-.1 .3,-.2 .4,-.1 .4,-.2 .3,-.2 .4,-.2 .4,-.2 .3,-.2 .4,-.2 .4,-.3 .3,-.2 .4,-.3 .4,-.3 .3,-.3 .4,-.3 .4,-.4 .3,-.3 .4,-.4 .4,-.4 .3,-.5 .4,-.4 .4,-.5 .3,-.5 .4,-.6 .4,-.6 .3,-.6 .4,-.6 .4,-.6 .3,-.7 .4,-.7 .4,-.8 .3,-.7 .4,-.8 .4,-.7 .3,-.8 .4,-.7 .4,-.8 .3,-.6 .4,-.7 .4,-.5 .3,-.5 .4,-.4 .4,-.3 .3,-.1 .4,-.1 .4,.1 .3,.1 .4,.3 .3,.4 .4,.5 .4,.5 .3,.7 .4,.6 .4,.8 .3,.7 .4,.8 .4,.7 .3,.8 .4,.7 .4,.8 .3,.7 .4,.7 .4,.6 .3,.6 .4,.6 .4,.6 .3,.6 .4,.5 .4,.5 .3,.4 .4,.5 .4,.4 .3,.4 .4,.3 .4,.4 .3,.3 .4,.3 .4,.3 .3,.3 .4,.2 .4,.3 .3,.2 .4,.2 .4,.2 .3,.2 .4,.2 .4,.2 .3,.1 .4,.2 .4,.1 .3,.2 .4,.1 .4,.1 .3,.1 .4,.2 .3,.1 .4,.1 .4,.1 .3,.1 .4,.1 .4,0 .3,.1 .4,.1 .4,.1 .3,0 .4,.1 .4,.1 .3,0 .4,.1 .4,.1 .3,0 .4,.1 .4,0 .3,.1 .4,0 .4,.1 .3,0 .4,.1 .4,0 .3,0 .4,.1 .4,0 .3,.1 .4,0 .4,0 .3,0 .4,.1 .4,0 .3,0 .4,.1 .4,0 .3,0 .4,0 .4,.1 .3,0 .4,0 .4,0 .3,.1 .4,0 .4,0 .3,0 .4,0 .4,.1 .3,0 .4,0 .4,0 .3,0 .4,0 .3,.1 .4,0 .4,0 .3,0" stroke="#cc22cc" stroke-width="1"/>
<path d="M55.5,445.2l.4,0 .4,0 .3,-.1 .4,0 .4,0 .3,0 .4,-.1 .4,0 .3,0 .4,-.1 .4,0 .3,0 .4,-.1 .4,0 .3,-.1 .4,0 .4,0 .3,-.1 .4,0 .4,-.1 .3,0 .4,-.1 .4,-.1 .3,0 .4,-.1 .4,-.1 .3,0 .4,-.1 .4,-.1 .3,-.1 .4,-.1 .3,-.1 .4,-.1 .4,-.1 .3,-.2 .4,-.1 .4,-.1 .3,-.2 .4,-.2 .4,-.1 .3,-.2 .4,-.2 .4,-.3 .3,-.2 .4,-.3 .4,-.3 .3,-.3 .4,-.3 .4,-.3 .3,-.4 .4,-.4 .4,-.5 .3,-.5 .4,-.5 .4,-.5 .3,-.7 .4,-.6 .4,-.7 .3,-.7 .4,-.8 .4,-.7 .3,-.9 .4,-.8 .4,-.8 .3,-.7 .4,-.7 .4,-.7 .3,-.5 .4,-.4 .4,-.2 .3,-.1 .4,.1 .4,.2 .3,.4 .4,.5 .4,.7 .3,.7 .4,.7 .3,.8 .4,.8 .4,.9 .3,.7 .4,.8 .4,.7 .3,.7 .4,.6 .4,.7 .3,.5 .4,.5 .4,.5 .3,.5 .4,.4 .4,.4 .3,.3 .4,.3 .4,.3 .3,.3 .4,.3 .4,.2 .3,.3 .4,.2 .4,.2 .3,.1 .4,.2 .4,.2 .3,.1 .4,.1 .4,.2 .3,.1 .4,.1 .4,.1 .3,.1 .4,.1 .4,.1 .3,.1 .4,0 .4,.1 .3,.1 .4,0 .4,.1 .3,.1 .4,0 .4,.1 .3,0 .4,.1 .4,0 .3,0 .4,.1 .4,0 .3,.1 .4,0 .3,0 .4,.1 .4,0 .3,0 .4,.1 .4,0 .3,0 .4,0 .4,.1 .3,0 .4,0" stroke="#aa8800" stroke-width="1"/>
<path d="M82.3,445.4l.3,-.3 .4,-.4 .4,-.6 .3,-.7 .4,-.8 .3,-.8 .4,-.9 .4,-.9 .3,-.7 .4,-.6 .4,-.3 .3,0 .4,.3 .4,.6 .3,.7 .4,.9 .4,.9 .3,.8 .4,.8 .4,.7 .3,.6 .4,.4 .4,.3" stroke="#aa22aa" stroke-width="1"/>
<path d="M62.9,445.2l.3,0 .4,0 .4,0 .3,-.1 .4,0 .4,0 .3,0 .4,0 .4,-.1 .3,0 .4,0 .3,0 .4,-.1 .4,0 .3,0 .4,0 .4,-.1 .3,0 .4,0 .4,-.1 .3,0 .4,0 .4,-.1 .3,0 .4,0 .4,-.1 .3,0 .4,-.1 .4,0 .3,-.1 .4,0 .4,-.1 .3,0 .4,-.1 .4,0 .3,-.1 .4,-.1 .4,0 .3,-.1 .4,-.1 .4,-.1 .3,-.1 .4,0 .4,-.1 .3,-.1 .4,-.1 .4,-.1 .3,-.2 .4,-.1 .4,-.1 .3,-.1 .4,-.2 .4,-.1 .3,-.2 .4,-.2 .4,-.1 .3,-.2 .4,-.2 .3,-.2 .4,-.3 .4,-.2 .3,-.2 .4,-.3 .4,-.3 .3,-.3 .4,-.3 .4,-.3 .3,-.4 .4,-.4 .4,-.4 .3,-.4 .4,-.4 .4,-.5 .3,-.5 .4,-.5 .4,-.5 .3,-.5 .4,-.6 .4,-.5 .3,-.6 .4,-.6 .4,-.5 .3,-.5 .4,-.5 .4,-.5 .3,-.4 .4,-.3 .4,-.3 .3,-.2 .4,-.2 .4,0 .3,0 .4,.2 .4,.2 .3,.3 .4,.3 .4,.4 .3,.5 .4,.5 .4,.5 .3,.5 .4,.6 .4,.6 .3,.5 .4,.6 .4,.5 .3,.5 .4,.5 .4,.5 .3,.5 .4,.4 .3,.4 .4,.4 .4,.4 .3,.4 .4,.3 .4,.3 .3,.3 .4,.3 .4,.3 .3,.2 .4,.2 .4,.3 .3,.2 .4,.2 .4,.2 .3,.1 .4,.2 .4,.2 .3,.1 .4,.2 .4,.1 .3,.1 .4,.1 .4,.2 .3,.1 .4,.1 .4,.1 .3,.1 .4,0 .4,.1 .3,.1 .4,.1 .4,.1 .3,0 .4,.1 .4,.1 .3,0 .4,.1 .4,0 .3,.1 .4,0 .4,.1 .3,0 .4,.1 .4,0 .3,.1 .4,0 .3,0 .4,.1 .4,0 .3,0 .4,.1 .4,0 .3,0 .4,.1 .4,0 .3,0 .4,0 .4,.1 .3,0 .4,0 .4,0 .3,.1 .4,0 .4,0 .3,0 .4,0 .4,.1 .3,0 .4,0 .4,0" stroke="#993322" stroke-width="1"/>
<path d="M89.6,445.2l.3,0 .4,0 .4,-.1 .3,0 .4,0 .4,-.1 .3,0 .4,0 .4,-.1 .3,0 .4,-.1 .4,0 .3,-.1 .4,0 .4,-.1 .3,-.1 .4,0 .4,-.1 .3,-.1 .4,-.1 .4,-.1 .3,0 .4,-.2 .4,-.1 .3,-.1 .4,-.1 .4,-.2 .3,-.1 .4,-.2 .4,-.2 .3,-.2 .4,-.2 .4,-.2 .3,-.3 .4,-.3 .4,-.3 .3,-.4 .4,-.3 .3,-.5 .4,-.5 .4,-.5 .3,-.6 .4,-.6 .4,-.7 .3,-.8 .4,-.9 .4,-.9 .3,-1 .4,-1.1 .4,-1 .3,-1.1 .4,-1.1 .4,-1 .3,-.9 .4,-.6 .4,-.5 .3,-.1 .4,.1 .4,.5 .3,.6 .4,.9 .4,1 .3,1.1 .4,1.1 .4,1 .3,1.1 .4,1 .4,.9 .3,.9 .4,.8 .4,.7 .3,.6 .4,.6 .4,.5 .3,.5 .4,.5 .4,.3 .3,.4 .4,.3 .4,.3 .3,.3 .4,.2 .4,.2 .3,.2 .4,.2 .3,.2 .4,.1 .4,.2 .3,.1 .4,.1 .4,.1 .3,.2 .4,0 .4,.1 .3,.1 .4,.1 .4,.1 .3,0 .4,.1 .4,.1 .3,0 .4,.1 .4,0 .3,.1 .4,0 .4,.1 .3,0 .4,0 .4,.1 .3,0 .4,0 .4,.1 .3,0 .4,0" stroke="#22aa44" stroke-width="1"/>
<path d="M94,445.2l.3,0 .4,0 .4,-.1 .3,0 .4,0 .4,0 .3,0 .4,-.1 .4,0 .3,0 .4,-.1 .4,0 .3,0 .4,-.1 .4,0 .3,0 .4,-.1 .4,0 .3,-.1 .4,0 .4,-.1 .3,0 .4,-.1 .4,0 .3,-.1 .4,0 .3,-.1 .4,-.1 .4,0 .3,-.1 .4,-.1 .4,-.1 .3,-.1 .4,-.1 .4,-.1 .3,-.1 .4,-.1 .4,-.1 .3,-.2 .4,-.1 .4,-.2 .3,-.1 .4,-.2 .4,-.2 .3,-.2 .4,-.2 .4,-.2 .3,-.3 .4,-.3 .4,-.2 .3,-.4 .4,-.3 .4,-.4 .3,-.4 .4,-.4 .4,-.5 .3,-.5 .4,-.5 .4,-.6 .3,-.6 .4,-.7 .4,-.7 .3,-.8 .4,-.8 .4,-.9 .3,-.8 .4,-.9 .4,-.9 .3,-.9 .4,-.9 .4,-.8 .3,-.7 .4,-.6 .3,-.4 .4,-.3 .4,-.1 .3,.1 .4,.3 .4,.4 .3,.6 .4,.7 .4,.8 .3,.9 .4,.9 .4,.9 .3,.9 .4,.8 .4,.9 .3,.8 .4,.8 .4,.7 .3,.7 .4,.6 .4,.6 .3,.5 .4,.5 .4,.5 .3,.4 .4,.4 .4,.4 .3,.3 .4,.4 .4,.2 .3,.3 .4,.3 .4,.2 .3,.2 .4,.2 .4,.2 .3,.2 .4,.1 .4,.2 .3,.1 .4,.2 .4,.1 .3,.1 .4,.1 .4,.1 .3,.1 .4,.1 .4,.1 .3,.1 .4,.1 .4,0 .3,.1 .4,.1 .3,0 .4,.1 .4,0 .3,.1 .4,0 .4,.1 .3,0 .4,.1 .4,0 .3,.1 .4,0 .4,0 .3,.1 .4,0 .4,0 .3,.1 .4,0 .4,0 .3,.1 .4,0 .4,0 .3,0 .4,0 .4,.1 .3,0 .4,0" stroke="#2288aa" stroke-width="1"/>
<path d="M102.4,445.2l.4,0 .3,0 .4,0 .3,0 .4,0 .4,-.1 .3,0 .4,0 .4,0 .3,0 .4,0 .4,0 .3,-.1 .4,0 .4,0 .3,0 .4,0 .4,0 .3,0 .4,-.1 .4,0 .3,0 .4,0 .4,0 .3,0 .4,-.1 .4,0 .3,0 .4,0 .4,0 .3,-.1 .4,0 .4,0 .3,0 .4,-.1 .4,0 .3,0 .4,0 .4,-.1 .3,0 .4,0 .4,0 .3,-.1 .4,0 .4,0 .3,-.1 .4,0 .4,0 .3,-.1 .4,0 .3,0 .4,-.1 .4,0 .3,-.1 .4,0 .4,0 .3,-.1 .4,0 .4,-.1 .3,0 .4,-.1 .4,0 .3,-.1 .4,0 .4,-.1 .3,0 .4,-.1 .4,-.1 .3,0 .4,-.1 .4,-.1 .3,0 .4,-.1 .4,-.1 .3,-.1 .4,-.1 .4,-.1 .3,0 .4,-.1 .4,-.1 .3,-.1 .4,-.1 .4,-.1 .3,-.2 .4,-.1 .4,-.1 .3,-.1 .4,-.2 .4,-.1 .3,-.2 .4,-.1 .4,-.2 .3,-.1 .4,-.2 .4,-.2 .3,-.2 .4,-.2 .4,-.2 .3,-.2 .4,-.2 .4,-.3 .3,-.2 .4,-.3 .3,-.3 .4,-.3 .4,-.3 .3,-.3 .4,-.3 .4,-.4 .3,-.3 .4,-.4 .4,-.4 .3,-.4 .4,-.5 .4,-.4 .3,-.5 .4,-.5 .4,-.6 .3,-.5 .4,-.6 .4,-.5 .3,-.7 .4,-.6 .4,-.6 .3,-.7 .4,-.7 .4,-.6 .3,-.7 .4,-.7 .4,-.7 .3,-.7 .4,-.7 .4,-.6 .3,-.6 .4,-.6 .4,-.6 .3,-.4 .4,-.5 .4,-.3 .3,-.3 .4,-.2 .4,-.2 .3,0 .4,0 .4,.2 .3,.2 .4,.3 .4,.3 .3,.5 .4,.4 .3,.6 .4,.6 .4,.6 .3,.6 .4,.7 .4,.7 .3,.7 .4,.7 .4,.7 .3,.6 .4,.7 .4,.7 .3,.6 .4,.6 .4,.7 .3,.5 .4,.6 .4,.5 .3,.6 .4,.5 .4,.5 .3,.4 .4,.5 .4,.4 .3,.4 .4,.4 .4,.3 .3,.4 .4,.3 .4,.3 .3,.3 .4,.3 .4,.3 .3,.3 .4,.2 .4,.3 .3,.2 .4,.2 .4,.2 .3,.2 .4,.2 .4,.2 .3,.2 .4,.1 .4,.2 .3,.1 .4,.2 .4,.1 .3,.2 .4,.1 .4,.1 .3,.1 .4,.2 .3,.1 .4,.1 .4,.1 .3,.1 .4,.1 .4,0 .3,.1 .4,.1 .4,.1 .3,.1 .4,.1 .4,0 .3,.1 .4,.1 .4,0 .3,.1 .4,.1 .4,0 .3,.1 .4,0 .4,.1 .3,0 .4,.1 .4,0 .3,.1 .4,0 .4,.1 .3,0 .4,0 .4,.1 .3,0 .4,.1 .4,0 .3,0 .4,.1 .4,0 .3,0 .4,.1 .4,0 .3,0 .4,.1 .4,0 .3,0 .4,0 .4,.1 .3,0 .4,0 .3,0 .4,.1 .4,0 .3,0 .4,0 .4,.1 .3,0 .4,0 .4,0 .3,0 .4,.1 .4,0 .3,0 .4,0 .4,0 .3,0 .4,.1 .4,0 .3,0 .4,0 .4,0 .3,0 .4,0 .4,.1 .3,0 .4,0 .4,0 .3,0 .4,0 .4,0 .3,.1 .4,0 .4,0 .3,0 .4,0 .4,0" stroke="#2233cc" stroke-width="1"/>
<path d="M155.8,445.2l.4,0 .4,0 .3,-.1 .4,0 .3,0 .4,-.1 .4,0 .3,-.1 .4,0 .4,0 .3,-.1 .4,-.1 .4,0 .3,-.1 .4,0 .4,-.1 .3,-.1 .4,0 .4,-.1 .3,-.1 .4,-.1 .4,-.1 .3,-.1 .4,-.1 .4,-.2 .3,-.1 .4,-.1 .4,-.2 .3,-.2 .4,-.2 .4,-.2 .3,-.2 .4,-.2 .4,-.3 .3,-.2 .4,-.3 .4,-.4 .3,-.3 .4,-.4 .4,-.4 .3,-.4 .4,-.4 .4,-.4 .3,-.5 .4,-.5 .4,-.4 .3,-.4 .4,-.4 .4,-.4 .3,-.3 .4,-.2 .4,-.2 .3,0 .4,0 .4,.2 .3,.2 .4,.3 .3,.4 .4,.4 .4,.4 .3,.4 .4,.5 .4,.5 .3,.4 .4,.4 .4,.4 .3,.4 .4,.4 .4,.3 .3,.4 .4,.3 .4,.2 .3,.3 .4,.2 .4,.2 .3,.2 .4,.2 .4,.2 .3,.2 .4,.1 .4,.1 .3,.2 .4,.1 .4,.1 .3,.1 .4,.1 .4,.1 .3,.1 .4,0 .4,.1 .3,.1 .4,0 .4,.1 .3,0 .4,.1 .4,.1 .3,0 .4,0 .4,.1 .3,0 .4,.1 .4,0 .3,0 .4,.1 .3,0 .4,0" stroke="#cc22cc" stroke-width="1"/>
<path d="M162.4,445.2l.4,0 .3,0 .4,-.1 .4,0 .3,0 .4,0 .4,-.1 .3,0 .4,0 .4,-.1 .3,0 .4,0 .4,-.1 .3,0 .4,0 .4,-.1 .3,0 .4,-.1 .4,0 .3,-.1 .4,0 .4,-.1 .3,0 .4,-.1 .4,-.1 .3,0 .4,-.1 .4,-.1 .3,0 .4,-.1 .4,-.1 .3,-.1 .4,-.1 .4,-.1 .3,-.1 .4,-.1 .4,-.1 .3,-.1 .4,-.1 .3,-.1 .4,-.2 .4,-.1 .3,-.1 .4,-.2 .4,-.1 .3,-.2 .4,-.1 .4,-.2 .3,-.1 .4,-.2 .4,-.1 .3,-.2 .4,-.1 .4,-.1 .3,-.2 .4,-.1 .4,-.1 .3,-.1 .4,-.1 .4,0 .3,-.1 .4,0 .4,0 .3,0 .4,0 .4,.1 .3,0 .4,.1 .4,.1 .3,.1 .4,.1 .4,.2 .3,.1 .4,.1 .4,.2 .3,.1 .4,.2 .4,.1 .3,.2 .4,.1 .4,.2 .3,.1 .4,.2 .4,.1 .3,.1 .4,.2 .3,.1 .4,.1 .4,.1 .3,.1 .4,.1 .4,.1 .3,.1 .4,.1 .4,.1 .3,.1 .4,.1 .4,0 .3,.1 .4,.1 .4,0 .3,.1 .4,.1 .4,0 .3,.1 .4,0 .4,.1 .3,0 .4,.1 .4,0 .3,.1 .4,0 .4,0 .3,.1 .4,0 .4,0 .3,.1 .4,0 .4,0 .3,.1 .4,0 .4,0 .3,0 .4,.1 .4,0 .3,0" stroke="#8822cc" stroke-width="1"/>
<path d="M178.1,445.2l.4,0 .4,0 .3,0 .4,-.1 .4,0 .3,0 .4,0 .4,-.1 .3,0 .4,0 .4,0 .3,-.1 .4,0 .4,0 .3,-.1 .4,0 .4,0 .3,-.1 .4,0 .4,0 .3,-.1 .4,0 .4,-.1 .3,0 .4,-.1 .4,0 .3,-.1 .4,0 .4,-.1 .3,-.1 .4,0 .4,-.1 .3,-.1 .4,-.1 .4,0 .3,-.1 .4,-.1 .4,-.1 .3,-.1 .4,-.1 .4,-.1 .3,-.1 .4,-.1 .3,-.2 .4,-.1 .4,-.1 .3,-.1 .4,-.2 .4,-.1 .3,-.2 .4,-.1 .4,-.2 .3,-.1 .4,-.2 .4,-.2 .3,-.1 .4,-.2 .4,-.2 .3,-.2 .4,-.2 .4,-.2 .3,-.2 .4,-.2 .4,-.2 .3,-.2 .4,-.2 .4,-.2 .3,-.2 .4,-.2 .4,-.1 .3,-.2 .4,-.2 .4,-.2 .3,-.1 .4,-.2 .4,-.1 .3,-.2 .4,-.1 .4,-.1 .3,-.1 .4,0 .4,-.1 .3,0 .4,0 .4,0 .3,0 .4,.1 .4,0 .3,.1 .4,.1 .4,.1 .3,.2 .4,.1 .4,.2 .3,.1 .4,.2 .3,.2 .4,.2 .4,.1 .3,.2 .4,.2 .4,.2 .3,.2 .4,.2 .4,.2 .3,.2 .4,.2 .4,.2 .3,.2 .4,.2 .4,.2 .3,.2 .4,.1 .4,.2 .3,.2 .4,.1 .4,.2 .3,.1 .4,.2 .4,.1 .3,.2 .4,.1 .4,.1 .3,.1 .4,.2 .4,.1 .3,.1 .4,.1 .4,.1 .3,.1 .4,.1 .4,.1 .3,.1 .4,0 .4,.1 .3,.1 .4,.1 .4,0 .3,.1 .4,.1 .4,0 .3,.1 .4,0 .3,.1 .4,0 .4,.1 .3,0 .4,.1 .4,0 .3,0 .4,.1 .4,0 .3,0 .4,.1 .4,0 .3,0 .4,.1 .4,0 .3,0 .4,0 .4,.1 .3,0 .4,0 .4,0 .3,.1 .4,0 .4,0 .3,0" stroke="#cc22cc" stroke-width="1"/>
<path d="M20.4,446H240" stroke="#e0208a" stroke-width="1.3"/>
</g>
<rect x="20.4" y="254.1" width="219.6" height="200" fill="none" stroke="#000" stroke-width="1.5"/>
<path d="M20.4,454.1v6.5M38.7,454.1v3M57,454.1v6.5M75.3,454.1v3M93.6,454.1v6.5M111.9,454.1v3M130.2,454.1v6.5M148.5,454.1v3M166.8,454.1v6.5M185.1,454.1v3M203.4,454.1v6.5M221.7,454.1v3M240,454.1v6.5" stroke="#000" stroke-width="1.5"/>
<text x="20.4" y="475.6" font-size="15.5" text-anchor="middle">100</text>
<text x="57" y="475.6" font-size="15.5" text-anchor="middle">200</text>
<text x="93.6" y="475.6" font-size="15.5" text-anchor="middle">300</text>
<text x="130.2" y="475.6" font-size="15.5" text-anchor="middle">400</text>
<text x="166.8" y="475.6" font-size="15.5" text-anchor="middle">500</text>
<text x="203.4" y="475.6" font-size="15.5" text-anchor="middle">600</text>
<text x="240" y="475.6" font-size="15.5" text-anchor="middle">700</text>
<text x="60" y="492.7" font-size="16.6">Raman Shift (cm<tspan font-size="10.6" dy="-8.3">-1</tspan><tspan dy="8.3">)</tspan></text>
<text transform="translate(12.3,418.7) rotate(-90)" font-size="16.7">Intensity (arb. unit)</text>
<text x="83.7" y="269" font-size="14.2">(c) BFO-SAP</text>
<text x="200" y="270" font-size="14.5">123 K</text>
<text transform="translate(30.3,310) rotate(-90)" font-size="12" text-anchor="middle">134</text>
<text transform="translate(42,278.3) rotate(-90)" font-size="12" text-anchor="middle">147</text>
<text transform="translate(54.7,281.5) rotate(-90)" font-size="12" text-anchor="middle">176</text>
<text transform="translate(70.5,396.3) rotate(-90)" font-size="12" text-anchor="middle">227</text>
<text transform="translate(81.5,400.5) rotate(-90)" font-size="12" text-anchor="middle">266</text>
<text transform="translate(91.7,399.5) rotate(-90)" font-size="12" text-anchor="middle">282</text>
<text transform="translate(101.8,407.9) rotate(-90)" font-size="12" text-anchor="middle">304</text>
<text transform="translate(112.4,401.5) rotate(-90)" font-size="12" text-anchor="middle">349</text>
<text transform="translate(127.7,405.3) rotate(-90)" font-size="12" text-anchor="middle">374</text>
<text x="138.5" y="422.2" font-size="17" text-anchor="middle">*</text>
<text transform="translate(161,404) rotate(-90)" font-size="12" text-anchor="middle">470</text>
<text transform="translate(180.5,414.8) rotate(-90)" font-size="12" text-anchor="middle">526</text>
<text transform="translate(193.2,417.9) rotate(-90)" font-size="12" text-anchor="middle">548</text>
<text transform="translate(214.5,422.5) rotate(-90)" font-size="12" text-anchor="middle">618</text>
<clipPath id="cd"><rect x="287.8" y="252.7" width="220.7" height="201.4"/></clipPath>
<g clip-path="url(#cd)">
<polyline points="287.8,442.2 288.2,442.1 288.5,442.1 288.9,442.5 289.3,442.3 289.6,441.8 290,441.5 290.4,441.3 290.7,441.4 291.1,440.5 291.5,440.5 291.8,440.3 292.2,440.3 292.6,440.2 292.9,439.8 293.3,439.7 293.7,439.4 294.1,438.9 294.4,438.2 294.8,437.5 295.2,436.4 295.5,435.7 295.9,434.5 296.3,433 296.6,430.8 297,427.8 297.4,424.6 297.7,420.6 298.1,416.2 298.5,411.3 298.8,405.8 299.2,399.4 299.6,392.4 299.9,385 300.3,377.7 300.7,370.7 301,363.3 301.4,355.6 301.8,347.3 302.1,338.4 302.5,328.7 302.9,317.1 303.2,305 303.6,295.6 304,288.9 304.4,282.5 304.7,277.7 305.1,275.8 305.5,278.6 305.8,285.2 306.2,295.3 306.6,308.2 306.9,321.7 307.3,332.6 307.7,338.6 308,347.1 308.4,364.3 308.8,383.5 309.1,396.9 309.5,405.2 309.9,411.4 310.2,416 310.6,418.8 311,420.2 311.3,420.7 311.7,420 312.1,418.4 312.4,415.8 312.8,412.2 313.2,407.5 313.5,402.2 313.9,396.7 314.3,391.2 314.7,386.2 315,382 315.4,378.5 315.8,376.1 316.1,374.6 316.5,374.6 316.9,375.8 317.2,378.3 317.6,382.5 318,387.3 318.3,393.1 318.7,398.6 319.1,404.7 319.4,410.7 319.8,416.2 320.2,421.4 320.5,425.6 320.9,429.6 321.3,432.8 321.6,435.4 322,437 322.4,438.3 322.7,439.5 323.1,440.4 323.5,441.2 323.8,441.6 324.2,442.3 324.6,442.4 325,442.4 325.3,442.3 325.7,442.4 326.1,442.1 326.4,441.3 326.8,440.3 327.2,439.3 327.5,438 327.9,436 328.3,433.1 328.6,429.9 329,426.4 329.4,422.3 329.7,417.6 330.1,411.6 330.5,406.1 330.8,400.2 331.2,394.7 331.6,389.1 331.9,384.2 332.3,380.1 332.7,377.1 333,375.3 333.4,374.8 333.8,375.8 334.1,377.9 334.5,381.3 334.9,385.5 335.3,390.6 335.6,396.1 336,401.7 336.4,407.5 336.7,413 337.1,418.2 337.5,422.9 337.8,426.9 338.2,430.3 338.6,433.3 338.9,435.3 339.3,437.1 339.7,438.5 340,439.3 340.4,439.7 340.8,439.1 341.1,439.2 341.5,438.7 341.9,438.2 342.2,437.6 342.6,437 343,436.4 343.3,435.2 343.7,434.1 344.1,433 344.4,432.3 344.8,431.6 345.2,430.9 345.5,430.2 345.9,429.8 346.3,429.3 346.7,429 347,428.6 347.4,428.5 347.8,428.3 348.1,428 348.5,428 348.9,428.2 349.2,428.6 349.6,429 350,429.3 350.3,429.4 350.7,429.6 351.1,430 351.4,430.6 351.8,431 352.2,431.3 352.5,431.6 352.9,431.6 353.3,431.7 353.6,431.4 354,431.3 354.4,431.2 354.7,431.4 355.1,431.7 355.5,431.6 355.8,431.3 356.2,431.2 356.6,431.5 357,431.5 357.3,431.2 357.7,430.8 358.1,430.9 358.4,430.7 358.8,431.1 359.2,431.2 359.5,431.5 359.9,431.9 360.3,431.5 360.6,431 361,430.5 361.4,430.3 361.7,430.6 362.1,430.1 362.5,430.1 362.8,429.4 363.2,429.9 363.6,429.8 363.9,430 364.3,429.7 364.7,430.3 365,430.6 365.4,430.9 365.8,431.2 366.1,431.9 366.5,432.6 366.9,433.1 367.3,433.2 367.6,433.3 368,433.5 368.4,434.1 368.7,435.1 369.1,436 369.5,436.7 369.8,436.9 370.2,437 370.6,437.1 370.9,437.4 371.3,437.7 371.7,437.7 372,437.5 372.4,437.7 372.8,437.9 373.1,438 373.5,437.6 373.9,437.1 374.2,436.9 374.6,436.4 375,436.2 375.3,435.7 375.7,435.6 376.1,435.3 376.4,434.9 376.8,434.5 377.2,434 377.6,433.6 377.9,433.5 378.3,433.5 378.7,433.2 379,433 379.4,432.6 379.8,432.7 380.1,432.3 380.5,432.6 380.9,433.1 381.2,433.7 381.6,433.7 382,433.4 382.3,433.2 382.7,433.6 383.1,433.9 383.4,434.6 383.8,435 384.2,435.6 384.5,435.5 384.9,435.3 385.3,435.2 385.6,435.3 386,435.7 386.4,435.8 386.7,435.9 387.1,435.6 387.5,435.5 387.9,435.5 388.2,435.7 388.6,435.8 389,436.2 389.3,436.3 389.7,436.7 390.1,436.9 390.4,437.6 390.8,437.9 391.2,438.3 391.5,438.7 391.9,439 392.3,439.5 392.6,440.3 393,440.8 393.4,441.1 393.7,441 394.1,441.5 394.5,441.9 394.8,442.2 395.2,442.9 395.6,443 395.9,443.2 396.3,443.2 396.7,443.5 397,443.6 397.4,443.4 397.8,443.3 398.1,443 398.5,442.9 398.9,442.7 399.3,443.2 399.6,443.3 400,443.3 400.4,443 400.7,442.7 401.1,442.7 401.5,442.6 401.8,442.5 402.2,442.2 402.6,441.9 402.9,441.7 403.3,441.3 403.7,440.9 404,440.5 404.4,440.3 404.8,440.1 405.1,440.1 405.5,439.6 405.9,439.3 406.2,438.8 406.6,438.9 407,438.9 407.3,438.9 407.7,438.6 408.1,438.3 408.4,437.7 408.8,437.5 409.2,437.1 409.6,436.8 409.9,436.6 410.3,436.4 410.7,436.1 411,435.8 411.4,435.6 411.8,436 412.1,435.8 412.5,435.6 412.9,435.9 413.2,436.1 413.6,436.2 414,435.7 414.3,436 414.7,436 415.1,435.9 415.4,435.5 415.8,435.6 416.2,435.9 416.5,436.1 416.9,435.8 417.3,436.2 417.6,435.8 418,435.8 418.4,434.9 418.7,435 419.1,434.8 419.5,434.9 419.9,434.3 420.2,433.8 420.6,432.9 421,432.4 421.3,432.4 421.7,432.3 422.1,431.9 422.4,431 422.8,430.6 423.2,430.4 423.5,430.3 423.9,430 424.3,429.9 424.6,429.7 425,430.1 425.4,429.9 425.7,429.9 426.1,429.9 426.5,430.6 426.8,431.3 427.2,431.8 427.6,432.3 427.9,432.7 428.3,433.6 428.7,434.4 429,435.3 429.4,435.7 429.8,436.4 430.2,436.9 430.5,437.6 430.9,438.3 431.3,439.3 431.6,440.3 432,440.6 432.4,440.7 432.7,440.9 433.1,441.6 433.5,442.1 433.8,442.7 434.2,442.7 434.6,443 434.9,442.9 435.3,443 435.7,443.3 436,443.6 436.4,443.8 436.8,443.5 437.1,443.4 437.5,443.6 437.9,443.7 438.2,443.3 438.6,443 439,442.4 439.3,441.8 439.7,441.2 440.1,440.9 440.5,440.2 440.8,439.7 441.2,438.7 441.6,438.1 441.9,437.3 442.3,436.6 442.7,435.8 443,434.9 443.4,434.8 443.8,434.8 444.1,434.1 444.5,433.7 444.9,433.5 445.2,434.2 445.6,434.4 446,435.1 446.3,435.5 446.7,435.9 447.1,436.4 447.4,437.2 447.8,437.9 448.2,438.5 448.5,438.9 448.9,439.3 449.3,439.7 449.6,439.8 450,439.5 450.4,439.4 450.8,439.3 451.1,439.7 451.5,439.6 451.9,439.2 452.2,438.9 452.6,438.4 453,438.2 453.3,437.9 453.7,437.5 454.1,437.3 454.4,436.8 454.8,436.9 455.2,436.8 455.5,437 455.9,436.8 456.3,436.7 456.6,436.4 457,436.4 457.4,436.7 457.7,436.8 458.1,437.3 458.5,437.2 458.8,437.3 459.2,437.1 459.6,437.5 459.9,437.6 460.3,438.1 460.7,438.2 461,438.4 461.4,438.4 461.8,438.5 462.2,439.1 462.5,439.4 462.9,440 463.3,439.8 463.6,440.2 464,439.9 464.4,439.8 464.7,439.6 465.1,439.9 465.5,440.1 465.8,440.2 466.2,439.8 466.6,439.2 466.9,438.5 467.3,437.9 467.7,437.7 468,437.5 468.4,437 468.8,436.2 469.1,435.7 469.5,435.4 469.9,434.6 470.2,434 470.6,433.4 471,433 471.3,432.3 471.7,431.4 472.1,430.8 472.5,430.4 472.8,429.5 473.2,428.9 473.6,428.4 473.9,428.1 474.3,428 474.7,427.2 475,426.9 475.4,426 475.8,425.6 476.1,425.2 476.5,424.7 476.9,424.7 477.2,424.5 477.6,424.9 478,425.1 478.3,425.4 478.7,425.5 479.1,425.6 479.4,425.6 479.8,426.2 480.2,426.9 480.5,427.7 480.9,428.2 481.3,428.6 481.6,429.5 482,430.2 482.4,430.8 482.8,431.1 483.1,431.8 483.5,432.5 483.9,433 484.2,433.5 484.6,434.1 485,434.9 485.3,435.8 485.7,436.3 486.1,436.8 486.4,437.4 486.8,437.8 487.2,438.5 487.5,439.1 487.9,439.9 488.3,439.9 488.6,440.1 489,440.7 489.4,441.2 489.7,441.5 490.1,441.5 490.5,442.2 490.8,442.6 491.2,442.9 491.6,442.8 491.9,443 492.3,443.2 492.7,443.7 493.1,443.6 493.4,443.6 493.8,443.3 494.2,443.6 494.5,443.5 494.9,443.8 495.3,443.8 495.6,444 496,444 496.4,444 496.7,444.1 497.1,444 497.5,444.2 497.8,443.9 498.2,444 498.6,443.9 498.9,444 499.3,443.8 499.7,443.7 500,443.6 500.4,443.9 500.8,444.3 501.1,444.5 501.5,444.6 501.9,444.4 502.2,444 502.6,444.1 503,444 503.4,444.3 503.7,443.9 504.1,444.1 504.5,444.2 504.8,444.3 505.2,444.3 505.6,444 505.9,444 506.3,443.8 506.7,443.8 507,443.8 507.4,444 507.8,444 508.1,444.1 508.5,444.2" fill="none" marker-start="url(#md)" marker-mid="url(#md)" marker-end="url(#md)"/>
<path d="M287.8,442.3l.4,-.1 .3,-.1 .4,-.1 .4,-.1 .3,-.2 .4,-.1 .4,-.1 .3,-.2 .4,-.1 .4,-.2 .3,-.2 .4,-.2 .4,-.3 .3,-.2 .4,-.3 .4,-.4 .4,-.4 .3,-.6 .4,-.6 .4,-.9 .3,-1 .4,-1.4 .4,-1.7 .3,-2.1 .4,-2.7 .4,-3.2 .3,-3.9 .4,-4.5 .4,-5.1 .3,-5.8 .4,-6.3 .4,-6.8 .3,-7.1 .4,-7.4 .4,-7.5 .3,-7.6 .4,-7.8 .4,-7.9 .3,-8.5 .4,-9.8 .4,-11.7 .3,-12.1 .4,-9.4 .4,-6.8 .4,-6.3 .3,-5 .4,-1.8 .4,2.5 .3,6.8 .4,10.4 .4,13 .3,13.5 .4,10.7 .4,6.4 .3,8.7 .4,17.1 .4,19 .3,13.3 .4,8.5 .4,5.9 .3,4.4 .4,2.9 .4,1.6 .3,.4 .4,-.8 .4,-1.8 .3,-2.8 .4,-3.7 .4,-4.3 .3,-5 .4,-5.2 .4,-5.3 .4,-5.1 .3,-4.6 .4,-3.7 .4,-2.7 .3,-1.4 .4,0 .4,1.4 .3,2.7 .4,3.9 .4,4.9 .3,5.5 .4,5.9 .4,6.1 .3,5.9 .4,5.5 .4,5.1 .3,4.4 .4,3.8 .4,3.2 .3,2.5 .4,2 .4,1.6 .3,1.2 .4,.8 .4,.6 .3,.5 .4,.2 .4,.2 .4,0 .3,-.1 .4,-.2 .4,-.4 .3,-.6 .4,-.8 .4,-1.1 .3,-1.5 .4,-2 .4,-2.5 .3,-3 .4,-3.7 .4,-4.2 .3,-4.9 .4,-5.3 .4,-5.7 .3,-5.8 .4,-5.8 .4,-5.5 .3,-5 .4,-4.1 .4,-3.1 .3,-1.8 .4,-.6 .4,.9 .3,2.1 .4,3.3 .4,4.3 .4,5.1 .3,5.6 .4,5.8 .4,5.8 .3,5.6 .4,5.1 .4,4.7 .3,4 .4,3.4 .4,2.7 .3,2.2 .4,1.6 .4,1.1 .3,.7 .4,.4 .4,.1 .3,-.2 .4,-.3 .4,-.5 .3,-.6 .4,-.7 .4,-.7 .3,-.8 .4,-.8 .4,-.9 .3,-.8 .4,-.8 .4,-.8 .3,-.7 .4,-.6 .4,-.6 .4,-.4 .3,-.4 .4,-.2 .4,-.2 .3,0 .4,.1 .4,.1 .3,.2 .4,.3 .4,.4 .3,.3 .4,.4 .4,.3 .3,.3 .4,.3 .4,.3 .3,.2 .4,.1 .4,.1 .3,0 .4,0 .4,0 .3,0 .4,-.1 .4,0 .3,-.1 .4,0 .4,0 .4,0 .3,0 .4,0 .4,0 .3,0 .4,0 .4,-.1 .3,0 .4,-.1 .4,-.1 .3,-.1 .4,-.2 .4,-.1 .3,-.2 .4,-.1 .4,-.1 .3,-.1 .4,-.1 .4,0 .3,.1 .4,.1 .4,.2 .3,.2 .4,.3 .4,.3 .3,.4 .4,.5 .4,.5 .4,.5 .3,.5 .4,.6 .4,.5 .3,.5 .4,.5 .4,.5 .3,.4 .4,.4 .4,.3 .3,.2 .4,.2 .4,.1 .3,.1 .4,0 .4,-.1 .3,-.1 .4,-.2 .4,-.3 .3,-.3 .4,-.3 .4,-.3 .3,-.4 .4,-.4 .4,-.4 .3,-.4 .4,-.3 .4,-.4 .4,-.3 .3,-.2 .4,-.2 .4,-.2 .3,-.1 .4,-.1 .4,0 .3,.1 .4,.1 .4,.1 .3,.2 .4,.2 .4,.2 .3,.3 .4,.2 .4,.2 .3,.3 .4,.2 .4,.2 .3,.1 .4,.2 .4,.1 .3,0 .4,.1 .4,0 .3,.1 .4,0 .4,.1 .4,0 .3,.1 .4,.2 .4,.1 .3,.3 .4,.3 .4,.3 .3,.4 .4,.4 .4,.4 .3,.5 .4,.4 .4,.5 .3,.4 .4,.4 .4,.4 .3,.4 .4,.3 .4,.4 .3,.2 .4,.3 .4,.2 .3,.1 .4,.2 .4,.1 .3,0 .4,.1 .4,0 .4,0 .3,0 .4,-.1 .4,0 .3,-.1 .4,-.1 .4,-.1 .3,-.2 .4,-.1 .4,-.2 .3,-.2 .4,-.1 .4,-.2 .3,-.3 .4,-.2 .4,-.2 .3,-.3 .4,-.2 .4,-.3 .3,-.3 .4,-.3 .4,-.2 .3,-.3 .4,-.3 .4,-.3 .3,-.3 .4,-.3 .4,-.2 .3,-.3 .4,-.2 .4,-.3 .4,-.2 .3,-.2 .4,-.1 .4,-.2 .3,-.1 .4,-.2 .4,0 .3,-.1 .4,-.1 .4,0 .3,0 .4,0 .4,0 .3,0 .4,0 .4,.1 .3,0 .4,0 .4,0 .3,-.1 .4,0 .4,-.1 .3,-.1 .4,-.2 .4,-.2 .3,-.2 .4,-.3 .4,-.3 .4,-.3 .3,-.4 .4,-.4 .4,-.4 .3,-.4 .4,-.5 .4,-.4 .3,-.4 .4,-.4 .4,-.3 .3,-.3 .4,-.2 .4,-.1 .3,-.1 .4,0 .4,.1 .3,.1 .4,.3 .4,.3 .3,.4 .4,.5 .4,.5 .3,.6 .4,.7 .4,.7 .3,.7 .4,.7 .4,.7 .4,.7 .3,.7 .4,.6 .4,.7 .3,.6 .4,.6 .4,.5 .3,.5 .4,.4 .4,.4 .3,.3 .4,.3 .4,.3 .3,.2 .4,.2 .4,.1 .3,.1 .4,.1 .4,0 .3,0 .4,0 .4,-.2 .3,-.2 .4,-.2 .4,-.3 .3,-.4 .4,-.5 .4,-.6 .4,-.6 .3,-.8 .4,-.7 .4,-.8 .3,-.8 .4,-.8 .4,-.8 .3,-.6 .4,-.6 .4,-.4 .3,-.3 .4,-.2 .4,0 .3,.2 .4,.3 .4,.5 .3,.5 .4,.6 .4,.6 .3,.7 .4,.6 .4,.5 .3,.5 .4,.4 .4,.3 .3,.2 .4,.2 .4,0 .4,-.1 .3,-.1 .4,-.2 .4,-.2 .3,-.3 .4,-.3 .4,-.3 .3,-.3 .4,-.3 .4,-.3 .3,-.2 .4,-.3 .4,-.2 .3,-.1 .4,-.1 .4,-.1 .3,-.1 .4,.1 .4,0 .3,.1 .4,.1 .4,.2 .3,.2 .4,.2 .4,.3 .3,.2 .4,.3 .4,.3 .3,.2 .4,.3 .4,.2 .4,.3 .3,.1 .4,.2 .4,.1 .3,.1 .4,.1 .4,0 .3,0 .4,-.1 .4,-.2 .3,-.1 .4,-.3 .4,-.3 .3,-.3 .4,-.3 .4,-.5 .3,-.4 .4,-.5 .4,-.5 .3,-.6 .4,-.6 .4,-.6 .3,-.6 .4,-.7 .4,-.6 .3,-.7 .4,-.6 .4,-.7 .4,-.7 .3,-.6 .4,-.6 .4,-.6 .3,-.5 .4,-.6 .4,-.4 .3,-.5 .4,-.3 .4,-.3 .3,-.3 .4,-.2 .4,-.1 .3,0 .4,0 .4,.1 .3,.1 .4,.3 .4,.3 .3,.3 .4,.4 .4,.5 .3,.5 .4,.5 .4,.6 .3,.6 .4,.6 .4,.7 .4,.6 .3,.7 .4,.7 .4,.7 .3,.6 .4,.7 .4,.6 .3,.7 .4,.6 .4,.6 .3,.6 .4,.5 .4,.5 .3,.5 .4,.5 .4,.4 .3,.4 .4,.4 .4,.3 .3,.4 .4,.2 .4,.3 .3,.3 .4,.2 .4,.2 .3,.2 .4,.1 .4,.2 .4,.1 .3,.1 .4,.1 .4,.1 .3,.1 .4,0 .4,.1 .3,.1 .4,0 .4,0 .3,.1 .4,0 .4,0 .3,0 .4,.1 .4,0 .3,0 .4,0 .4,0 .3,0 .4,0 .4,0 .3,.1 .4,0 .4,0 .3,0 .4,0 .4,0 .4,0 .3,0 .4,0 .4,0 .3,0 .4,0 .4,0 .3,0 .4,0 .4,0 .3,0 .4,0 .4,0 .3,0 .4,0" stroke="#d4145a" stroke-width="1.8"/>
<path d="M292.6,443.5l.3,-.1 .4,-.1 .4,-.1 .4,-.2 .3,-.3 .4,-.4 .4,-.5 .3,-.7 .4,-.9 .4,-1.3 .3,-1.6 .4,-2.1 .4,-2.5 .3,-3.1 .4,-3.4 .4,-3.9 .3,-4.2 .4,-4.3 .4,-4.2 .3,-3.9 .4,-3.2 .4,-2.3 .3,-1.1 .4,.1 .4,1.4 .3,2.5 .4,3.4 .4,3.9 .3,4.2 .4,4.3 .4,4.2 .4,3.8 .3,3.4 .4,2.9 .4,2.5 .3,1.9 .4,1.6 .4,1.2 .3,.9 .4,.7 .4,.4 .3,.4 .4,.2 .4,.2 .3,.2 .4,.1 .4,0" stroke="#22cc22" stroke-width="1"/>
<path d="M287.8,442.6l.4,-.1 .3,-.1 .4,0 .4,-.1 .3,-.1 .4,-.1 .4,-.1 .3,-.2 .4,-.1 .4,-.1 .3,-.2 .4,-.1 .4,-.2 .3,-.2 .4,-.2 .4,-.2 .4,-.2 .3,-.3 .4,-.3 .4,-.3 .3,-.4 .4,-.3 .4,-.5 .3,-.5 .4,-.6 .4,-.7 .3,-.8 .4,-1 .4,-1.3 .3,-1.6 .4,-2 .4,-2.6 .3,-3.3 .4,-4.1 .4,-5.3 .3,-6.4 .4,-7.9 .4,-9.3 .3,-11 .4,-13.1 .4,-15.7 .3,-16.4 .4,-13.6 .4,-11 .4,-10.1 .3,-8.4 .4,-4.7 .4,0 .3,4.8 .4,8.9 .4,11.8 .3,12.6 .4,10.1 .4,6 .3,8.4 .4,17.1 .4,18.9 .3,13.6 .4,8.8 .4,6.6 .3,5.3 .4,4.1 .4,3.3 .3,2.6 .4,2 .4,1.6 .3,1.3 .4,1 .4,.8 .3,.7 .4,.6 .4,.5 .4,.5 .3,.3 .4,.4 .4,.3 .3,.3 .4,.3 .4,.2 .3,.2 .4,.2 .4,.2 .3,.2 .4,.1 .4,.2 .3,.1 .4,.1 .4,.2 .3,.1 .4,.1 .4,.1 .3,.1 .4,-0 .4,.1 .3,.1 .4,.1 .4,-0 .3,.1 .4,-0 .4,.1 .4,-0 .3,.1 .4,-0 .4,.1 .3,-0 .4,.1 .4,-0 .3,-0 .4,.1 .4,-0 .3,-0 .4,.1 .4,-0 .3,-0 .4,-0 .4,.1 .3,-0 .4,-0" stroke="#3322dd" stroke-width="2.4"/>
<path d="M308.8,443.7l.3,-.3 .4,-.5 .4,-.7 .3,-1 .4,-1.3 .4,-1.7 .3,-2.3 .4,-2.8 .4,-3.4 .3,-4.1 .4,-4.7 .4,-5.2 .3,-5.7 .4,-5.9 .4,-5.8 .4,-5.6 .3,-4.9 .4,-4.2 .4,-3 .3,-1.6 .4,-.3 .4,1.1 .3,2.5 .4,3.7 .4,4.7 .3,5.3 .4,5.8 .4,5.9 .3,5.7 .4,5.5 .4,4.9 .3,4.3 .4,3.7 .4,3.1 .3,2.4 .4,2 .4,1.4 .3,1.1 .4,.8 .4,.6 .3,.4" stroke="#33cccc" stroke-width="2.4"/>
<path d="M325.3,443.7l.4,-.3 .4,-.4 .3,-.7 .4,-.8 .4,-1.2 .3,-1.6 .4,-2 .4,-2.5 .3,-3.1 .4,-3.7 .4,-4.2 .3,-4.9 .4,-5.3 .4,-5.7 .3,-5.9 .4,-5.8 .4,-5.6 .3,-4.9 .4,-4.2 .4,-3.1 .3,-1.8 .4,-.6 .4,.8 .3,2.2 .4,3.3 .4,4.3 .4,5.1 .3,5.6 .4,5.9 .4,5.8 .3,5.7 .4,5.2 .4,4.8 .3,4.1 .4,3.6 .4,3 .3,2.4 .4,1.9 .4,1.4 .3,1.1 .4,.9 .4,.6 .3,.4 .4,.3" stroke="#ee22cc" stroke-width="2.4"/>
<path d="M337.8,443.5l.4,-.1 .4,-.3 .3,-.2 .4,-.3 .4,-.4 .3,-.4 .4,-.5 .4,-.5 .3,-.6 .4,-.6 .4,-.7 .3,-.7 .4,-.8 .4,-.8 .3,-.8 .4,-.9 .4,-.9 .3,-.8 .4,-.8 .4,-.8 .3,-.7 .4,-.6 .4,-.5 .4,-.4 .3,-.3 .4,-.2 .4,-.1 .3,.1 .4,.2 .4,.3 .3,.4 .4,.5 .4,.6 .3,.7 .4,.8 .4,.8 .3,.8 .4,.9 .4,.9 .3,.8 .4,.8 .4,.8 .3,.7 .4,.7 .4,.6 .3,.6 .4,.5 .4,.5 .3,.4 .4,.4 .4,.3 .4,.2 .3,.3 .4,.1" stroke="#cc8800" stroke-width="1"/>
<path d="M348.9,443.7l.3,-.2 .4,-.3 .4,-.2 .3,-.3 .4,-.4 .4,-.4 .3,-.4 .4,-.5 .4,-.5 .3,-.5 .4,-.6 .4,-.5 .3,-.5 .4,-.4 .4,-.4 .3,-.4 .4,-.2 .4,-.1 .3,-.1 .4,.1 .4,.1 .4,.2 .3,.4 .4,.4 .4,.4 .3,.5 .4,.5 .4,.6 .3,.5 .4,.5 .4,.5 .3,.4 .4,.4 .4,.4 .3,.3 .4,.2 .4,.3 .3,.2" stroke="#2233cc" stroke-width="1"/>
<path d="M352.5,443.6l.4,-.2 .4,-.1 .3,-.2 .4,-.3 .4,-.2 .3,-.3 .4,-.4 .4,-.3 .3,-.4 .4,-.5 .4,-.4 .4,-.6 .3,-.5 .4,-.6 .4,-.6 .3,-.6 .4,-.7 .4,-.6 .3,-.7 .4,-.6 .4,-.6 .3,-.6 .4,-.6 .4,-.5 .3,-.5 .4,-.4 .4,-.4 .3,-.2 .4,-.2 .4,-.2 .3,0 .4,.1 .4,.1 .3,.2 .4,.3 .4,.4 .3,.4 .4,.5 .4,.5 .4,.6 .3,.6 .4,.6 .4,.7 .3,.6 .4,.7 .4,.6 .3,.6 .4,.6 .4,.6 .3,.5 .4,.6 .4,.4 .3,.5 .4,.4 .4,.3 .3,.3 .4,.3 .4,.3 .3,.2 .4,.2 .4,.2 .3,.1" stroke="#7722aa" stroke-width="1"/>
<path d="M368.4,443.6l.3,-.1 .4,-.2 .4,-.2 .3,-.2 .4,-.2 .4,-.2 .3,-.3 .4,-.4 .4,-.3 .3,-.4 .4,-.4 .4,-.4 .3,-.5 .4,-.5 .4,-.5 .3,-.5 .4,-.5 .4,-.5 .3,-.5 .4,-.5 .4,-.5 .3,-.4 .4,-.5 .4,-.4 .4,-.3 .3,-.3 .4,-.2 .4,-.2 .3,-.1 .4,-0 .4,-0 .3,.1 .4,.2 .4,.2 .3,.3 .4,.3 .4,.4 .3,.5 .4,.4 .4,.5 .3,.5 .4,.5 .4,.5 .3,.5 .4,.5 .4,.5 .3,.5 .4,.5 .4,.4 .3,.4 .4,.4 .4,.3 .4,.4 .3,.3 .4,.2 .4,.2 .3,.2 .4,.2 .4,.2 .3,.1" stroke="#aa1133" stroke-width="1"/>
<path d="M381.2,443.6l.4,-.1 .4,-.2 .3,-.2 .4,-.2 .4,-.2 .3,-.3 .4,-.3 .4,-.4 .3,-.3 .4,-.4 .4,-.4 .3,-.4 .4,-.4 .4,-.4 .3,-.3 .4,-.4 .4,-.3 .4,-.2 .3,-.2 .4,-.2 .4,-0 .3,-0 .4,.1 .4,.2 .3,.3 .4,.2 .4,.4 .3,.3 .4,.4 .4,.4 .3,.4 .4,.4 .4,.4 .3,.4 .4,.3 .4,.3 .3,.3 .4,.3 .4,.2 .3,.2 .4,.1 .4,.2" stroke="#228833" stroke-width="1"/>
<path d="M398.9,443.6l.4,-.1 .3,-.2 .4,-.1 .4,-.1 .3,-.2 .4,-.1 .4,-.2 .3,-.2 .4,-.2 .4,-.2 .3,-.2 .4,-.2 .4,-.3 .3,-.2 .4,-.3 .4,-.3 .3,-.2 .4,-.3 .4,-.3 .3,-.3 .4,-.3 .4,-.3 .3,-.3 .4,-.2 .4,-.3 .3,-.3 .4,-.2 .4,-.2 .4,-.2 .3,-.2 .4,-.2 .4,-.2 .3,-.1 .4,-.1 .4,0 .3,-.1 .4,0 .4,0 .3,.1 .4,0 .4,.1 .3,.1 .4,.2 .4,.2 .3,.2 .4,.2 .4,.2 .3,.2 .4,.3 .4,.3 .3,.2 .4,.3 .4,.3 .3,.3 .4,.3 .4,.3 .4,.3 .3,.2 .4,.3 .4,.3 .3,.2 .4,.3 .4,.2 .3,.2 .4,.2 .4,.2 .3,.2 .4,.2 .4,.1 .3,.2 .4,.1 .4,.1 .3,.2 .4,.1" stroke="#2244cc" stroke-width="1"/>
<path d="M414.7,443.6l.4,-.1 .3,-.2 .4,-.2 .4,-.2 .3,-.3 .4,-.3 .4,-.4 .3,-.4 .4,-.4 .4,-.5 .3,-.5 .4,-.6 .4,-.6 .4,-.6 .3,-.7 .4,-.6 .4,-.7 .3,-.7 .4,-.7 .4,-.6 .3,-.6 .4,-.6 .4,-.5 .3,-.5 .4,-.4 .4,-.3 .3,-.2 .4,-.2 .4,0 .3,.1 .4,.1 .4,.3 .3,.3 .4,.4 .4,.5 .3,.5 .4,.6 .4,.6 .3,.7 .4,.7 .4,.6 .4,.7 .3,.7 .4,.6 .4,.7 .3,.5 .4,.6 .4,.5 .3,.5 .4,.4 .4,.4 .3,.3 .4,.3 .4,.3 .3,.2 .4,.2 .4,.2" stroke="#6622aa" stroke-width="1"/>
<path d="M437.9,443.6l.3,-.2 .4,-.3 .4,-.4 .3,-.4 .4,-.5 .4,-.6 .4,-.6 .3,-.7 .4,-.8 .4,-.8 .3,-.8 .4,-.7 .4,-.8 .3,-.6 .4,-.6 .4,-.4 .3,-.2 .4,-.1 .4,.1 .3,.2 .4,.4 .4,.6 .3,.6 .4,.8 .4,.7 .3,.8 .4,.8 .4,.8 .3,.7 .4,.6 .4,.6 .3,.5 .4,.4 .4,.4 .4,.3 .3,.2" stroke="#ee7700" stroke-width="1"/>
<path d="M446.3,443.6l.4,-.1 .4,-.2 .3,-.1 .4,-.2 .4,-.2 .3,-.3 .4,-.2 .4,-.3 .3,-.3 .4,-.3 .4,-.3 .4,-.3 .3,-.4 .4,-.3 .4,-.4 .3,-.4 .4,-.3 .4,-.4 .3,-.3 .4,-.4 .4,-.2 .3,-.3 .4,-.3 .4,-.1 .3,-.2 .4,-.1 .4,-.1 .3,0 .4,0 .4,.1 .3,.1 .4,.2 .4,.2 .3,.2 .4,.3 .4,.3 .3,.3 .4,.4 .4,.3 .3,.4 .4,.4 .4,.3 .4,.4 .3,.3 .4,.4 .4,.3 .3,.3 .4,.3 .4,.2 .3,.3 .4,.2 .4,.2 .3,.2 .4,.2 .4,.1 .3,.1" stroke="#8822cc" stroke-width="1"/>
<path d="M460.7,443.6l.3,-.1 .4,-.1 .4,-.2 .4,-.1 .3,-.2 .4,-.1 .4,-.2 .3,-.2 .4,-.3 .4,-.2 .3,-.3 .4,-.3 .4,-.4 .3,-.3 .4,-.4 .4,-.4 .3,-.5 .4,-.5 .4,-.5 .3,-.5 .4,-.6 .4,-.5 .3,-.6 .4,-.7 .4,-.6 .3,-.7 .4,-.6 .4,-.7 .3,-.7 .4,-.7 .4,-.7 .4,-.6 .3,-.7 .4,-.6 .4,-.6 .3,-.5 .4,-.5 .4,-.5 .3,-.4 .4,-.4 .4,-.3 .3,-.3 .4,-.1 .4,-.2 .3,0 .4,0 .4,.1 .3,.2 .4,.2 .4,.3 .3,.3 .4,.4 .4,.5 .3,.5 .4,.5 .4,.6 .3,.6 .4,.6 .4,.7 .4,.6 .3,.7 .4,.7 .4,.7 .3,.7 .4,.6 .4,.7 .3,.6 .4,.6 .4,.6 .3,.6 .4,.5 .4,.5 .3,.5 .4,.5 .4,.4 .3,.4 .4,.4 .4,.4 .3,.3 .4,.3 .4,.2 .3,.3 .4,.2 .4,.2 .3,.2 .4,.1 .4,.2 .4,.1 .3,.1 .4,.1" stroke="#cc1155" stroke-width="1"/>
<path d="M287.8,444.3H508.5" stroke="#e0208a" stroke-width="1.3"/>
</g>
<rect x="287.8" y="252.7" width="220.7" height="201.4" fill="none" stroke="#000" stroke-width="1.5"/>
<path d="M287.8,454.1v6.5M306.2,454.1v3M324.6,454.1v6.5M343,454.1v3M361.4,454.1v6.5M379.8,454.1v3M398.1,454.1v6.5M416.5,454.1v3M434.9,454.1v6.5M453.3,454.1v3M471.7,454.1v6.5M490.1,454.1v3M508.5,454.1v6.5" stroke="#000" stroke-width="1.5"/>
<text x="287.8" y="475.2" font-size="15.2" text-anchor="middle">100</text>
<text x="324.6" y="475.2" font-size="15.2" text-anchor="middle">200</text>
<text x="361.4" y="475.2" font-size="15.2" text-anchor="middle">300</text>
<text x="398.1" y="475.2" font-size="15.2" text-anchor="middle">400</text>
<text x="434.9" y="475.2" font-size="15.2" text-anchor="middle">500</text>
<text x="471.7" y="475.2" font-size="15.2" text-anchor="middle">600</text>
<text x="508.5" y="475.2" font-size="15.2" text-anchor="middle">700</text>
<text x="337.8" y="491.8" font-size="15.6">Raman Shift (cm<tspan font-size="10.0" dy="-7.8">-1</tspan><tspan dy="7.8">)</tspan></text>
<text transform="translate(281.5,420.4) rotate(-90)" font-size="15.8">Intensity (arb. unit)</text>
<text x="366.9" y="267" font-size="13.6">(d) BFO-Si</text>
<text x="471.3" y="267" font-size="13.9">123 K</text>
<text transform="translate(297.3,355.5) rotate(-90)" font-size="12" text-anchor="middle">135</text>
<text transform="translate(309.3,264) rotate(-90)" font-size="12" text-anchor="middle">148</text>
<text transform="translate(322.7,361.5) rotate(-90)" font-size="12" text-anchor="middle">176</text>
<text transform="translate(338.1,363.8) rotate(-90)" font-size="12" text-anchor="middle">225</text>
<text transform="translate(352.3,416.1) rotate(-90)" font-size="12" text-anchor="middle">266</text>
<text transform="translate(361.8,418) rotate(-90)" font-size="12" text-anchor="middle">282</text>
<text transform="translate(372.4,418) rotate(-90)" font-size="12" text-anchor="middle">306</text>
<text transform="translate(384,423.5) rotate(-90)" font-size="12" text-anchor="middle">352</text>
<text transform="translate(394.6,424.6) rotate(-90)" font-size="12" text-anchor="middle">374</text>
<text transform="translate(412.5,425) rotate(-90)" font-size="12" text-anchor="middle">436</text>
<text transform="translate(429.8,417.5) rotate(-90)" font-size="12" text-anchor="middle">473</text>
<text transform="translate(446,421) rotate(-90)" font-size="12" text-anchor="middle">523</text>
<text transform="translate(461,421.2) rotate(-90)" font-size="12" text-anchor="middle">556</text>
<text transform="translate(481.7,410.6) rotate(-90)" font-size="12" text-anchor="middle">614</text>
<clipPath id="ce"><rect x="169.5" y="503.8" width="222.4" height="202.7"/></clipPath>
<g clip-path="url(#ce)">
<polyline points="169.5,693.6 169.9,693.5 170.2,693.6 170.6,693.6 171,693.5 171.4,693.4 171.7,693.4 172.1,693.1 172.5,692.8 172.8,692.5 173.2,692.5 173.6,692.2 173.9,691.9 174.3,691.6 174.7,691.5 175.1,690.9 175.4,690.2 175.8,689.2 176.2,688.6 176.5,687.1 176.9,685.6 177.3,683.5 177.7,681.2 178,678.4 178.4,675.3 178.8,671.9 179.1,668.1 179.5,662.9 179.9,657.9 180.2,652.3 180.6,646.8 181,641.5 181.4,635.7 181.7,630.8 182.1,625.3 182.5,620.2 182.8,614.2 183.2,608.1 183.6,601.7 184,594.9 184.3,587.5 184.7,578.7 185.1,569.4 185.4,559.7 185.8,550.1 186.2,541 186.6,533.7 186.9,530.2 187.3,531.3 187.7,536.3 188,544.6 188.4,555.1 188.8,567.7 189.1,581.4 189.5,596.2 189.9,611.1 190.3,624.8 190.6,636.6 191,645.9 191.4,653.6 191.7,659.5 192.1,663.8 192.5,665.9 192.9,666.9 193.2,666.9 193.6,666 194,663.6 194.3,659.8 194.7,655.2 195.1,649.4 195.4,643.6 195.8,637.4 196.2,631.6 196.6,626.1 196.9,622 197.3,619.3 197.7,618.2 198,618.6 198.4,621 198.8,624.7 199.2,629.6 199.5,635.3 199.9,642.3 200.3,649.5 200.6,656.6 201,663.1 201.4,668.9 201.7,673.9 202.1,678.3 202.5,682.1 202.9,685.3 203.2,687.7 203.6,689.6 204,691.1 204.3,692 204.7,692.3 205.1,692.4 205.5,692.7 205.8,693.2 206.2,693.5 206.6,693.2 206.9,692.7 207.3,692.3 207.7,691.6 208,690.9 208.4,689.3 208.8,687.9 209.2,685.8 209.5,684.1 209.9,681.7 210.3,679 210.6,675.5 211,671.7 211.4,668 211.8,663.9 212.1,659.5 212.5,654.7 212.9,650.3 213.2,645.5 213.6,641.3 214,637.5 214.4,634.5 214.7,631.8 215.1,629.9 215.5,628.9 215.8,628.8 216.2,629.6 216.6,631.2 216.9,633.7 217.3,637 217.7,641 218.1,645.3 218.4,649.6 218.8,654.4 219.2,659.3 219.5,663.9 219.9,668.3 220.3,672.4 220.7,676.1 221,679.3 221.4,681.9 221.8,684.5 222.1,686.7 222.5,688.7 222.9,690.1 223.2,691 223.6,691.6 224,692 224.4,692.3 224.7,692.1 225.1,692 225.5,691.3 225.8,690.5 226.2,689.2 226.6,687.9 227,687.3 227.3,686.3 227.7,685.3 228.1,683.9 228.4,683.2 228.8,682.5 229.2,681.6 229.5,681.1 229.9,680.7 230.3,680.6 230.7,680.5 231,680.5 231.4,681.1 231.8,681.5 232.1,682.1 232.5,682.3 232.9,682.5 233.3,682.6 233.6,683.1 234,683.4 234.4,683.6 234.7,683.5 235.1,683.8 235.5,683.9 235.8,684.1 236.2,683.8 236.6,683.9 237,683.6 237.3,683.7 237.7,684.2 238.1,684.7 238.4,684.8 238.8,684.7 239.2,684.5 239.6,684.9 239.9,685.2 240.3,685.4 240.7,685.8 241,686.3 241.4,686.3 241.8,686.7 242.2,686.4 242.5,686.7 242.9,686.4 243.3,686.9 243.6,687 244,687.3 244.4,687.3 244.7,687.7 245.1,687.4 245.5,687.2 245.9,687.2 246.2,687.6 246.6,687.8 247,688.4 247.3,688.6 247.7,688.8 248.1,688.9 248.5,689.1 248.8,689.6 249.2,690 249.6,690.4 249.9,690.6 250.3,690.8 250.7,691 251,691 251.4,691.4 251.8,691.6 252.2,692.3 252.5,692.4 252.9,692.3 253.3,692.3 253.6,692.3 254,692.3 254.4,692.1 254.8,692.1 255.1,691.9 255.5,691.6 255.9,691.3 256.2,691 256.6,690.5 257,690.3 257.3,690.3 257.7,690.1 258.1,689.8 258.5,689.7 258.8,689.2 259.2,688.9 259.6,688.2 259.9,688.4 260.3,688 260.7,688 261.1,687.7 261.4,688.1 261.8,688 262.2,688 262.5,687.9 262.9,687.9 263.3,688 263.6,688 264,688.4 264.4,688.8 264.8,689.2 265.1,689.2 265.5,689.1 265.9,689.2 266.2,689.8 266.6,690.1 267,690.2 267.4,689.9 267.7,690.2 268.1,690.4 268.5,690.5 268.8,690.3 269.2,690.3 269.6,689.9 270,690 270.3,690.1 270.7,690.3 271.1,690.4 271.4,690.6 271.8,691 272.2,691.8 272.5,691.9 272.9,692.3 273.3,692.6 273.7,693.4 274,693.7 274.4,693.6 274.8,693.6 275.1,693.8 275.5,694.3 275.9,694.7 276.3,694.8 276.6,694.6 277,694.5 277.4,694.4 277.7,694.7 278.1,694.8 278.5,694.8 278.8,694.3 279.2,694.2 279.6,694 280,694.4 280.3,694.2 280.7,694.5 281.1,694.5 281.4,694.4 281.8,694.1 282.2,693.8 282.6,693.7 282.9,693.5 283.3,693.5 283.7,693.5 284,693.7 284.4,693.4 284.8,692.7 285.1,692.3 285.5,691.9 285.9,691.9 286.3,691.2 286.6,690.8 287,690.4 287.4,690.4 287.7,689.8 288.1,689.2 288.5,688.9 288.9,688.8 289.2,688.2 289.6,687.6 290,687.2 290.3,686.6 290.7,686 291.1,685.3 291.4,685.1 291.8,684.8 292.2,684.6 292.6,684.5 292.9,684.2 293.3,684.2 293.7,683.8 294,684.1 294.4,683.8 294.8,683.9 295.2,683.5 295.5,683.7 295.9,684 296.3,684.5 296.6,684.6 297,684.5 297.4,684.4 297.8,684.1 298.1,683.7 298.5,683.8 298.9,683.4 299.2,683.3 299.6,683 300,683.7 300.3,683.8 300.7,683.5 301.1,683.3 301.5,683 301.8,682.7 302.2,682.1 302.6,681.7 302.9,681.2 303.3,680.8 303.7,680.6 304.1,680.5 304.4,680.3 304.8,680.1 305.2,679.7 305.5,679.5 305.9,679.8 306.3,679.8 306.6,679.9 307,679.6 307.4,679.5 307.8,679.5 308.1,679.9 308.5,680.8 308.9,680.9 309.2,681.1 309.6,681.2 310,681.6 310.4,682.1 310.7,682.7 311.1,683.5 311.5,684.5 311.8,685.3 312.2,685.6 312.6,685.6 312.9,685.8 313.3,686.3 313.7,686.7 314.1,687.1 314.4,687.7 314.8,688.2 315.2,689 315.5,689.1 315.9,689.4 316.3,689.4 316.7,689.6 317,689.8 317.4,690.1 317.8,690.5 318.1,691.2 318.5,691.3 318.9,691.6 319.2,691.8 319.6,691.7 320,691.9 320.4,691.6 320.7,691.8 321.1,691.5 321.5,691.2 321.8,691.1 322.2,691.3 322.6,691.2 323,690.5 323.3,689.8 323.7,689.3 324.1,688.8 324.4,688.5 324.8,687.9 325.2,687.5 325.6,686.4 325.9,685.8 326.3,685.3 326.7,685 327,684.9 327.4,684.6 327.8,684.7 328.1,684.7 328.5,685.1 328.9,685.2 329.3,685.7 329.6,686 330,686.6 330.4,687.3 330.7,687.8 331.1,688.3 331.5,688.5 331.9,689 332.2,689.4 332.6,689.5 333,689.2 333.3,689.3 333.7,689.3 334.1,689.7 334.4,689.2 334.8,689 335.2,688.5 335.6,688.8 335.9,688.7 336.3,688.7 336.7,687.9 337,687.6 337.4,687.2 337.8,686.7 338.2,686 338.5,686.1 338.9,686.1 339.3,686.3 339.6,685.8 340,685.9 340.4,686.2 340.7,686.5 341.1,686.5 341.5,686.3 341.9,686.4 342.2,686.9 342.6,687.3 343,687.6 343.3,687.5 343.7,687.7 344.1,687.9 344.5,688.1 344.8,688.4 345.2,688.3 345.6,688.1 345.9,688.2 346.3,688.2 346.7,688.5 347,688.1 347.4,687.9 347.8,687.7 348.2,687.6 348.5,687.6 348.9,687.5 349.3,687.6 349.6,687.3 350,686.9 350.4,686.5 350.8,686.3 351.1,685.7 351.5,685.2 351.9,684.8 352.2,684.7 352.6,684.3 353,683.5 353.4,682.7 353.7,682.5 354.1,682 354.5,681.1 354.8,680.6 355.2,679.8 355.6,679.5 355.9,678.6 356.3,677.9 356.7,677.3 357.1,676.5 357.4,675.7 357.8,674.8 358.2,674.5 358.5,674.5 358.9,674.3 359.3,674.2 359.7,673.4 360,673.1 360.4,673 360.8,673.6 361.1,674 361.5,674.2 361.9,674.6 362.2,674.7 362.6,675.3 363,675.9 363.4,676.8 363.7,677.1 364.1,677.5 364.5,678.4 364.8,679.3 365.2,680.2 365.6,680.8 366,681.5 366.3,682.4 366.7,683.3 367.1,684 367.4,684.6 367.8,684.8 368.2,685.3 368.5,685.8 368.9,686.6 369.3,687.1 369.7,687.4 370,687.6 370.4,688.2 370.8,688.8 371.1,689.3 371.5,689.4 371.9,689.4 372.3,689.7 372.6,689.9 373,690.1 373.4,690.6 373.7,690.8 374.1,691.2 374.5,691.5 374.8,691.6 375.2,691.6 375.6,691.9 376,692.3 376.3,692.5 376.7,692.2 377.1,692.2 377.4,692.5 377.8,693 378.2,692.6 378.6,692.6 378.9,692.3 379.3,692.7 379.7,692.8 380,692.9 380.4,693.2 380.8,693.3 381.2,693.5 381.5,693.3 381.9,693.6 382.3,693.8 382.6,693.9 383,693.7 383.4,693.6 383.7,693.9 384.1,694.2 384.5,694.4 384.9,694 385.2,693.9 385.6,693.6 386,694 386.3,694.2 386.7,694.3 387.1,694.1 387.5,694 387.8,694.2 388.2,694.4 388.6,694.6 388.9,694.5 389.3,694.8 389.7,694.9 390,695 390.4,694.9 390.8,694.4 391.2,694.6 391.5,694.7 391.9,695" fill="none" marker-start="url(#me)" marker-mid="url(#me)" marker-end="url(#me)"/>
<path d="M169.5,693.9l.4,-.1 .3,-.2 .4,-.1 .4,-.1 .4,-.1 .3,-.2 .4,-.1 .4,-.2 .3,-.2 .4,-.2 .4,-.2 .3,-.3 .4,-.3 .4,-.4 .4,-.5 .3,-.6 .4,-.7 .4,-1 .3,-1.2 .4,-1.5 .4,-1.9 .4,-2.3 .3,-2.8 .4,-3.3 .4,-3.8 .3,-4.2 .4,-4.7 .4,-5.1 .3,-5.3 .4,-5.5 .4,-5.6 .4,-5.5 .3,-5.4 .4,-5.4 .4,-5.3 .3,-5.5 .4,-5.7 .4,-6.2 .4,-6.9 .3,-7.8 .4,-8.6 .4,-9.5 .3,-10.1 .4,-9.9 .4,-8.9 .4,-6.6 .3,-3.2 .4,.9 .4,5 .3,8.2 .4,10.6 .4,12.4 .3,13.7 .4,14.6 .4,14.7 .4,13.8 .3,11.9 .4,9.7 .4,7.5 .3,5.7 .4,4 .4,2.5 .4,1.2 .3,-.1 .4,-1.4 .4,-2.6 .3,-3.6 .4,-4.6 .4,-5.4 .3,-5.8 .4,-6 .4,-5.8 .4,-5.1 .3,-4.2 .4,-2.9 .4,-1.3 .3,.4 .4,2.1 .4,3.7 .4,5 .3,6.1 .4,6.7 .4,7.1 .3,6.9 .4,6.7 .4,6 .3,5.3 .4,4.6 .4,3.7 .4,3 .3,2.3 .4,1.8 .4,1.3 .3,.9 .4,.6 .4,.4 .4,.3 .3,0 .4,0 .4,-.2 .3,-.3 .4,-.5 .4,-.7 .3,-.9 .4,-1.1 .4,-1.4 .4,-1.7 .3,-2.1 .4,-2.5 .4,-2.8 .3,-3.3 .4,-3.6 .4,-4 .4,-4.3 .3,-4.5 .4,-4.6 .4,-4.6 .3,-4.5 .4,-4.2 .4,-3.8 .4,-3.2 .3,-2.6 .4,-1.8 .4,-.9 .3,-.1 .4,.8 .4,1.7 .3,2.5 .4,3.1 .4,3.8 .4,4.1 .3,4.5 .4,4.6 .4,4.7 .3,4.6 .4,4.4 .4,4 .4,3.8 .3,3.3 .4,3 .4,2.5 .3,2.1 .4,1.8 .4,1.3 .3,1 .4,.7 .4,.4 .4,.2 .3,-.1 .4,-.3 .4,-.5 .3,-.7 .4,-.8 .4,-1 .4,-1 .3,-1 .4,-1.1 .4,-1 .3,-1 .4,-.9 .4,-.7 .3,-.5 .4,-.4 .4,-.2 .4,-.1 .3,.1 .4,.2 .4,.3 .3,.4 .4,.4 .4,.4 .4,.4 .3,.3 .4,.3 .4,.2 .3,.1 .4,.1 .4,.1 .3,0 .4,0 .4,0 .4,0 .3,.1 .4,.1 .4,.1 .3,.2 .4,.2 .4,.2 .4,.3 .3,.2 .4,.2 .4,.3 .3,.2 .4,.2 .4,.1 .4,.2 .3,.1 .4,.1 .4,.1 .3,.1 .4,.1 .4,-0 .3,.1 .4,.1 .4,.2 .4,.1 .3,.2 .4,.2 .4,.2 .3,.2 .4,.3 .4,.3 .4,.3 .3,.3 .4,.4 .4,.3 .3,.3 .4,.3 .4,.3 .3,.3 .4,.2 .4,.2 .4,.2 .3,.2 .4,.1 .4,-0 .3,-0 .4,-0 .4,-.1 .4,-.1 .3,-.2 .4,-.2 .4,-.2 .3,-.3 .4,-.2 .4,-.3 .3,-.4 .4,-.3 .4,-.3 .4,-.3 .3,-.3 .4,-.3 .4,-.3 .3,-.2 .4,-.2 .4,-.2 .4,-.1 .3,-0 .4,-.1 .4,-0 .3,.1 .4,.1 .4,.2 .3,.1 .4,.2 .4,.3 .4,.2 .3,.3 .4,.2 .4,.2 .3,.2 .4,.2 .4,.2 .4,.1 .3,-0 .4,.1 .4,-0 .3,-.1 .4,-0 .4,-0 .4,-0 .3,-0 .4,.1 .4,.1 .3,.2 .4,.3 .4,.3 .3,.3 .4,.3 .4,.4 .4,.4 .3,.3 .4,.4 .4,.3 .3,.3 .4,.2 .4,.2 .4,.1 .3,.1 .4,.1 .4,-0 .3,-0 .4,-0 .4,-0 .3,-0 .4,-0 .4,-.1 .4,-.1 .3,-0 .4,-.1 .4,-.1 .3,-.1 .4,-.1 .4,-.1 .4,-.2 .3,-.1 .4,-.2 .4,-.2 .3,-.2 .4,-.2 .4,-.3 .3,-.2 .4,-.3 .4,-.4 .4,-.3 .3,-.4 .4,-.3 .4,-.4 .3,-.5 .4,-.4 .4,-.5 .4,-.4 .3,-.5 .4,-.5 .4,-.5 .3,-.5 .4,-.5 .4,-.4 .3,-.4 .4,-.4 .4,-.3 .4,-.3 .3,-.2 .4,-.2 .4,-.1 .3,-.1 .4,-0 .4,.1 .4,-0 .3,.1 .4,.1 .4,.1 .3,-0 .4,.1 .4,.1 .4,-0 .3,-0 .4,-.1 .4,-.1 .3,-.1 .4,-.1 .4,-.2 .3,-.2 .4,-.2 .4,-.3 .4,-.3 .3,-.3 .4,-.3 .4,-.3 .3,-.4 .4,-.3 .4,-.3 .4,-.3 .3,-.3 .4,-.2 .4,-.2 .3,-.2 .4,-.1 .4,-0 .3,-0 .4,.1 .4,.1 .4,.2 .3,.2 .4,.3 .4,.3 .3,.4 .4,.4 .4,.5 .4,.4 .3,.5 .4,.5 .4,.5 .3,.5 .4,.5 .4,.5 .3,.5 .4,.5 .4,.5 .4,.5 .3,.4 .4,.4 .4,.4 .3,.4 .4,.4 .4,.4 .4,.3 .3,.3 .4,.3 .4,.2 .3,.3 .4,.2 .4,.1 .3,.2 .4,.1 .4,.1 .4,-0 .3,-0 .4,-.1 .4,-.1 .3,-.2 .4,-.3 .4,-.4 .4,-.4 .3,-.5 .4,-.5 .4,-.6 .3,-.7 .4,-.6 .4,-.7 .4,-.6 .3,-.6 .4,-.5 .4,-.4 .3,-.2 .4,-.1 .4,-0 .3,.2 .4,.3 .4,.4 .4,.5 .3,.5 .4,.6 .4,.5 .3,.5 .4,.5 .4,.4 .4,.4 .3,.2 .4,.2 .4,.1 .3,.1 .4,-.1 .4,-.1 .3,-.1 .4,-.2 .4,-.3 .4,-.3 .3,-.3 .4,-.3 .4,-.4 .3,-.4 .4,-.3 .4,-.3 .4,-.3 .3,-.2 .4,-.2 .4,-.1 .3,-0 .4,-0 .4,.1 .3,.2 .4,.2 .4,.2 .4,.2 .3,.2 .4,.3 .4,.2 .3,.2 .4,.2 .4,.1 .4,.2 .3,.1 .4,-0 .4,.1 .3,-0 .4,-0 .4,-0 .3,-.1 .4,-.1 .4,-.1 .4,-.1 .3,-.2 .4,-.2 .4,-.2 .3,-.3 .4,-.2 .4,-.3 .4,-.4 .3,-.3 .4,-.4 .4,-.4 .3,-.5 .4,-.4 .4,-.6 .4,-.5 .3,-.6 .4,-.6 .4,-.6 .3,-.7 .4,-.6 .4,-.7 .3,-.7 .4,-.7 .4,-.7 .4,-.7 .3,-.7 .4,-.6 .4,-.5 .3,-.5 .4,-.4 .4,-.3 .4,-.2 .3,-.1 .4,-0 .4,.1 .3,.2 .4,.3 .4,.5 .3,.5 .4,.5 .4,.7 .4,.7 .3,.7 .4,.7 .4,.7 .3,.8 .4,.7 .4,.8 .4,.7 .3,.6 .4,.7 .4,.6 .3,.6 .4,.6 .4,.6 .3,.5 .4,.5 .4,.4 .4,.5 .3,.4 .4,.4 .4,.4 .3,.3 .4,.3 .4,.3 .4,.3 .3,.3 .4,.3 .4,.2 .3,.3 .4,.2 .4,.2 .3,.2 .4,.2 .4,.1 .4,.2 .3,.2 .4,.1 .4,.2 .3,.1 .4,.1 .4,.1 .4,.2 .3,.1 .4,.1 .4,.1 .3,.1 .4,.1 .4,.1 .4,-0 .3,.1 .4,.1 .4,.1 .3,-0 .4,.1 .4,.1 .3,-0 .4,.1 .4,.1 .4,-0 .3,.1 .4,-0 .4,.1 .3,-0 .4,.1 .4,-0 .4,-0 .3,.1 .4,-0 .4,.1 .3,-0 .4,-0 .4,.1 .3,-0 .4,-0 .4,.1 .4,-0 .3,-0 .4,.1" stroke="#d4145a" stroke-width="1.8"/>
<path d="M175.1,695.7l.3,-.3 .4,-.4 .4,-.6 .3,-.8 .4,-1.1 .4,-1.4 .4,-1.8 .3,-2.2 .4,-2.6 .4,-3 .3,-3.3 .4,-3.7 .4,-3.8 .3,-3.9 .4,-3.8 .4,-3.4 .4,-2.9 .3,-2.2 .4,-1.3 .4,-.5 .3,.5 .4,1.3 .4,2.2 .4,2.9 .3,3.4 .4,3.8 .4,3.9 .3,3.8 .4,3.7 .4,3.3 .4,3 .3,2.6 .4,2.2 .4,1.8 .3,1.4 .4,1.1 .4,.8 .3,.6 .4,.4 .4,.3" stroke="#22cc22" stroke-width="1"/>
<path d="M169.5,693.9l.4,-.1 .3,-.1 .4,-.1 .4,-.1 .4,-.1 .3,-.2 .4,-.1 .4,-.2 .3,-.2 .4,-.2 .4,-.2 .3,-.2 .4,-.2 .4,-.3 .4,-.2 .3,-.3 .4,-.4 .4,-.3 .3,-.4 .4,-.5 .4,-.4 .4,-.6 .3,-.6 .4,-.7 .4,-.7 .3,-.9 .4,-1 .4,-1.3 .3,-1.4 .4,-1.8 .4,-2.1 .4,-2.6 .3,-3.3 .4,-4 .4,-4.8 .3,-6 .4,-7.1 .4,-8.4 .4,-9.8 .3,-11.1 .4,-12.4 .4,-13.4 .3,-13.9 .4,-13.6 .4,-12.3 .4,-9.6 .3,-5.8 .4,-1.2 .4,3.2 .3,6.9 .4,9.5 .4,11.5 .3,13.2 .4,14.2 .4,14.5 .4,13.7 .3,12.1 .4,10 .4,8 .3,6.5 .4,5.2 .4,4.2 .4,3.4 .3,2.7 .4,2.2 .4,1.9 .3,1.5 .4,1.2 .4,1.1 .3,.9 .4,.8 .4,.7 .4,.6 .3,.6 .4,.5 .4,.4 .3,.4 .4,.4 .4,.3 .4,.3 .3,.3 .4,.3 .4,.2 .3,.2 .4,.2 .4,.2 .3,.2 .4,.1 .4,.2 .4,.1 .3,.2 .4,.1 .4,.1 .3,.1 .4,.1 .4,.1 .4,.1 .3,.1 .4,.1 .4,-0 .3,.1 .4,.1 .4,-0 .3,.1 .4,.1 .4,-0 .4,.1 .3,-0 .4,.1 .4,-0 .3,-0 .4,.1 .4,-0 .4,.1 .3,-0 .4,-0 .4,.1 .3,-0 .4,-0 .4,.1 .4,-0 .3,-0 .4,-0 .4,.1 .3,-0 .4,-0 .4,-0 .3,.1 .4,-0 .4,-0 .4,-0" stroke="#3322dd" stroke-width="2.4"/>
<path d="M190.6,695.6l.4,-.4 .4,-.5 .3,-.9 .4,-1.2 .4,-1.7 .4,-2.2 .3,-2.9 .4,-3.6 .4,-4.3 .3,-5.2 .4,-5.8 .4,-6.5 .3,-6.7 .4,-6.8 .4,-6.5 .4,-5.8 .3,-4.7 .4,-3.3 .4,-1.8 .3,-0 .4,1.8 .4,3.3 .4,4.7 .3,5.8 .4,6.5 .4,6.8 .3,6.7 .4,6.5 .4,5.8 .3,5.2 .4,4.3 .4,3.6 .4,2.9 .3,2.2 .4,1.7 .4,1.2 .3,.9 .4,.5 .4,.4" stroke="#33cccc" stroke-width="2.4"/>
<path d="M205.8,695.7l.4,-.2 .4,-.3 .3,-.5 .4,-.5 .4,-.8 .3,-.9 .4,-1.2 .4,-1.5 .4,-1.7 .3,-2.2 .4,-2.5 .4,-2.9 .3,-3.3 .4,-3.7 .4,-4 .4,-4.3 .3,-4.6 .4,-4.6 .4,-4.7 .3,-4.5 .4,-4.2 .4,-3.8 .4,-3.3 .3,-2.6 .4,-1.8 .4,-.9 .3,-.1 .4,.8 .4,1.6 .3,2.5 .4,3.1 .4,3.7 .4,4.2 .3,4.4 .4,4.7 .4,4.6 .3,4.6 .4,4.3 .4,4.1 .4,3.8 .3,3.4 .4,3 .4,2.5 .3,2.3 .4,1.8 .4,1.5 .3,1.3 .4,1 .4,.7 .4,.6 .3,.5 .4,.3 .4,.3" stroke="#ee22cc" stroke-width="2.4"/>
<path d="M222.9,695.7l.3,-.3 .4,-.3 .4,-.4 .4,-.4 .3,-.6 .4,-.6 .4,-.8 .3,-.8 .4,-1 .4,-1 .4,-1 .3,-1 .4,-1 .4,-1 .3,-.8 .4,-.7 .4,-.6 .3,-.3 .4,-.1 .4,.1 .4,.3 .3,.6 .4,.7 .4,.8 .3,1 .4,1 .4,1 .4,1 .3,1 .4,1 .4,.8 .3,.8 .4,.6 .4,.6 .3,.4 .4,.4 .4,.3 .4,.3" stroke="#cc8800" stroke-width="1"/>
<path d="M228.8,695.5l.4,-.2 .3,-.2 .4,-.3 .4,-.3 .4,-.4 .3,-.4 .4,-.4 .4,-.5 .3,-.6 .4,-.6 .4,-.6 .4,-.6 .3,-.6 .4,-.6 .4,-.5 .3,-.5 .4,-.5 .4,-.3 .3,-.3 .4,-.2 .4,-.1 .4,0 .3,.2 .4,.2 .4,.3 .3,.4 .4,.5 .4,.5 .4,.6 .3,.6 .4,.6 .4,.6 .3,.6 .4,.5 .4,.6 .4,.5 .3,.4 .4,.4 .4,.3 .3,.3 .4,.3 .4,.2 .3,.2" stroke="#2233cc" stroke-width="1"/>
<path d="M235.1,695.5l.4,-.1 .3,-.2 .4,-.2 .4,-.2 .4,-.2 .3,-.3 .4,-.2 .4,-.3 .3,-.3 .4,-.3 .4,-.4 .4,-.4 .3,-.3 .4,-.4 .4,-.4 .3,-.4 .4,-.3 .4,-.4 .4,-.3 .3,-.4 .4,-.3 .4,-.2 .3,-.2 .4,-.2 .4,-.2 .3,-.1 .4,-0 .4,-0 .4,.1 .3,.1 .4,.1 .4,.2 .3,.2 .4,.3 .4,.3 .4,.3 .3,.4 .4,.3 .4,.4 .3,.4 .4,.4 .4,.4 .3,.3 .4,.4 .4,.3 .4,.3 .3,.4 .4,.2 .4,.3 .3,.2 .4,.3 .4,.2 .4,.1 .3,.2 .4,.1" stroke="#7722aa" stroke-width="1"/>
<path d="M251.4,695.6l.4,-.1 .4,-.2 .3,-.2 .4,-.1 .4,-.2 .3,-.3 .4,-.2 .4,-.3 .4,-.3 .3,-.3 .4,-.3 .4,-.4 .3,-.4 .4,-.3 .4,-.4 .3,-.4 .4,-.3 .4,-.4 .4,-.4 .3,-.3 .4,-.3 .4,-.3 .3,-.2 .4,-.2 .4,-.2 .4,-.1 .3,-.1 .4,-0 .4,-0 .3,.1 .4,.1 .4,.2 .3,.2 .4,.2 .4,.3 .4,.3 .3,.3 .4,.4 .4,.4 .3,.3 .4,.4 .4,.4 .4,.3 .3,.4 .4,.4 .4,.3 .3,.3 .4,.3 .4,.3 .4,.2 .3,.3 .4,.2 .4,.1 .3,.2 .4,.2 .4,.1" stroke="#aa1133" stroke-width="1"/>
<path d="M266.2,695.7l.4,-.2 .4,-.2 .4,-.3 .3,-.3 .4,-.3 .4,-.3 .3,-.3 .4,-.4 .4,-.2 .4,-.3 .3,-.1 .4,-.2 .4,-0 .3,-0 .4,.2 .4,.1 .3,.3 .4,.2 .4,.4 .4,.3 .3,.3 .4,.3 .4,.3 .3,.3 .4,.2 .4,.2" stroke="#228833" stroke-width="1"/>
<path d="M279.2,695.5l.4,0 .4,-.1 .3,0 .4,-.1 .4,-.1 .3,-.1 .4,-.1 .4,-.1 .4,-.1 .3,-.1 .4,-.2 .4,-.1 .3,-.2 .4,-.2 .4,-.2 .3,-.3 .4,-.2 .4,-.3 .4,-.3 .3,-.3 .4,-.4 .4,-.3 .3,-.4 .4,-.4 .4,-.4 .4,-.4 .3,-.4 .4,-.5 .4,-.4 .3,-.4 .4,-.3 .4,-.4 .3,-.3 .4,-.2 .4,-.2 .4,-.1 .3,-.1 .4,0 .4,.1 .3,.2 .4,.2 .4,.2 .4,.4 .3,.3 .4,.4 .4,.4 .3,.4 .4,.4 .4,.4 .4,.5 .3,.4 .4,.3 .4,.4 .3,.4 .4,.3 .4,.3 .3,.3 .4,.3 .4,.2 .4,.2 .3,.3 .4,.2 .4,.1 .3,.2 .4,.1 .4,.2 .4,.1 .3,.1 .4,.1 .4,0 .3,.1 .4,.1 .4,0 .3,.1 .4,0" stroke="#2244cc" stroke-width="1"/>
<path d="M285.1,695.5l.4,0 .4,-.1 .4,0 .3,0 .4,-.1 .4,0 .3,-.1 .4,0 .4,-.1 .4,0 .3,-.1 .4,-.1 .4,0 .3,-.1 .4,-.1 .4,-.1 .3,-.1 .4,-.2 .4,-.1 .4,-.1 .3,-.2 .4,-.2 .4,-.2 .3,-.2 .4,-.2 .4,-.2 .4,-.3 .3,-.2 .4,-.3 .4,-.3 .3,-.4 .4,-.3 .4,-.4 .4,-.4 .3,-.4 .4,-.4 .4,-.4 .3,-.5 .4,-.5 .4,-.5 .3,-.4 .4,-.6 .4,-.5 .4,-.5 .3,-.5 .4,-.5 .4,-.5 .3,-.5 .4,-.4 .4,-.4 .4,-.4 .3,-.4 .4,-.3 .4,-.3 .3,-.2 .4,-.2 .4,-.1 .3,0 .4,0 .4,.1 .4,.2 .3,.2 .4,.3 .4,.3 .3,.4 .4,.4 .4,.4 .4,.4 .3,.5 .4,.5 .4,.5 .3,.5 .4,.5 .4,.5 .3,.6 .4,.4 .4,.5 .4,.5 .3,.5 .4,.4 .4,.4 .3,.4 .4,.4 .4,.4 .4,.3 .3,.4 .4,.3 .4,.3 .3,.2 .4,.3 .4,.2 .3,.2 .4,.2 .4,.2 .4,.2 .3,.2 .4,.1 .4,.1 .3,.2 .4,.1 .4,.1 .4,.1 .3,.1 .4,0 .4,.1 .3,.1 .4,0 .4,.1 .4,0 .3,.1 .4,0 .4,.1 .3,0 .4,0 .4,.1 .3,0" stroke="#6622aa" stroke-width="1"/>
<path d="M320.7,695.6l.4,-.2 .4,-.3 .3,-.2 .4,-.4 .4,-.4 .4,-.5 .3,-.5 .4,-.6 .4,-.6 .3,-.7 .4,-.6 .4,-.7 .4,-.6 .3,-.6 .4,-.5 .4,-.3 .3,-.2 .4,-.1 .4,.1 .3,.2 .4,.4 .4,.5 .4,.6 .3,.6 .4,.7 .4,.7 .3,.6 .4,.6 .4,.6 .4,.5 .3,.5 .4,.4 .4,.3 .3,.3 .4,.2 .4,.2" stroke="#ee7700" stroke-width="1"/>
<path d="M324.1,695.5l.3,0 .4,-.1 .4,0 .4,-.1 .3,0 .4,-.1 .4,0 .3,-.1 .4,0 .4,-.1 .3,-.1 .4,0 .4,-.1 .4,-.1 .3,-.1 .4,-.1 .4,-.1 .3,-.2 .4,-.1 .4,-.1 .4,-.2 .3,-.2 .4,-.2 .4,-.2 .3,-.2 .4,-.2 .4,-.3 .3,-.2 .4,-.3 .4,-.3 .4,-.4 .3,-.3 .4,-.3 .4,-.4 .3,-.3 .4,-.3 .4,-.3 .4,-.2 .3,-.2 .4,-.1 .4,0 .3,0 .4,.1 .4,.2 .3,.2 .4,.3 .4,.3 .4,.3 .3,.4 .4,.3 .4,.3 .3,.4 .4,.3 .4,.3 .4,.2 .3,.3 .4,.2 .4,.2 .3,.2 .4,.2 .4,.2 .3,.2 .4,.1 .4,.1 .4,.2 .3,.1 .4,.1 .4,.1 .3,.1 .4,.1 .4,0 .4,.1 .3,.1 .4,0 .4,.1 .3,0 .4,.1 .4,0 .4,.1 .3,0 .4,.1 .4,0" stroke="#8822cc" stroke-width="1"/>
<path d="M321.5,695.5l.3,0 .4,0 .4,0 .4,-.1 .3,0 .4,0 .4,0 .3,0 .4,0 .4,-.1 .4,0 .3,0 .4,0 .4,-.1 .3,0 .4,0 .4,0 .3,0 .4,-.1 .4,0 .4,0 .3,-.1 .4,0 .4,0 .3,0 .4,-.1 .4,0 .4,0 .3,-.1 .4,0 .4,-.1 .3,0 .4,0 .4,-.1 .3,0 .4,-.1 .4,0 .4,-.1 .3,0 .4,-.1 .4,0 .3,-.1 .4,-.1 .4,0 .4,-.1 .3,-.1 .4,0 .4,-.1 .3,-.1 .4,-.1 .4,-.1 .3,-.1 .4,-.1 .4,-.1 .4,-.1 .3,-.1 .4,-.1 .4,-.1 .3,-.1 .4,-.2 .4,-.1 .4,-.2 .3,-.1 .4,-.2 .4,-.2 .3,-.2 .4,-.2 .4,-.2 .3,-.2 .4,-.3 .4,-.2 .4,-.3 .3,-.3 .4,-.3 .4,-.3 .3,-.3 .4,-.4 .4,-.4 .4,-.4 .3,-.4 .4,-.4 .4,-.5 .3,-.5 .4,-.6 .4,-.5 .4,-.6 .3,-.6 .4,-.7 .4,-.7 .3,-.6 .4,-.8 .4,-.7 .3,-.7 .4,-.7 .4,-.8 .4,-.7 .3,-.6 .4,-.7 .4,-.6 .3,-.5 .4,-.4 .4,-.3 .4,-.3 .3,-.1 .4,0 .4,.1 .3,.2 .4,.3 .4,.4 .3,.5 .4,.6 .4,.6 .4,.7 .3,.7 .4,.7 .4,.7 .3,.8 .4,.7 .4,.7 .4,.7 .3,.7 .4,.6 .4,.7 .3,.6 .4,.5 .4,.6 .3,.5 .4,.5 .4,.4 .4,.5 .3,.4 .4,.3 .4,.4 .3,.4 .4,.3 .4,.3 .4,.3 .3,.2 .4,.3 .4,.2 .3,.3 .4,.2 .4,.2 .3,.2 .4,.2 .4,.1 .4,.2 .3,.1 .4,.2 .4,.1 .3,.2 .4,.1 .4,.1 .4,.1 .3,.1 .4,.1 .4,.1 .3,.1 .4,.1 .4,.1 .4,.1 .3,.1 .4,0 .4,.1 .3,.1 .4,0 .4,.1 .3,.1 .4,0 .4,.1 .4,0 .3,.1 .4,0 .4,.1 .3,0 .4,.1 .4,0 .4,0 .3,.1 .4,-0 .4,.1 .3,-0 .4,-0 .4,.1 .3,-0 .4,-0 .4,-0 .4,.1 .3,-0 .4,-0" stroke="#cc1155" stroke-width="1"/>
<path d="M169.5,696.3H391.9" stroke="#e0208a" stroke-width="1.3"/>
</g>
<rect x="169.5" y="503.8" width="222.4" height="202.7" fill="none" stroke="#000" stroke-width="1.5"/>
<path d="M169.5,706.5v6.5M188,706.5v3M206.6,706.5v6.5M225.1,706.5v3M243.6,706.5v6.5M262.2,706.5v3M280.7,706.5v6.5M299.2,706.5v3M317.8,706.5v6.5M336.3,706.5v3M354.8,706.5v6.5M373.4,706.5v3M391.9,706.5v6.5" stroke="#000" stroke-width="1.5"/>
<text x="169.5" y="727.2" font-size="14.8" text-anchor="middle">100</text>
<text x="206.6" y="727.2" font-size="14.8" text-anchor="middle">200</text>
<text x="243.6" y="727.2" font-size="14.8" text-anchor="middle">300</text>
<text x="280.7" y="727.2" font-size="14.8" text-anchor="middle">400</text>
<text x="317.8" y="727.2" font-size="14.8" text-anchor="middle">500</text>
<text x="354.8" y="727.2" font-size="14.8" text-anchor="middle">600</text>
<text x="391.9" y="727.2" font-size="14.8" text-anchor="middle">700</text>
<text x="222.2" y="743.5" font-size="15.7">Raman Shift (cm<tspan font-size="10.0" dy="-7.8">-1</tspan><tspan dy="7.8">)</tspan></text>
<text transform="translate(162,659.5) rotate(-90)" font-size="14.7">Intensity (arb. unit)</text>
<text x="227.4" y="518.5" font-size="13.3">(e) BFO-CFO-NT</text>
<text x="356.2" y="518.7" font-size="12.9">123 K</text>
<text transform="translate(178.9,603.4) rotate(-90)" font-size="11" text-anchor="middle">132</text>
<text transform="translate(192.7,517.1) rotate(-90)" font-size="11" text-anchor="middle">147</text>
<text transform="translate(203.9,602.9) rotate(-90)" font-size="11" text-anchor="middle">176</text>
<text transform="translate(219.6,616.4) rotate(-90)" font-size="11" text-anchor="middle">225</text>
<text transform="translate(235,666.1) rotate(-90)" font-size="11" text-anchor="middle">266</text>
<text transform="translate(245.6,670.9) rotate(-90)" font-size="11" text-anchor="middle">282</text>
<text transform="translate(256.2,673.5) rotate(-90)" font-size="11" text-anchor="middle">305</text>
<text transform="translate(266.7,674.6) rotate(-90)" font-size="11" text-anchor="middle">352</text>
<text transform="translate(279.6,675.2) rotate(-90)" font-size="11" text-anchor="middle">375</text>
<text transform="translate(295.2,673.4) rotate(-90)" font-size="11" text-anchor="middle">435</text>
<text transform="translate(310.1,664.9) rotate(-90)" font-size="11" text-anchor="middle">473</text>
<text transform="translate(329.4,671.2) rotate(-90)" font-size="11" text-anchor="middle">523</text>
<text transform="translate(343.3,673.4) rotate(-90)" font-size="11" text-anchor="middle">555</text>
<text transform="translate(364.5,658.7) rotate(-90)" font-size="11" text-anchor="middle">614</text>
</svg>
</body></html>
